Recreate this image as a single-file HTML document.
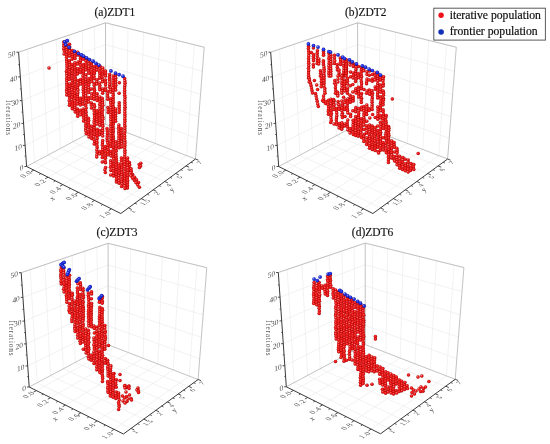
<!DOCTYPE html>
<html><head><meta charset="utf-8"><title>ZDT populations</title>
<style>html,body{margin:0;padding:0;background:#fff;width:550px;height:444px;overflow:hidden}svg{display:block}</style>
</head><body>
<svg width="550" height="444" viewBox="0 0 550 444">
<defs>
<radialGradient id="rb" cx="0.5" cy="0.5" r="0.55" fx="0.38" fy="0.35"><stop offset="0" stop-color="#ff9494"/><stop offset="0.25" stop-color="#f52c2c"/><stop offset="0.6" stop-color="#e01010"/><stop offset="0.85" stop-color="#b40000"/><stop offset="1" stop-color="#900000"/></radialGradient>
<radialGradient id="bb" cx="0.5" cy="0.5" r="0.55" fx="0.38" fy="0.35"><stop offset="0" stop-color="#a0a8ff"/><stop offset="0.3" stop-color="#3040f0"/><stop offset="0.75" stop-color="#1020c0"/><stop offset="1" stop-color="#000880"/></radialGradient>
</defs>
<rect width="550" height="444" fill="#fff"/>
<line x1="34.6" y1="162.3" x2="27.5" y2="49.2" stroke="#eaeaea" stroke-width="0.6"/>
<line x1="47.9" y1="155.2" x2="42.2" y2="44.2" stroke="#eaeaea" stroke-width="0.6"/>
<line x1="60.5" y1="148.4" x2="56.2" y2="39.5" stroke="#eaeaea" stroke-width="0.6"/>
<line x1="72.6" y1="141.9" x2="69.6" y2="35" stroke="#eaeaea" stroke-width="0.6"/>
<line x1="84.2" y1="135.7" x2="82.3" y2="30.7" stroke="#eaeaea" stroke-width="0.6"/>
<line x1="95.4" y1="129.7" x2="94.4" y2="26.6" stroke="#eaeaea" stroke-width="0.6"/>
<line x1="25.1" y1="145.4" x2="105.6" y2="105.3" stroke="#eaeaea" stroke-width="0.6"/>
<line x1="23.6" y1="123.4" x2="105.5" y2="85.7" stroke="#eaeaea" stroke-width="0.6"/>
<line x1="22" y1="100.6" x2="105.5" y2="65.4" stroke="#eaeaea" stroke-width="0.6"/>
<line x1="20.4" y1="76.9" x2="105.5" y2="44.5" stroke="#eaeaea" stroke-width="0.6"/>
<line x1="18.6" y1="52.2" x2="105.5" y2="22.8" stroke="#eaeaea" stroke-width="0.6"/>
<line x1="112.5" y1="127" x2="113.1" y2="24.7" stroke="#eaeaea" stroke-width="0.6"/>
<line x1="126.2" y1="132.3" x2="128" y2="28.4" stroke="#eaeaea" stroke-width="0.6"/>
<line x1="140.5" y1="137.8" x2="143.6" y2="32.2" stroke="#eaeaea" stroke-width="0.6"/>
<line x1="155.3" y1="143.5" x2="159.8" y2="36.2" stroke="#eaeaea" stroke-width="0.6"/>
<line x1="170.7" y1="149.4" x2="176.7" y2="40.4" stroke="#eaeaea" stroke-width="0.6"/>
<line x1="186.7" y1="155.6" x2="194.4" y2="44.8" stroke="#eaeaea" stroke-width="0.6"/>
<line x1="105.6" y1="105.3" x2="197.1" y2="138.3" stroke="#eaeaea" stroke-width="0.6"/>
<line x1="105.5" y1="85.7" x2="198.8" y2="116.8" stroke="#eaeaea" stroke-width="0.6"/>
<line x1="105.5" y1="65.4" x2="200.5" y2="94.4" stroke="#eaeaea" stroke-width="0.6"/>
<line x1="105.5" y1="44.5" x2="202.3" y2="71.3" stroke="#eaeaea" stroke-width="0.6"/>
<line x1="105.5" y1="22.8" x2="204.2" y2="47.2" stroke="#eaeaea" stroke-width="0.6"/>
<line x1="33.8" y1="170.1" x2="112.5" y2="127" stroke="#eaeaea" stroke-width="0.6"/>
<line x1="48" y1="177.2" x2="126.2" y2="132.3" stroke="#eaeaea" stroke-width="0.6"/>
<line x1="62.8" y1="184.6" x2="140.5" y2="137.8" stroke="#eaeaea" stroke-width="0.6"/>
<line x1="78.2" y1="192.3" x2="155.3" y2="143.5" stroke="#eaeaea" stroke-width="0.6"/>
<line x1="94.4" y1="200.4" x2="170.7" y2="149.4" stroke="#eaeaea" stroke-width="0.6"/>
<line x1="111.4" y1="208.8" x2="186.7" y2="155.6" stroke="#eaeaea" stroke-width="0.6"/>
<line x1="34.6" y1="162.3" x2="128.5" y2="207.9" stroke="#eaeaea" stroke-width="0.6"/>
<line x1="47.9" y1="155.2" x2="141.2" y2="198.6" stroke="#eaeaea" stroke-width="0.6"/>
<line x1="60.5" y1="148.4" x2="153.2" y2="189.8" stroke="#eaeaea" stroke-width="0.6"/>
<line x1="72.6" y1="141.9" x2="164.7" y2="181.5" stroke="#eaeaea" stroke-width="0.6"/>
<line x1="84.2" y1="135.7" x2="175.6" y2="173.5" stroke="#eaeaea" stroke-width="0.6"/>
<line x1="95.4" y1="129.7" x2="186" y2="165.9" stroke="#eaeaea" stroke-width="0.6"/>
<line x1="18.6" y1="52.2" x2="105.5" y2="22.8" stroke="#b4b4b4" stroke-width="0.8"/>
<line x1="105.5" y1="22.8" x2="204.2" y2="47.2" stroke="#b4b4b4" stroke-width="0.8"/>
<line x1="204.2" y1="47.2" x2="195.5" y2="159" stroke="#b4b4b4" stroke-width="0.8"/>
<line x1="105.5" y1="22.8" x2="105.6" y2="124.3" stroke="#b4b4b4" stroke-width="0.8"/>
<line x1="105.6" y1="124.3" x2="195.5" y2="159" stroke="#b4b4b4" stroke-width="0.8"/>
<line x1="26.6" y1="166.5" x2="105.6" y2="124.3" stroke="#b4b4b4" stroke-width="0.8"/>
<line x1="26.6" y1="166.5" x2="18.6" y2="52.2" stroke="#3a3a3a" stroke-width="1.0"/>
<line x1="26.6" y1="166.5" x2="120.8" y2="213.5" stroke="#3a3a3a" stroke-width="1.0"/>
<line x1="120.8" y1="213.5" x2="195.5" y2="159" stroke="#3a3a3a" stroke-width="1.0"/>
<line x1="26.6" y1="166.5" x2="24.4" y2="166.5" stroke="#3a3a3a" stroke-width="0.9"/>
<line x1="25.1" y1="145.4" x2="22.9" y2="145.4" stroke="#3a3a3a" stroke-width="0.9"/>
<line x1="23.6" y1="123.4" x2="21.4" y2="123.4" stroke="#3a3a3a" stroke-width="0.9"/>
<line x1="22" y1="100.6" x2="19.8" y2="100.6" stroke="#3a3a3a" stroke-width="0.9"/>
<line x1="20.4" y1="76.9" x2="18.2" y2="76.9" stroke="#3a3a3a" stroke-width="0.9"/>
<line x1="18.6" y1="52.2" x2="16.4" y2="52.2" stroke="#3a3a3a" stroke-width="0.9"/>
<line x1="25.9" y1="156.1" x2="24.6" y2="156.1" stroke="#3a3a3a" stroke-width="0.8"/>
<line x1="24.4" y1="134.5" x2="23.1" y2="134.5" stroke="#3a3a3a" stroke-width="0.8"/>
<line x1="22.8" y1="112.1" x2="21.5" y2="112.1" stroke="#3a3a3a" stroke-width="0.8"/>
<line x1="21.2" y1="88.9" x2="19.9" y2="88.9" stroke="#3a3a3a" stroke-width="0.8"/>
<line x1="19.5" y1="64.7" x2="18.2" y2="64.7" stroke="#3a3a3a" stroke-width="0.8"/>
<line x1="33.8" y1="170.1" x2="31" y2="171.6" stroke="#3a3a3a" stroke-width="0.9"/>
<line x1="48" y1="177.2" x2="45.2" y2="178.7" stroke="#3a3a3a" stroke-width="0.9"/>
<line x1="62.8" y1="184.6" x2="60" y2="186.2" stroke="#3a3a3a" stroke-width="0.9"/>
<line x1="78.2" y1="192.3" x2="75.5" y2="194" stroke="#3a3a3a" stroke-width="0.9"/>
<line x1="94.4" y1="200.4" x2="91.8" y2="202.1" stroke="#3a3a3a" stroke-width="0.9"/>
<line x1="111.4" y1="208.8" x2="108.7" y2="210.7" stroke="#3a3a3a" stroke-width="0.9"/>
<line x1="40.8" y1="173.6" x2="39.1" y2="174.5" stroke="#3a3a3a" stroke-width="0.8"/>
<line x1="55.3" y1="180.8" x2="53.6" y2="181.8" stroke="#3a3a3a" stroke-width="0.8"/>
<line x1="70.4" y1="188.4" x2="68.8" y2="189.4" stroke="#3a3a3a" stroke-width="0.8"/>
<line x1="86.3" y1="196.3" x2="84.6" y2="197.3" stroke="#3a3a3a" stroke-width="0.8"/>
<line x1="102.8" y1="204.5" x2="101.2" y2="205.6" stroke="#3a3a3a" stroke-width="0.8"/>
<line x1="128.5" y1="207.9" x2="131.7" y2="209.5" stroke="#3a3a3a" stroke-width="0.9"/>
<line x1="141.2" y1="198.6" x2="144.4" y2="200.1" stroke="#3a3a3a" stroke-width="0.9"/>
<line x1="153.2" y1="189.8" x2="156.4" y2="191.3" stroke="#3a3a3a" stroke-width="0.9"/>
<line x1="164.7" y1="181.5" x2="167.8" y2="182.8" stroke="#3a3a3a" stroke-width="0.9"/>
<line x1="175.6" y1="173.5" x2="178.7" y2="174.8" stroke="#3a3a3a" stroke-width="0.9"/>
<line x1="186" y1="165.9" x2="189.1" y2="167.2" stroke="#3a3a3a" stroke-width="0.9"/>
<line x1="195.5" y1="159" x2="198.5" y2="160.2" stroke="#3a3a3a" stroke-width="0.9"/>
<line x1="134.9" y1="203.2" x2="136.9" y2="204.1" stroke="#3a3a3a" stroke-width="0.8"/>
<line x1="147.3" y1="194.2" x2="149.2" y2="195.1" stroke="#3a3a3a" stroke-width="0.8"/>
<line x1="159" y1="185.6" x2="160.9" y2="186.4" stroke="#3a3a3a" stroke-width="0.8"/>
<line x1="170.2" y1="177.5" x2="172.1" y2="178.2" stroke="#3a3a3a" stroke-width="0.8"/>
<line x1="180.9" y1="169.7" x2="182.7" y2="170.4" stroke="#3a3a3a" stroke-width="0.8"/>
<line x1="191" y1="162.3" x2="192.9" y2="163" stroke="#3a3a3a" stroke-width="0.8"/>
<text x="0" y="0" font-size="7.8" text-anchor="end" transform="matrix(0.95 -0.3 0 1 23.4 169.9)" fill="#4e4e4e" font-family="Liberation Serif, serif" >0</text>
<text x="0" y="0" font-size="7.8" text-anchor="end" transform="matrix(0.95 -0.3 0 1 21.9 148.8)" fill="#4e4e4e" font-family="Liberation Serif, serif" >10</text>
<text x="0" y="0" font-size="7.8" text-anchor="end" transform="matrix(0.95 -0.3 0 1 20.4 126.8)" fill="#4e4e4e" font-family="Liberation Serif, serif" >20</text>
<text x="0" y="0" font-size="7.8" text-anchor="end" transform="matrix(0.95 -0.3 0 1 18.8 104)" fill="#4e4e4e" font-family="Liberation Serif, serif" >30</text>
<text x="0" y="0" font-size="7.8" text-anchor="end" transform="matrix(0.95 -0.3 0 1 17.2 80.3)" fill="#4e4e4e" font-family="Liberation Serif, serif" >40</text>
<text x="0" y="0" font-size="7.8" text-anchor="end" transform="matrix(0.95 -0.3 0 1 15.4 55.6)" fill="#4e4e4e" font-family="Liberation Serif, serif" >50</text>
<text x="0" y="0" font-size="7.8" letter-spacing="0.3" text-anchor="middle" transform="matrix(0.86 -0.51 0.9 0.4 28.3 175.4)" fill="#4e4e4e" font-family="Liberation Serif, serif" >0.0</text>
<text x="0" y="0" font-size="7.8" letter-spacing="0.3" text-anchor="middle" transform="matrix(0.86 -0.51 0.9 0.4 42.5 183.7)" fill="#4e4e4e" font-family="Liberation Serif, serif" >0.2</text>
<text x="0" y="0" font-size="7.8" letter-spacing="0.3" text-anchor="middle" transform="matrix(0.86 -0.51 0.9 0.4 57.8 191.2)" fill="#4e4e4e" font-family="Liberation Serif, serif" >0.4</text>
<text x="0" y="0" font-size="7.8" letter-spacing="0.3" text-anchor="middle" transform="matrix(0.86 -0.51 0.9 0.4 73.8 197.7)" fill="#4e4e4e" font-family="Liberation Serif, serif" >0.6</text>
<text x="0" y="0" font-size="7.8" letter-spacing="0.3" text-anchor="middle" transform="matrix(0.86 -0.51 0.9 0.4 89.3 207.2)" fill="#4e4e4e" font-family="Liberation Serif, serif" >0.8</text>
<text x="0" y="0" font-size="7.8" letter-spacing="0.3" text-anchor="middle" transform="matrix(0.86 -0.51 0.9 0.4 107.3 215.7)" fill="#4e4e4e" font-family="Liberation Serif, serif" >1.0</text>
<text x="0" y="0" font-size="7" text-anchor="middle" transform="matrix(0.86 -0.51 0.9 0.4 134.4 212.4)" fill="#4e4e4e" font-family="Liberation Serif, serif" >1</text>
<text x="0" y="0" font-size="7" text-anchor="middle" transform="matrix(0.86 -0.51 0.9 0.4 147.1 203.2)" fill="#4e4e4e" font-family="Liberation Serif, serif" >1.5</text>
<text x="0" y="0" font-size="7" text-anchor="middle" transform="matrix(0.86 -0.51 0.9 0.4 159.1 194.4)" fill="#4e4e4e" font-family="Liberation Serif, serif" >2</text>
<text x="0" y="0" font-size="7" text-anchor="middle" transform="matrix(0.86 -0.51 0.9 0.4 170.6 186)" fill="#4e4e4e" font-family="Liberation Serif, serif" >4</text>
<text x="0" y="0" font-size="7" text-anchor="middle" transform="matrix(0.86 -0.51 0.9 0.4 181.5 178.1)" fill="#4e4e4e" font-family="Liberation Serif, serif" >5</text>
<text x="0" y="0" font-size="7" text-anchor="middle" transform="matrix(0.86 -0.51 0.9 0.4 191.9 170.5)" fill="#4e4e4e" font-family="Liberation Serif, serif" >6</text>
<text x="0" y="0" font-size="7" text-anchor="middle" transform="matrix(0.86 -0.51 0.9 0.4 201.4 163.5)" fill="#4e4e4e" font-family="Liberation Serif, serif" >7</text>
<text x="0" y="0" font-size="7.3" letter-spacing="0.85" text-anchor="middle" transform="translate(6.2 118) rotate(90)" fill="#5a5a5a" font-family="Liberation Serif, serif">Iterations</text>
<text x="53.8" y="200" font-size="7.5" text-anchor="middle" transform="rotate(-40 53.8 200)" fill="#4e4e4e" font-family="Liberation Serif, serif" >x</text>
<text x="173.4" y="191" font-size="7.5" text-anchor="middle" transform="rotate(-50 173.4 191)" fill="#4e4e4e" font-family="Liberation Serif, serif" >y</text>
<text x="94.4" y="15.8" font-size="11.5" fill="#111" stroke="#111" stroke-width="0.15" font-family="Liberation Serif, serif">(a)ZDT1</text>
<line x1="286.7" y1="162.3" x2="279.6" y2="49.2" stroke="#eaeaea" stroke-width="0.6"/>
<line x1="300" y1="155.2" x2="294.3" y2="44.2" stroke="#eaeaea" stroke-width="0.6"/>
<line x1="312.6" y1="148.4" x2="308.3" y2="39.5" stroke="#eaeaea" stroke-width="0.6"/>
<line x1="324.7" y1="141.9" x2="321.7" y2="35" stroke="#eaeaea" stroke-width="0.6"/>
<line x1="336.3" y1="135.7" x2="334.4" y2="30.7" stroke="#eaeaea" stroke-width="0.6"/>
<line x1="347.5" y1="129.7" x2="346.5" y2="26.6" stroke="#eaeaea" stroke-width="0.6"/>
<line x1="277.2" y1="145.4" x2="357.7" y2="105.3" stroke="#eaeaea" stroke-width="0.6"/>
<line x1="275.7" y1="123.4" x2="357.6" y2="85.7" stroke="#eaeaea" stroke-width="0.6"/>
<line x1="274.1" y1="100.6" x2="357.6" y2="65.4" stroke="#eaeaea" stroke-width="0.6"/>
<line x1="272.5" y1="76.9" x2="357.6" y2="44.5" stroke="#eaeaea" stroke-width="0.6"/>
<line x1="270.7" y1="52.2" x2="357.6" y2="22.8" stroke="#eaeaea" stroke-width="0.6"/>
<line x1="364.6" y1="127" x2="365.2" y2="24.7" stroke="#eaeaea" stroke-width="0.6"/>
<line x1="378.3" y1="132.3" x2="380.1" y2="28.4" stroke="#eaeaea" stroke-width="0.6"/>
<line x1="392.6" y1="137.8" x2="395.7" y2="32.2" stroke="#eaeaea" stroke-width="0.6"/>
<line x1="407.4" y1="143.5" x2="411.9" y2="36.2" stroke="#eaeaea" stroke-width="0.6"/>
<line x1="422.8" y1="149.4" x2="428.8" y2="40.4" stroke="#eaeaea" stroke-width="0.6"/>
<line x1="438.8" y1="155.6" x2="446.5" y2="44.8" stroke="#eaeaea" stroke-width="0.6"/>
<line x1="357.7" y1="105.3" x2="449.2" y2="138.3" stroke="#eaeaea" stroke-width="0.6"/>
<line x1="357.6" y1="85.7" x2="450.9" y2="116.8" stroke="#eaeaea" stroke-width="0.6"/>
<line x1="357.6" y1="65.4" x2="452.6" y2="94.4" stroke="#eaeaea" stroke-width="0.6"/>
<line x1="357.6" y1="44.5" x2="454.4" y2="71.3" stroke="#eaeaea" stroke-width="0.6"/>
<line x1="357.6" y1="22.8" x2="456.3" y2="47.2" stroke="#eaeaea" stroke-width="0.6"/>
<line x1="285.9" y1="170.1" x2="364.6" y2="127" stroke="#eaeaea" stroke-width="0.6"/>
<line x1="300.1" y1="177.2" x2="378.3" y2="132.3" stroke="#eaeaea" stroke-width="0.6"/>
<line x1="314.9" y1="184.6" x2="392.6" y2="137.8" stroke="#eaeaea" stroke-width="0.6"/>
<line x1="330.3" y1="192.3" x2="407.4" y2="143.5" stroke="#eaeaea" stroke-width="0.6"/>
<line x1="346.5" y1="200.4" x2="422.8" y2="149.4" stroke="#eaeaea" stroke-width="0.6"/>
<line x1="363.5" y1="208.8" x2="438.8" y2="155.6" stroke="#eaeaea" stroke-width="0.6"/>
<line x1="286.7" y1="162.3" x2="380.6" y2="207.9" stroke="#eaeaea" stroke-width="0.6"/>
<line x1="300" y1="155.2" x2="393.3" y2="198.6" stroke="#eaeaea" stroke-width="0.6"/>
<line x1="312.6" y1="148.4" x2="405.3" y2="189.8" stroke="#eaeaea" stroke-width="0.6"/>
<line x1="324.7" y1="141.9" x2="416.8" y2="181.5" stroke="#eaeaea" stroke-width="0.6"/>
<line x1="336.3" y1="135.7" x2="427.7" y2="173.5" stroke="#eaeaea" stroke-width="0.6"/>
<line x1="347.5" y1="129.7" x2="438.1" y2="165.9" stroke="#eaeaea" stroke-width="0.6"/>
<line x1="270.7" y1="52.2" x2="357.6" y2="22.8" stroke="#b4b4b4" stroke-width="0.8"/>
<line x1="357.6" y1="22.8" x2="456.3" y2="47.2" stroke="#b4b4b4" stroke-width="0.8"/>
<line x1="456.3" y1="47.2" x2="447.6" y2="159" stroke="#b4b4b4" stroke-width="0.8"/>
<line x1="357.6" y1="22.8" x2="357.7" y2="124.3" stroke="#b4b4b4" stroke-width="0.8"/>
<line x1="357.7" y1="124.3" x2="447.6" y2="159" stroke="#b4b4b4" stroke-width="0.8"/>
<line x1="278.7" y1="166.5" x2="357.7" y2="124.3" stroke="#b4b4b4" stroke-width="0.8"/>
<line x1="278.7" y1="166.5" x2="270.7" y2="52.2" stroke="#3a3a3a" stroke-width="1.0"/>
<line x1="278.7" y1="166.5" x2="372.9" y2="213.5" stroke="#3a3a3a" stroke-width="1.0"/>
<line x1="372.9" y1="213.5" x2="447.6" y2="159" stroke="#3a3a3a" stroke-width="1.0"/>
<line x1="278.7" y1="166.5" x2="276.5" y2="166.5" stroke="#3a3a3a" stroke-width="0.9"/>
<line x1="277.2" y1="145.4" x2="275" y2="145.4" stroke="#3a3a3a" stroke-width="0.9"/>
<line x1="275.7" y1="123.4" x2="273.5" y2="123.4" stroke="#3a3a3a" stroke-width="0.9"/>
<line x1="274.1" y1="100.6" x2="271.9" y2="100.6" stroke="#3a3a3a" stroke-width="0.9"/>
<line x1="272.5" y1="76.9" x2="270.3" y2="76.9" stroke="#3a3a3a" stroke-width="0.9"/>
<line x1="270.7" y1="52.2" x2="268.5" y2="52.2" stroke="#3a3a3a" stroke-width="0.9"/>
<line x1="278" y1="156.1" x2="276.7" y2="156.1" stroke="#3a3a3a" stroke-width="0.8"/>
<line x1="276.5" y1="134.5" x2="275.2" y2="134.5" stroke="#3a3a3a" stroke-width="0.8"/>
<line x1="274.9" y1="112.1" x2="273.6" y2="112.1" stroke="#3a3a3a" stroke-width="0.8"/>
<line x1="273.3" y1="88.9" x2="272" y2="88.9" stroke="#3a3a3a" stroke-width="0.8"/>
<line x1="271.6" y1="64.7" x2="270.3" y2="64.7" stroke="#3a3a3a" stroke-width="0.8"/>
<line x1="285.9" y1="170.1" x2="283.1" y2="171.6" stroke="#3a3a3a" stroke-width="0.9"/>
<line x1="300.1" y1="177.2" x2="297.3" y2="178.7" stroke="#3a3a3a" stroke-width="0.9"/>
<line x1="314.9" y1="184.6" x2="312.1" y2="186.2" stroke="#3a3a3a" stroke-width="0.9"/>
<line x1="330.3" y1="192.3" x2="327.6" y2="194" stroke="#3a3a3a" stroke-width="0.9"/>
<line x1="346.5" y1="200.4" x2="343.9" y2="202.1" stroke="#3a3a3a" stroke-width="0.9"/>
<line x1="363.5" y1="208.8" x2="360.8" y2="210.7" stroke="#3a3a3a" stroke-width="0.9"/>
<line x1="292.9" y1="173.6" x2="291.2" y2="174.5" stroke="#3a3a3a" stroke-width="0.8"/>
<line x1="307.4" y1="180.8" x2="305.7" y2="181.8" stroke="#3a3a3a" stroke-width="0.8"/>
<line x1="322.5" y1="188.4" x2="320.9" y2="189.4" stroke="#3a3a3a" stroke-width="0.8"/>
<line x1="338.4" y1="196.3" x2="336.7" y2="197.3" stroke="#3a3a3a" stroke-width="0.8"/>
<line x1="354.9" y1="204.5" x2="353.3" y2="205.6" stroke="#3a3a3a" stroke-width="0.8"/>
<line x1="380.6" y1="207.9" x2="383.8" y2="209.5" stroke="#3a3a3a" stroke-width="0.9"/>
<line x1="393.3" y1="198.6" x2="396.5" y2="200.1" stroke="#3a3a3a" stroke-width="0.9"/>
<line x1="405.3" y1="189.8" x2="408.5" y2="191.3" stroke="#3a3a3a" stroke-width="0.9"/>
<line x1="416.8" y1="181.5" x2="419.9" y2="182.8" stroke="#3a3a3a" stroke-width="0.9"/>
<line x1="427.7" y1="173.5" x2="430.8" y2="174.8" stroke="#3a3a3a" stroke-width="0.9"/>
<line x1="438.1" y1="165.9" x2="441.2" y2="167.2" stroke="#3a3a3a" stroke-width="0.9"/>
<line x1="447.6" y1="159" x2="450.6" y2="160.2" stroke="#3a3a3a" stroke-width="0.9"/>
<line x1="387" y1="203.2" x2="389" y2="204.1" stroke="#3a3a3a" stroke-width="0.8"/>
<line x1="399.4" y1="194.2" x2="401.3" y2="195.1" stroke="#3a3a3a" stroke-width="0.8"/>
<line x1="411.1" y1="185.6" x2="413" y2="186.4" stroke="#3a3a3a" stroke-width="0.8"/>
<line x1="422.3" y1="177.5" x2="424.2" y2="178.2" stroke="#3a3a3a" stroke-width="0.8"/>
<line x1="433" y1="169.7" x2="434.8" y2="170.4" stroke="#3a3a3a" stroke-width="0.8"/>
<line x1="443.1" y1="162.3" x2="445" y2="163" stroke="#3a3a3a" stroke-width="0.8"/>
<text x="0" y="0" font-size="7.8" text-anchor="end" transform="matrix(0.95 -0.3 0 1 275.5 169.9)" fill="#4e4e4e" font-family="Liberation Serif, serif" >0</text>
<text x="0" y="0" font-size="7.8" text-anchor="end" transform="matrix(0.95 -0.3 0 1 274 148.8)" fill="#4e4e4e" font-family="Liberation Serif, serif" >10</text>
<text x="0" y="0" font-size="7.8" text-anchor="end" transform="matrix(0.95 -0.3 0 1 272.5 126.8)" fill="#4e4e4e" font-family="Liberation Serif, serif" >20</text>
<text x="0" y="0" font-size="7.8" text-anchor="end" transform="matrix(0.95 -0.3 0 1 270.9 104)" fill="#4e4e4e" font-family="Liberation Serif, serif" >30</text>
<text x="0" y="0" font-size="7.8" text-anchor="end" transform="matrix(0.95 -0.3 0 1 269.3 80.3)" fill="#4e4e4e" font-family="Liberation Serif, serif" >40</text>
<text x="0" y="0" font-size="7.8" text-anchor="end" transform="matrix(0.95 -0.3 0 1 267.5 55.6)" fill="#4e4e4e" font-family="Liberation Serif, serif" >50</text>
<text x="0" y="0" font-size="7.8" letter-spacing="0.3" text-anchor="middle" transform="matrix(0.86 -0.51 0.9 0.4 280.4 175.4)" fill="#4e4e4e" font-family="Liberation Serif, serif" >0.0</text>
<text x="0" y="0" font-size="7.8" letter-spacing="0.3" text-anchor="middle" transform="matrix(0.86 -0.51 0.9 0.4 294.6 183.7)" fill="#4e4e4e" font-family="Liberation Serif, serif" >0.2</text>
<text x="0" y="0" font-size="7.8" letter-spacing="0.3" text-anchor="middle" transform="matrix(0.86 -0.51 0.9 0.4 309.9 191.2)" fill="#4e4e4e" font-family="Liberation Serif, serif" >0.4</text>
<text x="0" y="0" font-size="7.8" letter-spacing="0.3" text-anchor="middle" transform="matrix(0.86 -0.51 0.9 0.4 325.9 197.7)" fill="#4e4e4e" font-family="Liberation Serif, serif" >0.6</text>
<text x="0" y="0" font-size="7.8" letter-spacing="0.3" text-anchor="middle" transform="matrix(0.86 -0.51 0.9 0.4 341.4 207.2)" fill="#4e4e4e" font-family="Liberation Serif, serif" >0.8</text>
<text x="0" y="0" font-size="7.8" letter-spacing="0.3" text-anchor="middle" transform="matrix(0.86 -0.51 0.9 0.4 359.4 215.7)" fill="#4e4e4e" font-family="Liberation Serif, serif" >1.0</text>
<text x="0" y="0" font-size="7" text-anchor="middle" transform="matrix(0.86 -0.51 0.9 0.4 386.5 212.4)" fill="#4e4e4e" font-family="Liberation Serif, serif" >1</text>
<text x="0" y="0" font-size="7" text-anchor="middle" transform="matrix(0.86 -0.51 0.9 0.4 399.2 203.2)" fill="#4e4e4e" font-family="Liberation Serif, serif" >1.5</text>
<text x="0" y="0" font-size="7" text-anchor="middle" transform="matrix(0.86 -0.51 0.9 0.4 411.2 194.4)" fill="#4e4e4e" font-family="Liberation Serif, serif" >2</text>
<text x="0" y="0" font-size="7" text-anchor="middle" transform="matrix(0.86 -0.51 0.9 0.4 422.7 186)" fill="#4e4e4e" font-family="Liberation Serif, serif" >4</text>
<text x="0" y="0" font-size="7" text-anchor="middle" transform="matrix(0.86 -0.51 0.9 0.4 433.6 178.1)" fill="#4e4e4e" font-family="Liberation Serif, serif" >5</text>
<text x="0" y="0" font-size="7" text-anchor="middle" transform="matrix(0.86 -0.51 0.9 0.4 444 170.5)" fill="#4e4e4e" font-family="Liberation Serif, serif" >6</text>
<text x="0" y="0" font-size="7" text-anchor="middle" transform="matrix(0.86 -0.51 0.9 0.4 453.5 163.5)" fill="#4e4e4e" font-family="Liberation Serif, serif" >7</text>
<text x="0" y="0" font-size="7.3" letter-spacing="0.85" text-anchor="middle" transform="translate(258.3 118) rotate(90)" fill="#5a5a5a" font-family="Liberation Serif, serif">Iterations</text>
<text x="305.9" y="200" font-size="7.5" text-anchor="middle" transform="rotate(-40 305.9 200)" fill="#4e4e4e" font-family="Liberation Serif, serif" >x</text>
<text x="425.5" y="191" font-size="7.5" text-anchor="middle" transform="rotate(-50 425.5 191)" fill="#4e4e4e" font-family="Liberation Serif, serif" >y</text>
<text x="345" y="15.8" font-size="11.5" fill="#111" stroke="#111" stroke-width="0.15" font-family="Liberation Serif, serif">(b)ZDT2</text>
<line x1="37.2" y1="382.8" x2="30.1" y2="269.7" stroke="#eaeaea" stroke-width="0.6"/>
<line x1="50.5" y1="375.7" x2="44.8" y2="264.7" stroke="#eaeaea" stroke-width="0.6"/>
<line x1="63.1" y1="368.9" x2="58.8" y2="260" stroke="#eaeaea" stroke-width="0.6"/>
<line x1="75.2" y1="362.4" x2="72.2" y2="255.5" stroke="#eaeaea" stroke-width="0.6"/>
<line x1="86.8" y1="356.2" x2="84.9" y2="251.2" stroke="#eaeaea" stroke-width="0.6"/>
<line x1="98" y1="350.2" x2="97" y2="247.1" stroke="#eaeaea" stroke-width="0.6"/>
<line x1="27.7" y1="365.9" x2="108.2" y2="325.8" stroke="#eaeaea" stroke-width="0.6"/>
<line x1="26.2" y1="343.9" x2="108.1" y2="306.2" stroke="#eaeaea" stroke-width="0.6"/>
<line x1="24.6" y1="321.1" x2="108.1" y2="285.9" stroke="#eaeaea" stroke-width="0.6"/>
<line x1="23" y1="297.4" x2="108.1" y2="265" stroke="#eaeaea" stroke-width="0.6"/>
<line x1="21.2" y1="272.7" x2="108.1" y2="243.3" stroke="#eaeaea" stroke-width="0.6"/>
<line x1="115.1" y1="347.5" x2="115.7" y2="245.2" stroke="#eaeaea" stroke-width="0.6"/>
<line x1="128.8" y1="352.8" x2="130.6" y2="248.9" stroke="#eaeaea" stroke-width="0.6"/>
<line x1="143.1" y1="358.3" x2="146.2" y2="252.7" stroke="#eaeaea" stroke-width="0.6"/>
<line x1="157.9" y1="364" x2="162.4" y2="256.7" stroke="#eaeaea" stroke-width="0.6"/>
<line x1="173.3" y1="369.9" x2="179.3" y2="260.9" stroke="#eaeaea" stroke-width="0.6"/>
<line x1="189.3" y1="376.1" x2="197" y2="265.3" stroke="#eaeaea" stroke-width="0.6"/>
<line x1="108.2" y1="325.8" x2="199.7" y2="358.8" stroke="#eaeaea" stroke-width="0.6"/>
<line x1="108.1" y1="306.2" x2="201.4" y2="337.3" stroke="#eaeaea" stroke-width="0.6"/>
<line x1="108.1" y1="285.9" x2="203.1" y2="314.9" stroke="#eaeaea" stroke-width="0.6"/>
<line x1="108.1" y1="265" x2="204.9" y2="291.8" stroke="#eaeaea" stroke-width="0.6"/>
<line x1="108.1" y1="243.3" x2="206.8" y2="267.7" stroke="#eaeaea" stroke-width="0.6"/>
<line x1="36.4" y1="390.6" x2="115.1" y2="347.5" stroke="#eaeaea" stroke-width="0.6"/>
<line x1="50.6" y1="397.7" x2="128.8" y2="352.8" stroke="#eaeaea" stroke-width="0.6"/>
<line x1="65.4" y1="405.1" x2="143.1" y2="358.3" stroke="#eaeaea" stroke-width="0.6"/>
<line x1="80.8" y1="412.8" x2="157.9" y2="364" stroke="#eaeaea" stroke-width="0.6"/>
<line x1="97" y1="420.9" x2="173.3" y2="369.9" stroke="#eaeaea" stroke-width="0.6"/>
<line x1="114" y1="429.3" x2="189.3" y2="376.1" stroke="#eaeaea" stroke-width="0.6"/>
<line x1="37.2" y1="382.8" x2="131.1" y2="428.4" stroke="#eaeaea" stroke-width="0.6"/>
<line x1="50.5" y1="375.7" x2="143.8" y2="419.1" stroke="#eaeaea" stroke-width="0.6"/>
<line x1="63.1" y1="368.9" x2="155.8" y2="410.3" stroke="#eaeaea" stroke-width="0.6"/>
<line x1="75.2" y1="362.4" x2="167.3" y2="402" stroke="#eaeaea" stroke-width="0.6"/>
<line x1="86.8" y1="356.2" x2="178.2" y2="394" stroke="#eaeaea" stroke-width="0.6"/>
<line x1="98" y1="350.2" x2="188.6" y2="386.4" stroke="#eaeaea" stroke-width="0.6"/>
<line x1="21.2" y1="272.7" x2="108.1" y2="243.3" stroke="#b4b4b4" stroke-width="0.8"/>
<line x1="108.1" y1="243.3" x2="206.8" y2="267.7" stroke="#b4b4b4" stroke-width="0.8"/>
<line x1="206.8" y1="267.7" x2="198.1" y2="379.5" stroke="#b4b4b4" stroke-width="0.8"/>
<line x1="108.1" y1="243.3" x2="108.2" y2="344.8" stroke="#b4b4b4" stroke-width="0.8"/>
<line x1="108.2" y1="344.8" x2="198.1" y2="379.5" stroke="#b4b4b4" stroke-width="0.8"/>
<line x1="29.2" y1="387" x2="108.2" y2="344.8" stroke="#b4b4b4" stroke-width="0.8"/>
<line x1="29.2" y1="387" x2="21.2" y2="272.7" stroke="#3a3a3a" stroke-width="1.0"/>
<line x1="29.2" y1="387" x2="123.4" y2="434" stroke="#3a3a3a" stroke-width="1.0"/>
<line x1="123.4" y1="434" x2="198.1" y2="379.5" stroke="#3a3a3a" stroke-width="1.0"/>
<line x1="29.2" y1="387" x2="27" y2="387" stroke="#3a3a3a" stroke-width="0.9"/>
<line x1="27.7" y1="365.9" x2="25.5" y2="365.9" stroke="#3a3a3a" stroke-width="0.9"/>
<line x1="26.2" y1="343.9" x2="24" y2="343.9" stroke="#3a3a3a" stroke-width="0.9"/>
<line x1="24.6" y1="321.1" x2="22.4" y2="321.1" stroke="#3a3a3a" stroke-width="0.9"/>
<line x1="23" y1="297.4" x2="20.8" y2="297.4" stroke="#3a3a3a" stroke-width="0.9"/>
<line x1="21.2" y1="272.7" x2="19" y2="272.7" stroke="#3a3a3a" stroke-width="0.9"/>
<line x1="28.5" y1="376.6" x2="27.2" y2="376.6" stroke="#3a3a3a" stroke-width="0.8"/>
<line x1="27" y1="355" x2="25.7" y2="355" stroke="#3a3a3a" stroke-width="0.8"/>
<line x1="25.4" y1="332.6" x2="24.1" y2="332.6" stroke="#3a3a3a" stroke-width="0.8"/>
<line x1="23.8" y1="309.4" x2="22.5" y2="309.4" stroke="#3a3a3a" stroke-width="0.8"/>
<line x1="22.1" y1="285.2" x2="20.8" y2="285.2" stroke="#3a3a3a" stroke-width="0.8"/>
<line x1="36.4" y1="390.6" x2="33.6" y2="392.1" stroke="#3a3a3a" stroke-width="0.9"/>
<line x1="50.6" y1="397.7" x2="47.8" y2="399.2" stroke="#3a3a3a" stroke-width="0.9"/>
<line x1="65.4" y1="405.1" x2="62.6" y2="406.7" stroke="#3a3a3a" stroke-width="0.9"/>
<line x1="80.8" y1="412.8" x2="78.1" y2="414.5" stroke="#3a3a3a" stroke-width="0.9"/>
<line x1="97" y1="420.9" x2="94.4" y2="422.6" stroke="#3a3a3a" stroke-width="0.9"/>
<line x1="114" y1="429.3" x2="111.3" y2="431.2" stroke="#3a3a3a" stroke-width="0.9"/>
<line x1="43.4" y1="394.1" x2="41.7" y2="395" stroke="#3a3a3a" stroke-width="0.8"/>
<line x1="57.9" y1="401.3" x2="56.2" y2="402.3" stroke="#3a3a3a" stroke-width="0.8"/>
<line x1="73" y1="408.9" x2="71.4" y2="409.9" stroke="#3a3a3a" stroke-width="0.8"/>
<line x1="88.9" y1="416.8" x2="87.2" y2="417.8" stroke="#3a3a3a" stroke-width="0.8"/>
<line x1="105.4" y1="425" x2="103.8" y2="426.1" stroke="#3a3a3a" stroke-width="0.8"/>
<line x1="131.1" y1="428.4" x2="134.3" y2="430" stroke="#3a3a3a" stroke-width="0.9"/>
<line x1="143.8" y1="419.1" x2="147" y2="420.6" stroke="#3a3a3a" stroke-width="0.9"/>
<line x1="155.8" y1="410.3" x2="159" y2="411.8" stroke="#3a3a3a" stroke-width="0.9"/>
<line x1="167.3" y1="402" x2="170.4" y2="403.3" stroke="#3a3a3a" stroke-width="0.9"/>
<line x1="178.2" y1="394" x2="181.3" y2="395.3" stroke="#3a3a3a" stroke-width="0.9"/>
<line x1="188.6" y1="386.4" x2="191.7" y2="387.7" stroke="#3a3a3a" stroke-width="0.9"/>
<line x1="198.1" y1="379.5" x2="201.1" y2="380.7" stroke="#3a3a3a" stroke-width="0.9"/>
<line x1="137.5" y1="423.7" x2="139.5" y2="424.6" stroke="#3a3a3a" stroke-width="0.8"/>
<line x1="149.9" y1="414.7" x2="151.8" y2="415.6" stroke="#3a3a3a" stroke-width="0.8"/>
<line x1="161.6" y1="406.1" x2="163.5" y2="406.9" stroke="#3a3a3a" stroke-width="0.8"/>
<line x1="172.8" y1="398" x2="174.7" y2="398.7" stroke="#3a3a3a" stroke-width="0.8"/>
<line x1="183.5" y1="390.2" x2="185.3" y2="390.9" stroke="#3a3a3a" stroke-width="0.8"/>
<line x1="193.6" y1="382.8" x2="195.5" y2="383.5" stroke="#3a3a3a" stroke-width="0.8"/>
<text x="0" y="0" font-size="7.8" text-anchor="end" transform="matrix(0.95 -0.3 0 1 26 390.4)" fill="#4e4e4e" font-family="Liberation Serif, serif" >0</text>
<text x="0" y="0" font-size="7.8" text-anchor="end" transform="matrix(0.95 -0.3 0 1 24.5 369.3)" fill="#4e4e4e" font-family="Liberation Serif, serif" >10</text>
<text x="0" y="0" font-size="7.8" text-anchor="end" transform="matrix(0.95 -0.3 0 1 23 347.3)" fill="#4e4e4e" font-family="Liberation Serif, serif" >20</text>
<text x="0" y="0" font-size="7.8" text-anchor="end" transform="matrix(0.95 -0.3 0 1 21.4 324.5)" fill="#4e4e4e" font-family="Liberation Serif, serif" >30</text>
<text x="0" y="0" font-size="7.8" text-anchor="end" transform="matrix(0.95 -0.3 0 1 19.8 300.8)" fill="#4e4e4e" font-family="Liberation Serif, serif" >40</text>
<text x="0" y="0" font-size="7.8" text-anchor="end" transform="matrix(0.95 -0.3 0 1 18 276.1)" fill="#4e4e4e" font-family="Liberation Serif, serif" >50</text>
<text x="0" y="0" font-size="7.8" letter-spacing="0.3" text-anchor="middle" transform="matrix(0.86 -0.51 0.9 0.4 30.9 395.9)" fill="#4e4e4e" font-family="Liberation Serif, serif" >0.0</text>
<text x="0" y="0" font-size="7.8" letter-spacing="0.3" text-anchor="middle" transform="matrix(0.86 -0.51 0.9 0.4 45.1 404.2)" fill="#4e4e4e" font-family="Liberation Serif, serif" >0.2</text>
<text x="0" y="0" font-size="7.8" letter-spacing="0.3" text-anchor="middle" transform="matrix(0.86 -0.51 0.9 0.4 60.4 411.7)" fill="#4e4e4e" font-family="Liberation Serif, serif" >0.4</text>
<text x="0" y="0" font-size="7.8" letter-spacing="0.3" text-anchor="middle" transform="matrix(0.86 -0.51 0.9 0.4 76.4 418.2)" fill="#4e4e4e" font-family="Liberation Serif, serif" >0.6</text>
<text x="0" y="0" font-size="7.8" letter-spacing="0.3" text-anchor="middle" transform="matrix(0.86 -0.51 0.9 0.4 91.9 427.7)" fill="#4e4e4e" font-family="Liberation Serif, serif" >0.8</text>
<text x="0" y="0" font-size="7.8" letter-spacing="0.3" text-anchor="middle" transform="matrix(0.86 -0.51 0.9 0.4 109.9 436.2)" fill="#4e4e4e" font-family="Liberation Serif, serif" >1.0</text>
<text x="0" y="0" font-size="7" text-anchor="middle" transform="matrix(0.86 -0.51 0.9 0.4 137 432.9)" fill="#4e4e4e" font-family="Liberation Serif, serif" >1</text>
<text x="0" y="0" font-size="7" text-anchor="middle" transform="matrix(0.86 -0.51 0.9 0.4 149.7 423.7)" fill="#4e4e4e" font-family="Liberation Serif, serif" >1.5</text>
<text x="0" y="0" font-size="7" text-anchor="middle" transform="matrix(0.86 -0.51 0.9 0.4 161.7 414.9)" fill="#4e4e4e" font-family="Liberation Serif, serif" >2</text>
<text x="0" y="0" font-size="7" text-anchor="middle" transform="matrix(0.86 -0.51 0.9 0.4 173.2 406.5)" fill="#4e4e4e" font-family="Liberation Serif, serif" >4</text>
<text x="0" y="0" font-size="7" text-anchor="middle" transform="matrix(0.86 -0.51 0.9 0.4 184.1 398.6)" fill="#4e4e4e" font-family="Liberation Serif, serif" >5</text>
<text x="0" y="0" font-size="7" text-anchor="middle" transform="matrix(0.86 -0.51 0.9 0.4 194.5 391)" fill="#4e4e4e" font-family="Liberation Serif, serif" >6</text>
<text x="0" y="0" font-size="7" text-anchor="middle" transform="matrix(0.86 -0.51 0.9 0.4 204 384)" fill="#4e4e4e" font-family="Liberation Serif, serif" >7</text>
<text x="0" y="0" font-size="7.3" letter-spacing="0.85" text-anchor="middle" transform="translate(8.8 338.5) rotate(90)" fill="#5a5a5a" font-family="Liberation Serif, serif">Iterations</text>
<text x="56.4" y="420.5" font-size="7.5" text-anchor="middle" transform="rotate(-40 56.4 420.5)" fill="#4e4e4e" font-family="Liberation Serif, serif" >x</text>
<text x="176" y="411.5" font-size="7.5" text-anchor="middle" transform="rotate(-50 176 411.5)" fill="#4e4e4e" font-family="Liberation Serif, serif" >y</text>
<text x="96.6" y="236.3" font-size="11.5" fill="#111" stroke="#111" stroke-width="0.15" font-family="Liberation Serif, serif">(c)ZDT3</text>
<line x1="294.3" y1="382.6" x2="287.2" y2="269.5" stroke="#eaeaea" stroke-width="0.6"/>
<line x1="307.6" y1="375.5" x2="301.9" y2="264.5" stroke="#eaeaea" stroke-width="0.6"/>
<line x1="320.2" y1="368.7" x2="315.9" y2="259.8" stroke="#eaeaea" stroke-width="0.6"/>
<line x1="332.3" y1="362.2" x2="329.3" y2="255.3" stroke="#eaeaea" stroke-width="0.6"/>
<line x1="343.9" y1="356" x2="342" y2="251" stroke="#eaeaea" stroke-width="0.6"/>
<line x1="355.1" y1="350" x2="354.1" y2="246.9" stroke="#eaeaea" stroke-width="0.6"/>
<line x1="284.8" y1="365.7" x2="365.3" y2="325.6" stroke="#eaeaea" stroke-width="0.6"/>
<line x1="283.3" y1="343.7" x2="365.2" y2="306" stroke="#eaeaea" stroke-width="0.6"/>
<line x1="281.7" y1="320.9" x2="365.2" y2="285.7" stroke="#eaeaea" stroke-width="0.6"/>
<line x1="280.1" y1="297.2" x2="365.2" y2="264.8" stroke="#eaeaea" stroke-width="0.6"/>
<line x1="278.3" y1="272.5" x2="365.2" y2="243.1" stroke="#eaeaea" stroke-width="0.6"/>
<line x1="372.2" y1="347.3" x2="372.8" y2="245" stroke="#eaeaea" stroke-width="0.6"/>
<line x1="385.9" y1="352.6" x2="387.7" y2="248.7" stroke="#eaeaea" stroke-width="0.6"/>
<line x1="400.2" y1="358.1" x2="403.3" y2="252.5" stroke="#eaeaea" stroke-width="0.6"/>
<line x1="415" y1="363.8" x2="419.5" y2="256.5" stroke="#eaeaea" stroke-width="0.6"/>
<line x1="430.4" y1="369.7" x2="436.4" y2="260.7" stroke="#eaeaea" stroke-width="0.6"/>
<line x1="446.4" y1="375.9" x2="454.1" y2="265.1" stroke="#eaeaea" stroke-width="0.6"/>
<line x1="365.3" y1="325.6" x2="456.8" y2="358.6" stroke="#eaeaea" stroke-width="0.6"/>
<line x1="365.2" y1="306" x2="458.5" y2="337.1" stroke="#eaeaea" stroke-width="0.6"/>
<line x1="365.2" y1="285.7" x2="460.2" y2="314.7" stroke="#eaeaea" stroke-width="0.6"/>
<line x1="365.2" y1="264.8" x2="462" y2="291.6" stroke="#eaeaea" stroke-width="0.6"/>
<line x1="365.2" y1="243.1" x2="463.9" y2="267.5" stroke="#eaeaea" stroke-width="0.6"/>
<line x1="293.5" y1="390.4" x2="372.2" y2="347.3" stroke="#eaeaea" stroke-width="0.6"/>
<line x1="307.7" y1="397.5" x2="385.9" y2="352.6" stroke="#eaeaea" stroke-width="0.6"/>
<line x1="322.5" y1="404.9" x2="400.2" y2="358.1" stroke="#eaeaea" stroke-width="0.6"/>
<line x1="337.9" y1="412.6" x2="415" y2="363.8" stroke="#eaeaea" stroke-width="0.6"/>
<line x1="354.1" y1="420.7" x2="430.4" y2="369.7" stroke="#eaeaea" stroke-width="0.6"/>
<line x1="371.1" y1="429.1" x2="446.4" y2="375.9" stroke="#eaeaea" stroke-width="0.6"/>
<line x1="294.3" y1="382.6" x2="388.2" y2="428.2" stroke="#eaeaea" stroke-width="0.6"/>
<line x1="307.6" y1="375.5" x2="400.9" y2="418.9" stroke="#eaeaea" stroke-width="0.6"/>
<line x1="320.2" y1="368.7" x2="412.9" y2="410.1" stroke="#eaeaea" stroke-width="0.6"/>
<line x1="332.3" y1="362.2" x2="424.4" y2="401.8" stroke="#eaeaea" stroke-width="0.6"/>
<line x1="343.9" y1="356" x2="435.3" y2="393.8" stroke="#eaeaea" stroke-width="0.6"/>
<line x1="355.1" y1="350" x2="445.7" y2="386.2" stroke="#eaeaea" stroke-width="0.6"/>
<line x1="278.3" y1="272.5" x2="365.2" y2="243.1" stroke="#b4b4b4" stroke-width="0.8"/>
<line x1="365.2" y1="243.1" x2="463.9" y2="267.5" stroke="#b4b4b4" stroke-width="0.8"/>
<line x1="463.9" y1="267.5" x2="455.2" y2="379.3" stroke="#b4b4b4" stroke-width="0.8"/>
<line x1="365.2" y1="243.1" x2="365.3" y2="344.6" stroke="#b4b4b4" stroke-width="0.8"/>
<line x1="365.3" y1="344.6" x2="455.2" y2="379.3" stroke="#b4b4b4" stroke-width="0.8"/>
<line x1="286.3" y1="386.8" x2="365.3" y2="344.6" stroke="#b4b4b4" stroke-width="0.8"/>
<line x1="286.3" y1="386.8" x2="278.3" y2="272.5" stroke="#3a3a3a" stroke-width="1.0"/>
<line x1="286.3" y1="386.8" x2="380.5" y2="433.8" stroke="#3a3a3a" stroke-width="1.0"/>
<line x1="380.5" y1="433.8" x2="455.2" y2="379.3" stroke="#3a3a3a" stroke-width="1.0"/>
<line x1="286.3" y1="386.8" x2="284.1" y2="386.8" stroke="#3a3a3a" stroke-width="0.9"/>
<line x1="284.8" y1="365.7" x2="282.6" y2="365.7" stroke="#3a3a3a" stroke-width="0.9"/>
<line x1="283.3" y1="343.7" x2="281.1" y2="343.7" stroke="#3a3a3a" stroke-width="0.9"/>
<line x1="281.7" y1="320.9" x2="279.5" y2="320.9" stroke="#3a3a3a" stroke-width="0.9"/>
<line x1="280.1" y1="297.2" x2="277.9" y2="297.2" stroke="#3a3a3a" stroke-width="0.9"/>
<line x1="278.3" y1="272.5" x2="276.1" y2="272.5" stroke="#3a3a3a" stroke-width="0.9"/>
<line x1="285.6" y1="376.4" x2="284.3" y2="376.4" stroke="#3a3a3a" stroke-width="0.8"/>
<line x1="284.1" y1="354.8" x2="282.8" y2="354.8" stroke="#3a3a3a" stroke-width="0.8"/>
<line x1="282.5" y1="332.4" x2="281.2" y2="332.4" stroke="#3a3a3a" stroke-width="0.8"/>
<line x1="280.9" y1="309.2" x2="279.6" y2="309.2" stroke="#3a3a3a" stroke-width="0.8"/>
<line x1="279.2" y1="285" x2="277.9" y2="285" stroke="#3a3a3a" stroke-width="0.8"/>
<line x1="293.5" y1="390.4" x2="290.7" y2="391.9" stroke="#3a3a3a" stroke-width="0.9"/>
<line x1="307.7" y1="397.5" x2="304.9" y2="399" stroke="#3a3a3a" stroke-width="0.9"/>
<line x1="322.5" y1="404.9" x2="319.7" y2="406.5" stroke="#3a3a3a" stroke-width="0.9"/>
<line x1="337.9" y1="412.6" x2="335.2" y2="414.3" stroke="#3a3a3a" stroke-width="0.9"/>
<line x1="354.1" y1="420.7" x2="351.5" y2="422.4" stroke="#3a3a3a" stroke-width="0.9"/>
<line x1="371.1" y1="429.1" x2="368.4" y2="431" stroke="#3a3a3a" stroke-width="0.9"/>
<line x1="300.5" y1="393.9" x2="298.8" y2="394.8" stroke="#3a3a3a" stroke-width="0.8"/>
<line x1="315" y1="401.1" x2="313.3" y2="402.1" stroke="#3a3a3a" stroke-width="0.8"/>
<line x1="330.1" y1="408.7" x2="328.5" y2="409.7" stroke="#3a3a3a" stroke-width="0.8"/>
<line x1="346" y1="416.6" x2="344.3" y2="417.6" stroke="#3a3a3a" stroke-width="0.8"/>
<line x1="362.5" y1="424.8" x2="360.9" y2="425.9" stroke="#3a3a3a" stroke-width="0.8"/>
<line x1="388.2" y1="428.2" x2="391.4" y2="429.8" stroke="#3a3a3a" stroke-width="0.9"/>
<line x1="400.9" y1="418.9" x2="404.1" y2="420.4" stroke="#3a3a3a" stroke-width="0.9"/>
<line x1="412.9" y1="410.1" x2="416.1" y2="411.6" stroke="#3a3a3a" stroke-width="0.9"/>
<line x1="424.4" y1="401.8" x2="427.5" y2="403.1" stroke="#3a3a3a" stroke-width="0.9"/>
<line x1="435.3" y1="393.8" x2="438.4" y2="395.1" stroke="#3a3a3a" stroke-width="0.9"/>
<line x1="445.7" y1="386.2" x2="448.8" y2="387.5" stroke="#3a3a3a" stroke-width="0.9"/>
<line x1="455.2" y1="379.3" x2="458.2" y2="380.5" stroke="#3a3a3a" stroke-width="0.9"/>
<line x1="394.6" y1="423.5" x2="396.6" y2="424.4" stroke="#3a3a3a" stroke-width="0.8"/>
<line x1="407" y1="414.5" x2="408.9" y2="415.4" stroke="#3a3a3a" stroke-width="0.8"/>
<line x1="418.7" y1="405.9" x2="420.6" y2="406.7" stroke="#3a3a3a" stroke-width="0.8"/>
<line x1="429.9" y1="397.8" x2="431.8" y2="398.5" stroke="#3a3a3a" stroke-width="0.8"/>
<line x1="440.6" y1="390" x2="442.4" y2="390.7" stroke="#3a3a3a" stroke-width="0.8"/>
<line x1="450.7" y1="382.6" x2="452.6" y2="383.3" stroke="#3a3a3a" stroke-width="0.8"/>
<text x="0" y="0" font-size="7.8" text-anchor="end" transform="matrix(0.95 -0.3 0 1 283.1 390.2)" fill="#4e4e4e" font-family="Liberation Serif, serif" >0</text>
<text x="0" y="0" font-size="7.8" text-anchor="end" transform="matrix(0.95 -0.3 0 1 281.6 369.1)" fill="#4e4e4e" font-family="Liberation Serif, serif" >10</text>
<text x="0" y="0" font-size="7.8" text-anchor="end" transform="matrix(0.95 -0.3 0 1 280.1 347.1)" fill="#4e4e4e" font-family="Liberation Serif, serif" >20</text>
<text x="0" y="0" font-size="7.8" text-anchor="end" transform="matrix(0.95 -0.3 0 1 278.5 324.3)" fill="#4e4e4e" font-family="Liberation Serif, serif" >30</text>
<text x="0" y="0" font-size="7.8" text-anchor="end" transform="matrix(0.95 -0.3 0 1 276.9 300.6)" fill="#4e4e4e" font-family="Liberation Serif, serif" >40</text>
<text x="0" y="0" font-size="7.8" text-anchor="end" transform="matrix(0.95 -0.3 0 1 275.1 275.9)" fill="#4e4e4e" font-family="Liberation Serif, serif" >50</text>
<text x="0" y="0" font-size="7.8" letter-spacing="0.3" text-anchor="middle" transform="matrix(0.86 -0.51 0.9 0.4 288 395.7)" fill="#4e4e4e" font-family="Liberation Serif, serif" >0.0</text>
<text x="0" y="0" font-size="7.8" letter-spacing="0.3" text-anchor="middle" transform="matrix(0.86 -0.51 0.9 0.4 302.2 404)" fill="#4e4e4e" font-family="Liberation Serif, serif" >0.2</text>
<text x="0" y="0" font-size="7.8" letter-spacing="0.3" text-anchor="middle" transform="matrix(0.86 -0.51 0.9 0.4 317.5 411.5)" fill="#4e4e4e" font-family="Liberation Serif, serif" >0.4</text>
<text x="0" y="0" font-size="7.8" letter-spacing="0.3" text-anchor="middle" transform="matrix(0.86 -0.51 0.9 0.4 333.5 418)" fill="#4e4e4e" font-family="Liberation Serif, serif" >0.6</text>
<text x="0" y="0" font-size="7.8" letter-spacing="0.3" text-anchor="middle" transform="matrix(0.86 -0.51 0.9 0.4 349 427.5)" fill="#4e4e4e" font-family="Liberation Serif, serif" >0.8</text>
<text x="0" y="0" font-size="7.8" letter-spacing="0.3" text-anchor="middle" transform="matrix(0.86 -0.51 0.9 0.4 367 436)" fill="#4e4e4e" font-family="Liberation Serif, serif" >1.0</text>
<text x="0" y="0" font-size="7" text-anchor="middle" transform="matrix(0.86 -0.51 0.9 0.4 394.1 432.7)" fill="#4e4e4e" font-family="Liberation Serif, serif" >1</text>
<text x="0" y="0" font-size="7" text-anchor="middle" transform="matrix(0.86 -0.51 0.9 0.4 406.8 423.5)" fill="#4e4e4e" font-family="Liberation Serif, serif" >1.5</text>
<text x="0" y="0" font-size="7" text-anchor="middle" transform="matrix(0.86 -0.51 0.9 0.4 418.8 414.7)" fill="#4e4e4e" font-family="Liberation Serif, serif" >2</text>
<text x="0" y="0" font-size="7" text-anchor="middle" transform="matrix(0.86 -0.51 0.9 0.4 430.3 406.3)" fill="#4e4e4e" font-family="Liberation Serif, serif" >4</text>
<text x="0" y="0" font-size="7" text-anchor="middle" transform="matrix(0.86 -0.51 0.9 0.4 441.2 398.4)" fill="#4e4e4e" font-family="Liberation Serif, serif" >5</text>
<text x="0" y="0" font-size="7" text-anchor="middle" transform="matrix(0.86 -0.51 0.9 0.4 451.6 390.8)" fill="#4e4e4e" font-family="Liberation Serif, serif" >6</text>
<text x="0" y="0" font-size="7" text-anchor="middle" transform="matrix(0.86 -0.51 0.9 0.4 461.1 383.8)" fill="#4e4e4e" font-family="Liberation Serif, serif" >7</text>
<text x="0" y="0" font-size="7.3" letter-spacing="0.85" text-anchor="middle" transform="translate(265.9 338.3) rotate(90)" fill="#5a5a5a" font-family="Liberation Serif, serif">Iterations</text>
<text x="313.5" y="420.3" font-size="7.5" text-anchor="middle" transform="rotate(-40 313.5 420.3)" fill="#4e4e4e" font-family="Liberation Serif, serif" >x</text>
<text x="433.1" y="411.3" font-size="7.5" text-anchor="middle" transform="rotate(-50 433.1 411.3)" fill="#4e4e4e" font-family="Liberation Serif, serif" >y</text>
<text x="351.8" y="236.1" font-size="11.5" fill="#111" stroke="#111" stroke-width="0.15" font-family="Liberation Serif, serif">(d)ZDT6</text>
<circle cx="66.7" cy="41.1" r="1.75" fill="url(#rb)"/><circle cx="63.8" cy="42.1" r="1.75" fill="url(#rb)"/><circle cx="64" cy="44.2" r="1.75" fill="url(#rb)"/><circle cx="69.5" cy="44.3" r="1.75" fill="url(#rb)"/><circle cx="66.6" cy="45.2" r="1.75" fill="url(#rb)"/><circle cx="64" cy="46.3" r="1.75" fill="url(#rb)"/><circle cx="69.7" cy="46.9" r="1.75" fill="url(#rb)"/><circle cx="66.6" cy="48" r="1.75" fill="url(#rb)"/><circle cx="63.7" cy="48.7" r="1.75" fill="url(#rb)"/><circle cx="69.4" cy="48.9" r="1.75" fill="url(#rb)"/><circle cx="66.8" cy="50.3" r="1.75" fill="url(#rb)"/><circle cx="72.3" cy="50.4" r="1.75" fill="url(#rb)"/><circle cx="64.2" cy="51.1" r="1.75" fill="url(#rb)"/><circle cx="69.8" cy="51.1" r="1.75" fill="url(#rb)"/><circle cx="74.7" cy="51.6" r="1.75" fill="url(#rb)"/><circle cx="77.7" cy="52.2" r="1.75" fill="url(#rb)"/><circle cx="66.8" cy="52.2" r="1.75" fill="url(#rb)"/><circle cx="72.1" cy="52.7" r="1.75" fill="url(#rb)"/><circle cx="69.3" cy="53.5" r="1.75" fill="url(#rb)"/><circle cx="75" cy="53.8" r="1.75" fill="url(#rb)"/><circle cx="64.1" cy="54" r="1.75" fill="url(#rb)"/><circle cx="77.8" cy="54.9" r="1.75" fill="url(#rb)"/><circle cx="66.5" cy="55" r="1.75" fill="url(#rb)"/><circle cx="72.5" cy="55.1" r="1.75" fill="url(#rb)"/><circle cx="69.6" cy="55.9" r="1.75" fill="url(#rb)"/><circle cx="80.5" cy="56.2" r="1.75" fill="url(#rb)"/><circle cx="74.9" cy="56.3" r="1.75" fill="url(#rb)"/><circle cx="83.6" cy="57" r="1.75" fill="url(#rb)"/><circle cx="72.4" cy="57" r="1.75" fill="url(#rb)"/><circle cx="66.6" cy="57.3" r="1.75" fill="url(#rb)"/><circle cx="85.8" cy="58.2" r="1.75" fill="url(#rb)"/><circle cx="75" cy="58.4" r="1.75" fill="url(#rb)"/><circle cx="80.4" cy="58.6" r="1.75" fill="url(#rb)"/><circle cx="72.1" cy="59.2" r="1.75" fill="url(#rb)"/><circle cx="83.4" cy="59.3" r="1.75" fill="url(#rb)"/><circle cx="88.7" cy="59.6" r="1.75" fill="url(#rb)"/><circle cx="66.6" cy="59.8" r="1.75" fill="url(#rb)"/><circle cx="80.6" cy="60.7" r="1.75" fill="url(#rb)"/><circle cx="69.4" cy="60.8" r="1.75" fill="url(#rb)"/><circle cx="85.8" cy="60.8" r="1.75" fill="url(#rb)"/><circle cx="88.6" cy="61.6" r="1.75" fill="url(#rb)"/><circle cx="66.6" cy="62" r="1.75" fill="url(#rb)"/><circle cx="78.1" cy="62.1" r="1.75" fill="url(#rb)"/><circle cx="74.8" cy="62.8" r="1.75" fill="url(#rb)"/><circle cx="80.2" cy="62.8" r="1.75" fill="url(#rb)"/><circle cx="69.6" cy="63.1" r="1.75" fill="url(#rb)"/><circle cx="91.4" cy="63.2" r="1.75" fill="url(#rb)"/><circle cx="86" cy="63.4" r="1.75" fill="url(#rb)"/><circle cx="89.1" cy="64" r="1.75" fill="url(#rb)"/><circle cx="77.5" cy="64.1" r="1.75" fill="url(#rb)"/><circle cx="83.5" cy="64.4" r="1.75" fill="url(#rb)"/><circle cx="72.1" cy="64.4" r="1.75" fill="url(#rb)"/><circle cx="67" cy="64.4" r="1.75" fill="url(#rb)"/><circle cx="69.6" cy="65.1" r="1.75" fill="url(#rb)"/><circle cx="97.3" cy="65.2" r="1.75" fill="url(#rb)"/><circle cx="80.7" cy="65.3" r="1.75" fill="url(#rb)"/><circle cx="74.8" cy="65.4" r="1.75" fill="url(#rb)"/><circle cx="86.2" cy="65.5" r="1.75" fill="url(#rb)"/><circle cx="91.7" cy="65.6" r="1.75" fill="url(#rb)"/><circle cx="100" cy="66.3" r="1.75" fill="url(#rb)"/><circle cx="67.1" cy="66.4" r="1.75" fill="url(#rb)"/><circle cx="83.5" cy="66.4" r="1.75" fill="url(#rb)"/><circle cx="94.5" cy="66.5" r="1.75" fill="url(#rb)"/><circle cx="88.8" cy="66.9" r="1.75" fill="url(#rb)"/><circle cx="72.2" cy="66.9" r="1.75" fill="url(#rb)"/><circle cx="97.1" cy="67.6" r="1.75" fill="url(#rb)"/><circle cx="86.1" cy="67.6" r="1.75" fill="url(#rb)"/><circle cx="75" cy="67.7" r="1.75" fill="url(#rb)"/><circle cx="102.8" cy="67.9" r="1.75" fill="url(#rb)"/><circle cx="49" cy="68" r="1.75" fill="url(#rb)"/><circle cx="80.2" cy="68" r="1.75" fill="url(#rb)"/><circle cx="69.7" cy="68.1" r="1.75" fill="url(#rb)"/><circle cx="91.3" cy="68.1" r="1.75" fill="url(#rb)"/><circle cx="99.9" cy="68.7" r="1.75" fill="url(#rb)"/><circle cx="77.6" cy="68.7" r="1.75" fill="url(#rb)"/><circle cx="66.9" cy="68.7" r="1.75" fill="url(#rb)"/><circle cx="88.6" cy="68.8" r="1.75" fill="url(#rb)"/><circle cx="94.5" cy="68.9" r="1.75" fill="url(#rb)"/><circle cx="72.6" cy="68.9" r="1.75" fill="url(#rb)"/><circle cx="83.3" cy="69.2" r="1.75" fill="url(#rb)"/><circle cx="86" cy="69.8" r="1.75" fill="url(#rb)"/><circle cx="96.7" cy="69.9" r="1.75" fill="url(#rb)"/><circle cx="91.7" cy="70" r="1.75" fill="url(#rb)"/><circle cx="102.7" cy="70" r="1.75" fill="url(#rb)"/><circle cx="80.6" cy="70" r="1.75" fill="url(#rb)"/><circle cx="69.4" cy="70.1" r="1.75" fill="url(#rb)"/><circle cx="75" cy="70.3" r="1.75" fill="url(#rb)"/><circle cx="105.5" cy="71" r="1.75" fill="url(#rb)"/><circle cx="72.1" cy="71.1" r="1.75" fill="url(#rb)"/><circle cx="83.5" cy="71.4" r="1.75" fill="url(#rb)"/><circle cx="99.5" cy="71.4" r="1.75" fill="url(#rb)"/><circle cx="94.6" cy="71.4" r="1.75" fill="url(#rb)"/><circle cx="66.4" cy="71.4" r="1.75" fill="url(#rb)"/><circle cx="78" cy="71.5" r="1.75" fill="url(#rb)"/><circle cx="88.7" cy="71.6" r="1.75" fill="url(#rb)"/><circle cx="69.6" cy="72.2" r="1.75" fill="url(#rb)"/><circle cx="75" cy="72.3" r="1.75" fill="url(#rb)"/><circle cx="91.7" cy="72.4" r="1.75" fill="url(#rb)"/><circle cx="102.6" cy="72.4" r="1.75" fill="url(#rb)"/><circle cx="80.4" cy="72.5" r="1.75" fill="url(#rb)"/><circle cx="89" cy="73.3" r="1.75" fill="url(#rb)"/><circle cx="105.6" cy="73.5" r="1.75" fill="url(#rb)"/><circle cx="99.8" cy="73.5" r="1.75" fill="url(#rb)"/><circle cx="94.4" cy="73.5" r="1.75" fill="url(#rb)"/><circle cx="83.4" cy="73.8" r="1.75" fill="url(#rb)"/><circle cx="66.8" cy="73.9" r="1.75" fill="url(#rb)"/><circle cx="72.3" cy="74" r="1.75" fill="url(#rb)"/><circle cx="77.5" cy="74" r="1.75" fill="url(#rb)"/><circle cx="109.7" cy="74.5" r="1.75" fill="url(#rb)"/><circle cx="69.3" cy="74.6" r="1.75" fill="url(#rb)"/><circle cx="102.5" cy="74.6" r="1.75" fill="url(#rb)"/><circle cx="91.5" cy="74.6" r="1.75" fill="url(#rb)"/><circle cx="86" cy="74.7" r="1.75" fill="url(#rb)"/><circle cx="75.2" cy="74.9" r="1.75" fill="url(#rb)"/><circle cx="115.5" cy="75.5" r="1.75" fill="url(#rb)"/><circle cx="82.9" cy="75.8" r="1.75" fill="url(#rb)"/><circle cx="99.8" cy="76" r="1.75" fill="url(#rb)"/><circle cx="105.5" cy="76" r="1.75" fill="url(#rb)"/><circle cx="113.2" cy="76" r="1.75" fill="url(#rb)"/><circle cx="66.9" cy="76.1" r="1.75" fill="url(#rb)"/><circle cx="72.2" cy="76.1" r="1.75" fill="url(#rb)"/><circle cx="93.9" cy="76.2" r="1.75" fill="url(#rb)"/><circle cx="69.2" cy="76.9" r="1.75" fill="url(#rb)"/><circle cx="109.4" cy="77" r="1.75" fill="url(#rb)"/><circle cx="85.9" cy="77.1" r="1.75" fill="url(#rb)"/><circle cx="91.4" cy="77.3" r="1.75" fill="url(#rb)"/><circle cx="102.2" cy="77.4" r="1.75" fill="url(#rb)"/><circle cx="75.2" cy="77.5" r="1.75" fill="url(#rb)"/><circle cx="115.8" cy="77.9" r="1.75" fill="url(#rb)"/><circle cx="99.7" cy="78.3" r="1.75" fill="url(#rb)"/><circle cx="89" cy="78.4" r="1.75" fill="url(#rb)"/><circle cx="113.1" cy="78.4" r="1.75" fill="url(#rb)"/><circle cx="72" cy="78.5" r="1.75" fill="url(#rb)"/><circle cx="124.6" cy="78.5" r="1.75" fill="url(#rb)"/><circle cx="83" cy="78.6" r="1.75" fill="url(#rb)"/><circle cx="66.7" cy="78.6" r="1.75" fill="url(#rb)"/><circle cx="94.3" cy="78.7" r="1.75" fill="url(#rb)"/><circle cx="80.5" cy="79.4" r="1.75" fill="url(#rb)"/><circle cx="69.2" cy="79.5" r="1.75" fill="url(#rb)"/><circle cx="91.3" cy="79.5" r="1.75" fill="url(#rb)"/><circle cx="75.1" cy="79.6" r="1.75" fill="url(#rb)"/><circle cx="109.4" cy="79.6" r="1.75" fill="url(#rb)"/><circle cx="97.1" cy="79.7" r="1.75" fill="url(#rb)"/><circle cx="85.7" cy="79.7" r="1.75" fill="url(#rb)"/><circle cx="102.6" cy="79.9" r="1.75" fill="url(#rb)"/><circle cx="105.4" cy="80" r="1.75" fill="url(#rb)"/><circle cx="115.6" cy="80.3" r="1.75" fill="url(#rb)"/><circle cx="77.9" cy="80.4" r="1.75" fill="url(#rb)"/><circle cx="88.4" cy="80.6" r="1.75" fill="url(#rb)"/><circle cx="83.3" cy="80.8" r="1.75" fill="url(#rb)"/><circle cx="113.1" cy="80.8" r="1.75" fill="url(#rb)"/><circle cx="66.7" cy="80.8" r="1.75" fill="url(#rb)"/><circle cx="124.9" cy="80.9" r="1.75" fill="url(#rb)"/><circle cx="72.4" cy="80.9" r="1.75" fill="url(#rb)"/><circle cx="91.8" cy="81.6" r="1.75" fill="url(#rb)"/><circle cx="102.6" cy="81.8" r="1.75" fill="url(#rb)"/><circle cx="96.7" cy="81.8" r="1.75" fill="url(#rb)"/><circle cx="75.1" cy="81.9" r="1.75" fill="url(#rb)"/><circle cx="80.8" cy="81.9" r="1.75" fill="url(#rb)"/><circle cx="109.8" cy="82.1" r="1.75" fill="url(#rb)"/><circle cx="85.7" cy="82.2" r="1.75" fill="url(#rb)"/><circle cx="105.7" cy="82.4" r="1.75" fill="url(#rb)"/><circle cx="83.2" cy="82.7" r="1.75" fill="url(#rb)"/><circle cx="115.6" cy="82.8" r="1.75" fill="url(#rb)"/><circle cx="119.3" cy="82.8" r="1.75" fill="url(#rb)"/><circle cx="99.7" cy="82.9" r="1.75" fill="url(#rb)"/><circle cx="77.9" cy="83" r="1.75" fill="url(#rb)"/><circle cx="66.9" cy="83.2" r="1.75" fill="url(#rb)"/><circle cx="113.1" cy="83.2" r="1.75" fill="url(#rb)"/><circle cx="72" cy="83.3" r="1.75" fill="url(#rb)"/><circle cx="125" cy="83.3" r="1.75" fill="url(#rb)"/><circle cx="89" cy="83.3" r="1.75" fill="url(#rb)"/><circle cx="94.2" cy="83.4" r="1.75" fill="url(#rb)"/><circle cx="69.6" cy="84" r="1.75" fill="url(#rb)"/><circle cx="86.3" cy="84.1" r="1.75" fill="url(#rb)"/><circle cx="80.8" cy="84.1" r="1.75" fill="url(#rb)"/><circle cx="96.8" cy="84.1" r="1.75" fill="url(#rb)"/><circle cx="75" cy="84.6" r="1.75" fill="url(#rb)"/><circle cx="109.7" cy="84.7" r="1.75" fill="url(#rb)"/><circle cx="105.5" cy="84.8" r="1.75" fill="url(#rb)"/><circle cx="88.6" cy="85.2" r="1.75" fill="url(#rb)"/><circle cx="115.8" cy="85.2" r="1.75" fill="url(#rb)"/><circle cx="94.2" cy="85.3" r="1.75" fill="url(#rb)"/><circle cx="67" cy="85.3" r="1.75" fill="url(#rb)"/><circle cx="99.9" cy="85.4" r="1.75" fill="url(#rb)"/><circle cx="83.4" cy="85.4" r="1.75" fill="url(#rb)"/><circle cx="78.1" cy="85.5" r="1.75" fill="url(#rb)"/><circle cx="113.2" cy="85.6" r="1.75" fill="url(#rb)"/><circle cx="124.8" cy="85.7" r="1.75" fill="url(#rb)"/><circle cx="72.5" cy="85.8" r="1.75" fill="url(#rb)"/><circle cx="69.4" cy="86.5" r="1.75" fill="url(#rb)"/><circle cx="75.3" cy="86.9" r="1.75" fill="url(#rb)"/><circle cx="85.9" cy="86.9" r="1.75" fill="url(#rb)"/><circle cx="109.5" cy="87.2" r="1.75" fill="url(#rb)"/><circle cx="66.9" cy="87.4" r="1.75" fill="url(#rb)"/><circle cx="83.4" cy="87.5" r="1.75" fill="url(#rb)"/><circle cx="99.7" cy="87.5" r="1.75" fill="url(#rb)"/><circle cx="115.4" cy="87.6" r="1.75" fill="url(#rb)"/><circle cx="88.8" cy="87.9" r="1.75" fill="url(#rb)"/><circle cx="105.5" cy="88" r="1.75" fill="url(#rb)"/><circle cx="110.6" cy="88" r="1.75" fill="url(#rb)"/><circle cx="77.5" cy="88" r="1.75" fill="url(#rb)"/><circle cx="113" cy="88" r="1.75" fill="url(#rb)"/><circle cx="124.6" cy="88.1" r="1.75" fill="url(#rb)"/><circle cx="94.2" cy="88.1" r="1.75" fill="url(#rb)"/><circle cx="72.2" cy="88.1" r="1.75" fill="url(#rb)"/><circle cx="91.2" cy="88.9" r="1.75" fill="url(#rb)"/><circle cx="85.9" cy="88.9" r="1.75" fill="url(#rb)"/><circle cx="102.6" cy="88.9" r="1.75" fill="url(#rb)"/><circle cx="75" cy="89.3" r="1.75" fill="url(#rb)"/><circle cx="69.7" cy="89.3" r="1.75" fill="url(#rb)"/><circle cx="83.1" cy="89.8" r="1.75" fill="url(#rb)"/><circle cx="99.7" cy="89.8" r="1.75" fill="url(#rb)"/><circle cx="66.5" cy="89.9" r="1.75" fill="url(#rb)"/><circle cx="72" cy="89.9" r="1.75" fill="url(#rb)"/><circle cx="110.7" cy="90" r="1.75" fill="url(#rb)"/><circle cx="115.7" cy="90" r="1.75" fill="url(#rb)"/><circle cx="78" cy="90.1" r="1.75" fill="url(#rb)"/><circle cx="88.9" cy="90.2" r="1.75" fill="url(#rb)"/><circle cx="94.5" cy="90.3" r="1.75" fill="url(#rb)"/><circle cx="105.5" cy="90.4" r="1.75" fill="url(#rb)"/><circle cx="113.2" cy="90.4" r="1.75" fill="url(#rb)"/><circle cx="124.7" cy="90.5" r="1.75" fill="url(#rb)"/><circle cx="69.5" cy="91" r="1.75" fill="url(#rb)"/><circle cx="85.7" cy="91" r="1.75" fill="url(#rb)"/><circle cx="74.7" cy="91" r="1.75" fill="url(#rb)"/><circle cx="102.8" cy="91" r="1.75" fill="url(#rb)"/><circle cx="107.6" cy="91.2" r="1.75" fill="url(#rb)"/><circle cx="110.7" cy="92" r="1.75" fill="url(#rb)"/><circle cx="66.9" cy="92.2" r="1.75" fill="url(#rb)"/><circle cx="83.4" cy="92.3" r="1.75" fill="url(#rb)"/><circle cx="88.7" cy="92.5" r="1.75" fill="url(#rb)"/><circle cx="94.4" cy="92.6" r="1.75" fill="url(#rb)"/><circle cx="72.5" cy="92.7" r="1.75" fill="url(#rb)"/><circle cx="77.8" cy="92.8" r="1.75" fill="url(#rb)"/><circle cx="124.6" cy="92.8" r="1.75" fill="url(#rb)"/><circle cx="113.1" cy="92.9" r="1.75" fill="url(#rb)"/><circle cx="119.1" cy="93.2" r="1.75" fill="url(#rb)"/><circle cx="102.6" cy="93.3" r="1.75" fill="url(#rb)"/><circle cx="74.7" cy="93.5" r="1.75" fill="url(#rb)"/><circle cx="69.4" cy="93.5" r="1.75" fill="url(#rb)"/><circle cx="97.2" cy="93.7" r="1.75" fill="url(#rb)"/><circle cx="91.8" cy="93.8" r="1.75" fill="url(#rb)"/><circle cx="107.6" cy="93.9" r="1.75" fill="url(#rb)"/><circle cx="85.8" cy="94" r="1.75" fill="url(#rb)"/><circle cx="94.1" cy="94.7" r="1.75" fill="url(#rb)"/><circle cx="83.6" cy="94.8" r="1.75" fill="url(#rb)"/><circle cx="77.5" cy="94.8" r="1.75" fill="url(#rb)"/><circle cx="66.7" cy="95.1" r="1.75" fill="url(#rb)"/><circle cx="72.5" cy="95.2" r="1.75" fill="url(#rb)"/><circle cx="124.7" cy="95.2" r="1.75" fill="url(#rb)"/><circle cx="113.2" cy="95.3" r="1.75" fill="url(#rb)"/><circle cx="69.3" cy="95.7" r="1.75" fill="url(#rb)"/><circle cx="91.8" cy="95.9" r="1.75" fill="url(#rb)"/><circle cx="96.7" cy="95.9" r="1.75" fill="url(#rb)"/><circle cx="85.8" cy="96" r="1.75" fill="url(#rb)"/><circle cx="75.1" cy="96.2" r="1.75" fill="url(#rb)"/><circle cx="107.7" cy="96.5" r="1.75" fill="url(#rb)"/><circle cx="99.8" cy="96.9" r="1.75" fill="url(#rb)"/><circle cx="77.5" cy="96.9" r="1.75" fill="url(#rb)"/><circle cx="94" cy="97" r="1.75" fill="url(#rb)"/><circle cx="72.1" cy="97.2" r="1.75" fill="url(#rb)"/><circle cx="83.2" cy="97.3" r="1.75" fill="url(#rb)"/><circle cx="88.6" cy="97.5" r="1.75" fill="url(#rb)"/><circle cx="125" cy="97.6" r="1.75" fill="url(#rb)"/><circle cx="113.2" cy="97.7" r="1.75" fill="url(#rb)"/><circle cx="97.1" cy="98.1" r="1.75" fill="url(#rb)"/><circle cx="69.5" cy="98.1" r="1.75" fill="url(#rb)"/><circle cx="102.2" cy="98.3" r="1.75" fill="url(#rb)"/><circle cx="80.2" cy="98.3" r="1.75" fill="url(#rb)"/><circle cx="110.9" cy="98.4" r="1.75" fill="url(#rb)"/><circle cx="74.8" cy="98.5" r="1.75" fill="url(#rb)"/><circle cx="91.8" cy="98.5" r="1.75" fill="url(#rb)"/><circle cx="85.9" cy="98.7" r="1.75" fill="url(#rb)"/><circle cx="107.7" cy="99.2" r="1.75" fill="url(#rb)"/><circle cx="94.1" cy="99.2" r="1.75" fill="url(#rb)"/><circle cx="88.6" cy="99.3" r="1.75" fill="url(#rb)"/><circle cx="77.5" cy="99.4" r="1.75" fill="url(#rb)"/><circle cx="83.3" cy="99.6" r="1.75" fill="url(#rb)"/><circle cx="99.5" cy="99.7" r="1.75" fill="url(#rb)"/><circle cx="71.9" cy="99.9" r="1.75" fill="url(#rb)"/><circle cx="124.8" cy="100" r="1.75" fill="url(#rb)"/><circle cx="113.2" cy="100.1" r="1.75" fill="url(#rb)"/><circle cx="80.5" cy="100.5" r="1.75" fill="url(#rb)"/><circle cx="97.1" cy="100.6" r="1.75" fill="url(#rb)"/><circle cx="69.2" cy="100.7" r="1.75" fill="url(#rb)"/><circle cx="102.6" cy="100.8" r="1.75" fill="url(#rb)"/><circle cx="110.7" cy="100.8" r="1.75" fill="url(#rb)"/><circle cx="86.2" cy="100.8" r="1.75" fill="url(#rb)"/><circle cx="74.8" cy="101" r="1.75" fill="url(#rb)"/><circle cx="99.8" cy="101.6" r="1.75" fill="url(#rb)"/><circle cx="83" cy="101.7" r="1.75" fill="url(#rb)"/><circle cx="77.9" cy="101.7" r="1.75" fill="url(#rb)"/><circle cx="88.8" cy="102" r="1.75" fill="url(#rb)"/><circle cx="72.3" cy="102.2" r="1.75" fill="url(#rb)"/><circle cx="124.9" cy="102.4" r="1.75" fill="url(#rb)"/><circle cx="113.3" cy="102.5" r="1.75" fill="url(#rb)"/><circle cx="119.2" cy="102.8" r="1.75" fill="url(#rb)"/><circle cx="80.2" cy="102.9" r="1.75" fill="url(#rb)"/><circle cx="91.4" cy="103" r="1.75" fill="url(#rb)"/><circle cx="102.6" cy="103" r="1.75" fill="url(#rb)"/><circle cx="86.3" cy="103.1" r="1.75" fill="url(#rb)"/><circle cx="110.7" cy="103.1" r="1.75" fill="url(#rb)"/><circle cx="69.8" cy="103.2" r="1.75" fill="url(#rb)"/><circle cx="74.8" cy="103.4" r="1.75" fill="url(#rb)"/><circle cx="77.5" cy="104.1" r="1.75" fill="url(#rb)"/><circle cx="83.1" cy="104.3" r="1.75" fill="url(#rb)"/><circle cx="72.5" cy="104.5" r="1.75" fill="url(#rb)"/><circle cx="99.7" cy="104.5" r="1.75" fill="url(#rb)"/><circle cx="94.1" cy="104.6" r="1.75" fill="url(#rb)"/><circle cx="124.9" cy="104.8" r="1.75" fill="url(#rb)"/><circle cx="113" cy="104.9" r="1.75" fill="url(#rb)"/><circle cx="91.3" cy="105.1" r="1.75" fill="url(#rb)"/><circle cx="80.4" cy="105.1" r="1.75" fill="url(#rb)"/><circle cx="69.4" cy="105.2" r="1.75" fill="url(#rb)"/><circle cx="119.2" cy="105.2" r="1.75" fill="url(#rb)"/><circle cx="102.8" cy="105.2" r="1.75" fill="url(#rb)"/><circle cx="111" cy="105.5" r="1.75" fill="url(#rb)"/><circle cx="85.7" cy="105.6" r="1.75" fill="url(#rb)"/><circle cx="75" cy="105.7" r="1.75" fill="url(#rb)"/><circle cx="94.6" cy="106.4" r="1.75" fill="url(#rb)"/><circle cx="72.1" cy="106.4" r="1.75" fill="url(#rb)"/><circle cx="100" cy="106.9" r="1.75" fill="url(#rb)"/><circle cx="125" cy="107.2" r="1.75" fill="url(#rb)"/><circle cx="113.3" cy="107.3" r="1.75" fill="url(#rb)"/><circle cx="107.9" cy="107.6" r="1.75" fill="url(#rb)"/><circle cx="119.2" cy="107.6" r="1.75" fill="url(#rb)"/><circle cx="74.8" cy="107.7" r="1.75" fill="url(#rb)"/><circle cx="102.2" cy="107.8" r="1.75" fill="url(#rb)"/><circle cx="86.2" cy="107.9" r="1.75" fill="url(#rb)"/><circle cx="110.9" cy="107.9" r="1.75" fill="url(#rb)"/><circle cx="91.4" cy="108.1" r="1.75" fill="url(#rb)"/><circle cx="100" cy="108.7" r="1.75" fill="url(#rb)"/><circle cx="72.3" cy="108.8" r="1.75" fill="url(#rb)"/><circle cx="94" cy="108.9" r="1.75" fill="url(#rb)"/><circle cx="115.7" cy="109" r="1.75" fill="url(#rb)"/><circle cx="83.1" cy="109" r="1.75" fill="url(#rb)"/><circle cx="77.4" cy="109.1" r="1.75" fill="url(#rb)"/><circle cx="124.8" cy="109.6" r="1.75" fill="url(#rb)"/><circle cx="113.2" cy="109.7" r="1.75" fill="url(#rb)"/><circle cx="74.9" cy="109.9" r="1.75" fill="url(#rb)"/><circle cx="108.2" cy="110" r="1.75" fill="url(#rb)"/><circle cx="119.3" cy="110" r="1.75" fill="url(#rb)"/><circle cx="102.7" cy="110" r="1.75" fill="url(#rb)"/><circle cx="80.3" cy="110.2" r="1.75" fill="url(#rb)"/><circle cx="110.7" cy="110.2" r="1.75" fill="url(#rb)"/><circle cx="85.7" cy="110.4" r="1.75" fill="url(#rb)"/><circle cx="96.9" cy="110.4" r="1.75" fill="url(#rb)"/><circle cx="94.2" cy="111.1" r="1.75" fill="url(#rb)"/><circle cx="83.4" cy="111.1" r="1.75" fill="url(#rb)"/><circle cx="77.5" cy="111.3" r="1.75" fill="url(#rb)"/><circle cx="115.5" cy="111.4" r="1.75" fill="url(#rb)"/><circle cx="99.7" cy="111.6" r="1.75" fill="url(#rb)"/><circle cx="124.8" cy="112" r="1.75" fill="url(#rb)"/><circle cx="113.2" cy="112.1" r="1.75" fill="url(#rb)"/><circle cx="75.2" cy="112.1" r="1.75" fill="url(#rb)"/><circle cx="86" cy="112.3" r="1.75" fill="url(#rb)"/><circle cx="97" cy="112.4" r="1.75" fill="url(#rb)"/><circle cx="108.1" cy="112.4" r="1.75" fill="url(#rb)"/><circle cx="119.1" cy="112.4" r="1.75" fill="url(#rb)"/><circle cx="102.2" cy="112.6" r="1.75" fill="url(#rb)"/><circle cx="80.7" cy="112.6" r="1.75" fill="url(#rb)"/><circle cx="111" cy="112.6" r="1.75" fill="url(#rb)"/><circle cx="83.2" cy="113.6" r="1.75" fill="url(#rb)"/><circle cx="94.3" cy="113.7" r="1.75" fill="url(#rb)"/><circle cx="99.5" cy="113.8" r="1.75" fill="url(#rb)"/><circle cx="77.5" cy="113.8" r="1.75" fill="url(#rb)"/><circle cx="115.7" cy="113.9" r="1.75" fill="url(#rb)"/><circle cx="124.9" cy="114.4" r="1.75" fill="url(#rb)"/><circle cx="113.3" cy="114.5" r="1.75" fill="url(#rb)"/><circle cx="80.8" cy="114.7" r="1.75" fill="url(#rb)"/><circle cx="102.4" cy="114.9" r="1.75" fill="url(#rb)"/><circle cx="110.8" cy="115" r="1.75" fill="url(#rb)"/><circle cx="86.2" cy="115.1" r="1.75" fill="url(#rb)"/><circle cx="97.3" cy="115.1" r="1.75" fill="url(#rb)"/><circle cx="83.5" cy="115.8" r="1.75" fill="url(#rb)"/><circle cx="99.4" cy="115.9" r="1.75" fill="url(#rb)"/><circle cx="94.5" cy="116.1" r="1.75" fill="url(#rb)"/><circle cx="77.7" cy="116.2" r="1.75" fill="url(#rb)"/><circle cx="115.5" cy="116.3" r="1.75" fill="url(#rb)"/><circle cx="124.9" cy="116.8" r="1.75" fill="url(#rb)"/><circle cx="113.3" cy="116.9" r="1.75" fill="url(#rb)"/><circle cx="86.1" cy="117" r="1.75" fill="url(#rb)"/><circle cx="96.8" cy="117.3" r="1.75" fill="url(#rb)"/><circle cx="102.8" cy="117.3" r="1.75" fill="url(#rb)"/><circle cx="110.9" cy="117.3" r="1.75" fill="url(#rb)"/><circle cx="83.6" cy="118" r="1.75" fill="url(#rb)"/><circle cx="94.5" cy="118.2" r="1.75" fill="url(#rb)"/><circle cx="88.4" cy="118.3" r="1.75" fill="url(#rb)"/><circle cx="99.5" cy="118.6" r="1.75" fill="url(#rb)"/><circle cx="115.6" cy="118.8" r="1.75" fill="url(#rb)"/><circle cx="124.8" cy="119.2" r="1.75" fill="url(#rb)"/><circle cx="102.8" cy="119.2" r="1.75" fill="url(#rb)"/><circle cx="85.9" cy="119.3" r="1.75" fill="url(#rb)"/><circle cx="113.1" cy="119.3" r="1.75" fill="url(#rb)"/><circle cx="110.9" cy="119.7" r="1.75" fill="url(#rb)"/><circle cx="96.7" cy="119.8" r="1.75" fill="url(#rb)"/><circle cx="100" cy="120.4" r="1.75" fill="url(#rb)"/><circle cx="88.7" cy="120.5" r="1.75" fill="url(#rb)"/><circle cx="94.2" cy="120.8" r="1.75" fill="url(#rb)"/><circle cx="83.5" cy="121" r="1.75" fill="url(#rb)"/><circle cx="115.6" cy="121.2" r="1.75" fill="url(#rb)"/><circle cx="124.9" cy="121.5" r="1.75" fill="url(#rb)"/><circle cx="102.4" cy="121.7" r="1.75" fill="url(#rb)"/><circle cx="113.2" cy="121.7" r="1.75" fill="url(#rb)"/><circle cx="97.2" cy="121.8" r="1.75" fill="url(#rb)"/><circle cx="111" cy="122.1" r="1.75" fill="url(#rb)"/><circle cx="85.8" cy="122.1" r="1.75" fill="url(#rb)"/><circle cx="100" cy="122.8" r="1.75" fill="url(#rb)"/><circle cx="94.1" cy="122.8" r="1.75" fill="url(#rb)"/><circle cx="88.4" cy="122.9" r="1.75" fill="url(#rb)"/><circle cx="102.7" cy="123.9" r="1.75" fill="url(#rb)"/><circle cx="124.7" cy="123.9" r="1.75" fill="url(#rb)"/><circle cx="97" cy="124" r="1.75" fill="url(#rb)"/><circle cx="113.4" cy="124.1" r="1.75" fill="url(#rb)"/><circle cx="110.9" cy="124.4" r="1.75" fill="url(#rb)"/><circle cx="85.8" cy="124.5" r="1.75" fill="url(#rb)"/><circle cx="118.9" cy="125" r="1.75" fill="url(#rb)"/><circle cx="99.8" cy="125.2" r="1.75" fill="url(#rb)"/><circle cx="94.5" cy="125.4" r="1.75" fill="url(#rb)"/><circle cx="89.1" cy="125.5" r="1.75" fill="url(#rb)"/><circle cx="86" cy="126.3" r="1.75" fill="url(#rb)"/><circle cx="102.8" cy="126.3" r="1.75" fill="url(#rb)"/><circle cx="124.9" cy="126.3" r="1.75" fill="url(#rb)"/><circle cx="91.8" cy="126.3" r="1.75" fill="url(#rb)"/><circle cx="113" cy="126.6" r="1.75" fill="url(#rb)"/><circle cx="110.9" cy="126.8" r="1.75" fill="url(#rb)"/><circle cx="118.8" cy="127.3" r="1.75" fill="url(#rb)"/><circle cx="88.7" cy="127.5" r="1.75" fill="url(#rb)"/><circle cx="94.2" cy="128.1" r="1.75" fill="url(#rb)"/><circle cx="107" cy="128.4" r="1.75" fill="url(#rb)"/><circle cx="121.3" cy="128.4" r="1.75" fill="url(#rb)"/><circle cx="124.8" cy="128.7" r="1.75" fill="url(#rb)"/><circle cx="85.7" cy="128.8" r="1.75" fill="url(#rb)"/><circle cx="102.6" cy="128.9" r="1.75" fill="url(#rb)"/><circle cx="113.3" cy="129" r="1.75" fill="url(#rb)"/><circle cx="91.7" cy="129.1" r="1.75" fill="url(#rb)"/><circle cx="110.7" cy="129.2" r="1.75" fill="url(#rb)"/><circle cx="97.1" cy="129.2" r="1.75" fill="url(#rb)"/><circle cx="118.8" cy="129.6" r="1.75" fill="url(#rb)"/><circle cx="89.1" cy="130.2" r="1.75" fill="url(#rb)"/><circle cx="94.1" cy="130.3" r="1.75" fill="url(#rb)"/><circle cx="99.5" cy="130.4" r="1.75" fill="url(#rb)"/><circle cx="107.3" cy="130.9" r="1.75" fill="url(#rb)"/><circle cx="121.3" cy="130.9" r="1.75" fill="url(#rb)"/><circle cx="102.7" cy="131" r="1.75" fill="url(#rb)"/><circle cx="85.8" cy="131.1" r="1.75" fill="url(#rb)"/><circle cx="124.9" cy="131.1" r="1.75" fill="url(#rb)"/><circle cx="97.1" cy="131.2" r="1.75" fill="url(#rb)"/><circle cx="91.2" cy="131.2" r="1.75" fill="url(#rb)"/><circle cx="113.3" cy="131.4" r="1.75" fill="url(#rb)"/><circle cx="110.9" cy="131.5" r="1.75" fill="url(#rb)"/><circle cx="118.7" cy="131.9" r="1.75" fill="url(#rb)"/><circle cx="94.6" cy="132.1" r="1.75" fill="url(#rb)"/><circle cx="100" cy="132.2" r="1.75" fill="url(#rb)"/><circle cx="88.4" cy="132.4" r="1.75" fill="url(#rb)"/><circle cx="102.4" cy="133.3" r="1.75" fill="url(#rb)"/><circle cx="91.8" cy="133.4" r="1.75" fill="url(#rb)"/><circle cx="107.4" cy="133.4" r="1.75" fill="url(#rb)"/><circle cx="121.3" cy="133.4" r="1.75" fill="url(#rb)"/><circle cx="96.8" cy="133.4" r="1.75" fill="url(#rb)"/><circle cx="124.6" cy="133.5" r="1.75" fill="url(#rb)"/><circle cx="86.3" cy="133.8" r="1.75" fill="url(#rb)"/><circle cx="113" cy="133.8" r="1.75" fill="url(#rb)"/><circle cx="110.8" cy="133.9" r="1.75" fill="url(#rb)"/><circle cx="118.8" cy="134.1" r="1.75" fill="url(#rb)"/><circle cx="88.7" cy="134.6" r="1.75" fill="url(#rb)"/><circle cx="99.5" cy="134.8" r="1.75" fill="url(#rb)"/><circle cx="94.5" cy="135" r="1.75" fill="url(#rb)"/><circle cx="91.8" cy="135.6" r="1.75" fill="url(#rb)"/><circle cx="97.3" cy="135.7" r="1.75" fill="url(#rb)"/><circle cx="124.7" cy="135.9" r="1.75" fill="url(#rb)"/><circle cx="107.3" cy="136" r="1.75" fill="url(#rb)"/><circle cx="121.4" cy="136" r="1.75" fill="url(#rb)"/><circle cx="102.7" cy="136.1" r="1.75" fill="url(#rb)"/><circle cx="113.2" cy="136.2" r="1.75" fill="url(#rb)"/><circle cx="110.9" cy="136.3" r="1.75" fill="url(#rb)"/><circle cx="119" cy="136.4" r="1.75" fill="url(#rb)"/><circle cx="89" cy="136.9" r="1.75" fill="url(#rb)"/><circle cx="93.9" cy="137" r="1.75" fill="url(#rb)"/><circle cx="124.6" cy="138.3" r="1.75" fill="url(#rb)"/><circle cx="107.1" cy="138.5" r="1.75" fill="url(#rb)"/><circle cx="121.5" cy="138.5" r="1.75" fill="url(#rb)"/><circle cx="91.7" cy="138.5" r="1.75" fill="url(#rb)"/><circle cx="113.3" cy="138.6" r="1.75" fill="url(#rb)"/><circle cx="97.2" cy="138.6" r="1.75" fill="url(#rb)"/><circle cx="110.8" cy="138.6" r="1.75" fill="url(#rb)"/><circle cx="118.9" cy="138.7" r="1.75" fill="url(#rb)"/><circle cx="94" cy="139.8" r="1.75" fill="url(#rb)"/><circle cx="102.7" cy="140.6" r="1.75" fill="url(#rb)"/><circle cx="124.9" cy="140.7" r="1.75" fill="url(#rb)"/><circle cx="96.7" cy="141" r="1.75" fill="url(#rb)"/><circle cx="107.3" cy="141" r="1.75" fill="url(#rb)"/><circle cx="111" cy="141" r="1.75" fill="url(#rb)"/><circle cx="113.4" cy="141" r="1.75" fill="url(#rb)"/><circle cx="118.9" cy="141" r="1.75" fill="url(#rb)"/><circle cx="121.5" cy="141" r="1.75" fill="url(#rb)"/><circle cx="110.8" cy="141.7" r="1.75" fill="url(#rb)"/><circle cx="94.6" cy="141.7" r="1.75" fill="url(#rb)"/><circle cx="116" cy="141.8" r="1.75" fill="url(#rb)"/><circle cx="121.7" cy="142.1" r="1.75" fill="url(#rb)"/><circle cx="97" cy="142.7" r="1.75" fill="url(#rb)"/><circle cx="102.5" cy="142.8" r="1.75" fill="url(#rb)"/><circle cx="113.5" cy="142.9" r="1.75" fill="url(#rb)"/><circle cx="119.1" cy="143" r="1.75" fill="url(#rb)"/><circle cx="107.7" cy="143.1" r="1.75" fill="url(#rb)"/><circle cx="125" cy="143.1" r="1.75" fill="url(#rb)"/><circle cx="116.1" cy="144" r="1.75" fill="url(#rb)"/><circle cx="94.2" cy="144" r="1.75" fill="url(#rb)"/><circle cx="121.9" cy="144.1" r="1.75" fill="url(#rb)"/><circle cx="110.5" cy="144.4" r="1.75" fill="url(#rb)"/><circle cx="102.3" cy="145" r="1.75" fill="url(#rb)"/><circle cx="119.1" cy="145.1" r="1.75" fill="url(#rb)"/><circle cx="124.9" cy="145.5" r="1.75" fill="url(#rb)"/><circle cx="108.2" cy="145.6" r="1.75" fill="url(#rb)"/><circle cx="96.9" cy="145.6" r="1.75" fill="url(#rb)"/><circle cx="113.3" cy="145.7" r="1.75" fill="url(#rb)"/><circle cx="105.4" cy="146.4" r="1.75" fill="url(#rb)"/><circle cx="110.6" cy="146.5" r="1.75" fill="url(#rb)"/><circle cx="116.4" cy="146.8" r="1.75" fill="url(#rb)"/><circle cx="121.5" cy="146.9" r="1.75" fill="url(#rb)"/><circle cx="97.2" cy="147.5" r="1.75" fill="url(#rb)"/><circle cx="102.7" cy="147.8" r="1.75" fill="url(#rb)"/><circle cx="113.3" cy="147.8" r="1.75" fill="url(#rb)"/><circle cx="124.7" cy="147.8" r="1.75" fill="url(#rb)"/><circle cx="119.2" cy="147.8" r="1.75" fill="url(#rb)"/><circle cx="107.7" cy="148" r="1.75" fill="url(#rb)"/><circle cx="105.1" cy="148.7" r="1.75" fill="url(#rb)"/><circle cx="116" cy="148.7" r="1.75" fill="url(#rb)"/><circle cx="108.3" cy="149.8" r="1.75" fill="url(#rb)"/><circle cx="102.6" cy="149.9" r="1.75" fill="url(#rb)"/><circle cx="96.8" cy="150" r="1.75" fill="url(#rb)"/><circle cx="113.2" cy="150.1" r="1.75" fill="url(#rb)"/><circle cx="124.9" cy="150.2" r="1.75" fill="url(#rb)"/><circle cx="116.3" cy="151" r="1.75" fill="url(#rb)"/><circle cx="105.3" cy="151.4" r="1.75" fill="url(#rb)"/><circle cx="110.6" cy="151.4" r="1.75" fill="url(#rb)"/><circle cx="99.7" cy="151.5" r="1.75" fill="url(#rb)"/><circle cx="107.7" cy="152.1" r="1.75" fill="url(#rb)"/><circle cx="97.2" cy="152.2" r="1.75" fill="url(#rb)"/><circle cx="113.7" cy="152.5" r="1.75" fill="url(#rb)"/><circle cx="102.5" cy="152.6" r="1.75" fill="url(#rb)"/><circle cx="124.9" cy="152.6" r="1.75" fill="url(#rb)"/><circle cx="105.6" cy="153.6" r="1.75" fill="url(#rb)"/><circle cx="99.8" cy="153.8" r="1.75" fill="url(#rb)"/><circle cx="110.6" cy="153.9" r="1.75" fill="url(#rb)"/><circle cx="116" cy="153.9" r="1.75" fill="url(#rb)"/><circle cx="113.6" cy="154.6" r="1.75" fill="url(#rb)"/><circle cx="96.9" cy="154.8" r="1.75" fill="url(#rb)"/><circle cx="108.2" cy="154.8" r="1.75" fill="url(#rb)"/><circle cx="102.3" cy="154.8" r="1.75" fill="url(#rb)"/><circle cx="124.8" cy="155" r="1.75" fill="url(#rb)"/><circle cx="111" cy="156" r="1.75" fill="url(#rb)"/><circle cx="105.4" cy="156.2" r="1.75" fill="url(#rb)"/><circle cx="116" cy="156.2" r="1.75" fill="url(#rb)"/><circle cx="96.7" cy="156.9" r="1.75" fill="url(#rb)"/><circle cx="102.3" cy="157.4" r="1.75" fill="url(#rb)"/><circle cx="113.4" cy="157.4" r="1.75" fill="url(#rb)"/><circle cx="124.7" cy="157.4" r="1.75" fill="url(#rb)"/><circle cx="127.6" cy="158" r="1.75" fill="url(#rb)"/><circle cx="121.4" cy="158.1" r="1.75" fill="url(#rb)"/><circle cx="105.4" cy="158.3" r="1.75" fill="url(#rb)"/><circle cx="116.2" cy="158.6" r="1.75" fill="url(#rb)"/><circle cx="113.8" cy="159.1" r="1.75" fill="url(#rb)"/><circle cx="124.7" cy="159.8" r="1.75" fill="url(#rb)"/><circle cx="127.4" cy="160.5" r="1.75" fill="url(#rb)"/><circle cx="121.4" cy="160.6" r="1.75" fill="url(#rb)"/><circle cx="116.4" cy="160.6" r="1.75" fill="url(#rb)"/><circle cx="105" cy="160.7" r="1.75" fill="url(#rb)"/><circle cx="110.7" cy="160.8" r="1.75" fill="url(#rb)"/><circle cx="102.3" cy="162" r="1.75" fill="url(#rb)"/><circle cx="113.3" cy="162.1" r="1.75" fill="url(#rb)"/><circle cx="124.8" cy="162.2" r="1.75" fill="url(#rb)"/><circle cx="129.4" cy="162.4" r="1.75" fill="url(#rb)"/><circle cx="116.3" cy="162.7" r="1.75" fill="url(#rb)"/><circle cx="105.5" cy="162.7" r="1.75" fill="url(#rb)"/><circle cx="121.9" cy="162.9" r="1.75" fill="url(#rb)"/><circle cx="127.6" cy="163" r="1.75" fill="url(#rb)"/><circle cx="110.9" cy="163" r="1.75" fill="url(#rb)"/><circle cx="140.8" cy="163.2" r="1.75" fill="url(#rb)"/><circle cx="118.8" cy="164.1" r="1.75" fill="url(#rb)"/><circle cx="113.4" cy="164.4" r="1.75" fill="url(#rb)"/><circle cx="139.2" cy="164.5" r="1.75" fill="url(#rb)"/><circle cx="124.7" cy="164.6" r="1.75" fill="url(#rb)"/><circle cx="116.2" cy="165" r="1.75" fill="url(#rb)"/><circle cx="111" cy="165" r="1.75" fill="url(#rb)"/><circle cx="129.7" cy="165.1" r="1.75" fill="url(#rb)"/><circle cx="121.6" cy="165.5" r="1.75" fill="url(#rb)"/><circle cx="127.6" cy="165.5" r="1.75" fill="url(#rb)"/><circle cx="140.6" cy="166" r="1.75" fill="url(#rb)"/><circle cx="119.1" cy="166.4" r="1.75" fill="url(#rb)"/><circle cx="113.5" cy="166.5" r="1.75" fill="url(#rb)"/><circle cx="124.8" cy="167" r="1.75" fill="url(#rb)"/><circle cx="110.5" cy="167.3" r="1.75" fill="url(#rb)"/><circle cx="121.8" cy="167.5" r="1.75" fill="url(#rb)"/><circle cx="139.4" cy="167.5" r="1.75" fill="url(#rb)"/><circle cx="105.6" cy="167.6" r="1.75" fill="url(#rb)"/><circle cx="129.4" cy="167.7" r="1.75" fill="url(#rb)"/><circle cx="116.5" cy="167.8" r="1.75" fill="url(#rb)"/><circle cx="127.8" cy="168" r="1.75" fill="url(#rb)"/><circle cx="119.3" cy="168.6" r="1.75" fill="url(#rb)"/><circle cx="131" cy="168.8" r="1.75" fill="url(#rb)"/><circle cx="113.7" cy="169" r="1.75" fill="url(#rb)"/><circle cx="124.9" cy="169.4" r="1.75" fill="url(#rb)"/><circle cx="104.9" cy="169.7" r="1.75" fill="url(#rb)"/><circle cx="121.7" cy="169.8" r="1.75" fill="url(#rb)"/><circle cx="116.3" cy="170" r="1.75" fill="url(#rb)"/><circle cx="110.9" cy="170.4" r="1.75" fill="url(#rb)"/><circle cx="129.8" cy="170.4" r="1.75" fill="url(#rb)"/><circle cx="127.8" cy="170.5" r="1.75" fill="url(#rb)"/><circle cx="131.3" cy="170.9" r="1.75" fill="url(#rb)"/><circle cx="113.4" cy="171" r="1.75" fill="url(#rb)"/><circle cx="119.2" cy="171.1" r="1.75" fill="url(#rb)"/><circle cx="125" cy="171.8" r="1.75" fill="url(#rb)"/><circle cx="116.3" cy="172.3" r="1.75" fill="url(#rb)"/><circle cx="105.3" cy="172.5" r="1.75" fill="url(#rb)"/><circle cx="121.9" cy="172.6" r="1.75" fill="url(#rb)"/><circle cx="131.1" cy="172.9" r="1.75" fill="url(#rb)"/><circle cx="127.6" cy="173" r="1.75" fill="url(#rb)"/><circle cx="119.3" cy="173.2" r="1.75" fill="url(#rb)"/><circle cx="113.6" cy="173.7" r="1.75" fill="url(#rb)"/><circle cx="124.6" cy="174.2" r="1.75" fill="url(#rb)"/><circle cx="132.6" cy="174.5" r="1.75" fill="url(#rb)"/><circle cx="116.5" cy="174.7" r="1.75" fill="url(#rb)"/><circle cx="121.7" cy="174.8" r="1.75" fill="url(#rb)"/><circle cx="110.7" cy="174.9" r="1.75" fill="url(#rb)"/><circle cx="131" cy="175" r="1.75" fill="url(#rb)"/><circle cx="127.6" cy="175.5" r="1.75" fill="url(#rb)"/><circle cx="131" cy="176" r="1.75" fill="url(#rb)"/><circle cx="113.5" cy="176.1" r="1.75" fill="url(#rb)"/><circle cx="118.8" cy="176.1" r="1.75" fill="url(#rb)"/><circle cx="124.8" cy="176.5" r="1.75" fill="url(#rb)"/><circle cx="122.1" cy="177" r="1.75" fill="url(#rb)"/><circle cx="116.4" cy="177" r="1.75" fill="url(#rb)"/><circle cx="134.6" cy="177.2" r="1.75" fill="url(#rb)"/><circle cx="119" cy="178" r="1.75" fill="url(#rb)"/><circle cx="127.4" cy="178" r="1.75" fill="url(#rb)"/><circle cx="132.7" cy="178.2" r="1.75" fill="url(#rb)"/><circle cx="124.6" cy="178.9" r="1.75" fill="url(#rb)"/><circle cx="122" cy="179.6" r="1.75" fill="url(#rb)"/><circle cx="116.4" cy="179.7" r="1.75" fill="url(#rb)"/><circle cx="136.5" cy="179.8" r="1.75" fill="url(#rb)"/><circle cx="134.4" cy="180.5" r="1.75" fill="url(#rb)"/><circle cx="127.7" cy="180.5" r="1.75" fill="url(#rb)"/><circle cx="119" cy="180.8" r="1.75" fill="url(#rb)"/><circle cx="124.6" cy="181.3" r="1.75" fill="url(#rb)"/><circle cx="121.6" cy="181.8" r="1.75" fill="url(#rb)"/><circle cx="116.4" cy="182" r="1.75" fill="url(#rb)"/><circle cx="138.5" cy="182.5" r="1.75" fill="url(#rb)"/><circle cx="136" cy="182.7" r="1.75" fill="url(#rb)"/><circle cx="127.5" cy="183" r="1.75" fill="url(#rb)"/><circle cx="119.1" cy="183.2" r="1.75" fill="url(#rb)"/><circle cx="124.9" cy="183.7" r="1.75" fill="url(#rb)"/><circle cx="122" cy="184" r="1.75" fill="url(#rb)"/><circle cx="137.7" cy="185" r="1.75" fill="url(#rb)"/><circle cx="127.5" cy="185.5" r="1.75" fill="url(#rb)"/><circle cx="124.8" cy="186.1" r="1.75" fill="url(#rb)"/><circle cx="121.6" cy="186.4" r="1.75" fill="url(#rb)"/><circle cx="139.4" cy="187.2" r="1.75" fill="url(#rb)"/><circle cx="127.4" cy="188" r="1.75" fill="url(#rb)"/><circle cx="125" cy="188.5" r="1.75" fill="url(#rb)"/>
<circle cx="64.7" cy="41.8" r="1.85" fill="url(#bb)"/><circle cx="67.3" cy="40.7" r="1.85" fill="url(#bb)"/><circle cx="65.8" cy="44.7" r="1.85" fill="url(#bb)"/><circle cx="69.1" cy="47.3" r="1.85" fill="url(#bb)"/><circle cx="74.5" cy="51.3" r="1.85" fill="url(#bb)"/><circle cx="78.5" cy="53.5" r="1.85" fill="url(#bb)"/><circle cx="81.5" cy="54.9" r="1.85" fill="url(#bb)"/><circle cx="83.6" cy="56.1" r="1.85" fill="url(#bb)"/><circle cx="86.5" cy="57.8" r="1.85" fill="url(#bb)"/><circle cx="89.5" cy="59.5" r="1.85" fill="url(#bb)"/><circle cx="93.1" cy="61.2" r="1.85" fill="url(#bb)"/><circle cx="96" cy="63.3" r="1.85" fill="url(#bb)"/><circle cx="98.9" cy="65.1" r="1.85" fill="url(#bb)"/><circle cx="110.9" cy="70.9" r="1.85" fill="url(#bb)"/><circle cx="115.5" cy="73.1" r="1.85" fill="url(#bb)"/><circle cx="119.1" cy="74.6" r="1.85" fill="url(#bb)"/><circle cx="123" cy="76.2" r="1.85" fill="url(#bb)"/>
<circle cx="308.6" cy="46.2" r="1.75" fill="url(#rb)"/><circle cx="313.4" cy="48" r="1.75" fill="url(#rb)"/><circle cx="308.4" cy="48.6" r="1.75" fill="url(#rb)"/><circle cx="317.4" cy="50.7" r="1.75" fill="url(#rb)"/><circle cx="308.6" cy="51.1" r="1.75" fill="url(#rb)"/><circle cx="323.5" cy="51.6" r="1.75" fill="url(#rb)"/><circle cx="311.3" cy="52.5" r="1.75" fill="url(#rb)"/><circle cx="317.2" cy="53.3" r="1.75" fill="url(#rb)"/><circle cx="323.6" cy="53.5" r="1.75" fill="url(#rb)"/><circle cx="329" cy="53.5" r="1.75" fill="url(#rb)"/><circle cx="308.8" cy="53.5" r="1.75" fill="url(#rb)"/><circle cx="313.5" cy="54.4" r="1.75" fill="url(#rb)"/><circle cx="330.8" cy="55" r="1.75" fill="url(#rb)"/><circle cx="323.5" cy="55.3" r="1.75" fill="url(#rb)"/><circle cx="334.5" cy="55.3" r="1.75" fill="url(#rb)"/><circle cx="317.2" cy="55.8" r="1.75" fill="url(#rb)"/><circle cx="308.7" cy="56" r="1.75" fill="url(#rb)"/><circle cx="329.2" cy="56" r="1.75" fill="url(#rb)"/><circle cx="313.3" cy="56.5" r="1.75" fill="url(#rb)"/><circle cx="330.8" cy="57.3" r="1.75" fill="url(#rb)"/><circle cx="340.3" cy="58" r="1.75" fill="url(#rb)"/><circle cx="334.5" cy="58" r="1.75" fill="url(#rb)"/><circle cx="317.2" cy="58.4" r="1.75" fill="url(#rb)"/><circle cx="308.6" cy="58.4" r="1.75" fill="url(#rb)"/><circle cx="328.9" cy="58.5" r="1.75" fill="url(#rb)"/><circle cx="313.4" cy="58.6" r="1.75" fill="url(#rb)"/><circle cx="318.9" cy="59" r="1.75" fill="url(#rb)"/><circle cx="344.1" cy="59" r="1.75" fill="url(#rb)"/><circle cx="330.8" cy="59.7" r="1.75" fill="url(#rb)"/><circle cx="346.2" cy="59.8" r="1.75" fill="url(#rb)"/><circle cx="340.6" cy="60.1" r="1.75" fill="url(#rb)"/><circle cx="313.5" cy="60.7" r="1.75" fill="url(#rb)"/><circle cx="323.4" cy="60.7" r="1.75" fill="url(#rb)"/><circle cx="334.7" cy="60.8" r="1.75" fill="url(#rb)"/><circle cx="308.6" cy="60.9" r="1.75" fill="url(#rb)"/><circle cx="317.4" cy="60.9" r="1.75" fill="url(#rb)"/><circle cx="329.2" cy="61" r="1.75" fill="url(#rb)"/><circle cx="343.8" cy="61.4" r="1.75" fill="url(#rb)"/><circle cx="318.9" cy="61.5" r="1.75" fill="url(#rb)"/><circle cx="331" cy="62" r="1.75" fill="url(#rb)"/><circle cx="346.4" cy="62.1" r="1.75" fill="url(#rb)"/><circle cx="340.5" cy="62.3" r="1.75" fill="url(#rb)"/><circle cx="350" cy="62.5" r="1.75" fill="url(#rb)"/><circle cx="323.3" cy="62.6" r="1.75" fill="url(#rb)"/><circle cx="308.7" cy="63.3" r="1.75" fill="url(#rb)"/><circle cx="317.1" cy="63.5" r="1.75" fill="url(#rb)"/><circle cx="329.1" cy="63.5" r="1.75" fill="url(#rb)"/><circle cx="334.5" cy="63.5" r="1.75" fill="url(#rb)"/><circle cx="353.1" cy="63.5" r="1.75" fill="url(#rb)"/><circle cx="343.9" cy="63.9" r="1.75" fill="url(#rb)"/><circle cx="318.7" cy="64" r="1.75" fill="url(#rb)"/><circle cx="346.4" cy="64" r="1.75" fill="url(#rb)"/><circle cx="330.9" cy="64.3" r="1.75" fill="url(#rb)"/><circle cx="346.3" cy="64.4" r="1.75" fill="url(#rb)"/><circle cx="313.3" cy="64.4" r="1.75" fill="url(#rb)"/><circle cx="323.5" cy="64.4" r="1.75" fill="url(#rb)"/><circle cx="337.3" cy="64.4" r="1.75" fill="url(#rb)"/><circle cx="340.6" cy="64.4" r="1.75" fill="url(#rb)"/><circle cx="355.5" cy="65" r="1.75" fill="url(#rb)"/><circle cx="350" cy="65.1" r="1.75" fill="url(#rb)"/><circle cx="308.7" cy="65.8" r="1.75" fill="url(#rb)"/><circle cx="328.9" cy="66" r="1.75" fill="url(#rb)"/><circle cx="343.8" cy="66.3" r="1.75" fill="url(#rb)"/><circle cx="353.3" cy="66.4" r="1.75" fill="url(#rb)"/><circle cx="346.2" cy="66.4" r="1.75" fill="url(#rb)"/><circle cx="358.4" cy="66.5" r="1.75" fill="url(#rb)"/><circle cx="346.3" cy="66.7" r="1.75" fill="url(#rb)"/><circle cx="330.6" cy="66.7" r="1.75" fill="url(#rb)"/><circle cx="313.4" cy="67" r="1.75" fill="url(#rb)"/><circle cx="324" cy="67" r="1.75" fill="url(#rb)"/><circle cx="356.1" cy="67.1" r="1.75" fill="url(#rb)"/><circle cx="337.3" cy="67.2" r="1.75" fill="url(#rb)"/><circle cx="361.3" cy="67.6" r="1.75" fill="url(#rb)"/><circle cx="308.5" cy="68.2" r="1.75" fill="url(#rb)"/><circle cx="329.1" cy="68.5" r="1.75" fill="url(#rb)"/><circle cx="363.9" cy="68.6" r="1.75" fill="url(#rb)"/><circle cx="344.1" cy="68.7" r="1.75" fill="url(#rb)"/><circle cx="346.5" cy="68.8" r="1.75" fill="url(#rb)"/><circle cx="346.1" cy="68.9" r="1.75" fill="url(#rb)"/><circle cx="330.8" cy="69" r="1.75" fill="url(#rb)"/><circle cx="324.1" cy="69.2" r="1.75" fill="url(#rb)"/><circle cx="355.9" cy="69.6" r="1.75" fill="url(#rb)"/><circle cx="361.3" cy="70" r="1.75" fill="url(#rb)"/><circle cx="337.4" cy="70" r="1.75" fill="url(#rb)"/><circle cx="339.1" cy="70" r="1.75" fill="url(#rb)"/><circle cx="308.7" cy="70.7" r="1.75" fill="url(#rb)"/><circle cx="363.8" cy="70.7" r="1.75" fill="url(#rb)"/><circle cx="320.4" cy="70.7" r="1.75" fill="url(#rb)"/><circle cx="369.7" cy="71" r="1.75" fill="url(#rb)"/><circle cx="328.9" cy="71" r="1.75" fill="url(#rb)"/><circle cx="343.8" cy="71.1" r="1.75" fill="url(#rb)"/><circle cx="346.5" cy="71.2" r="1.75" fill="url(#rb)"/><circle cx="346.1" cy="71.2" r="1.75" fill="url(#rb)"/><circle cx="330.8" cy="71.3" r="1.75" fill="url(#rb)"/><circle cx="324.1" cy="71.5" r="1.75" fill="url(#rb)"/><circle cx="367" cy="71.7" r="1.75" fill="url(#rb)"/><circle cx="350.5" cy="71.9" r="1.75" fill="url(#rb)"/><circle cx="355.5" cy="72" r="1.75" fill="url(#rb)"/><circle cx="361.3" cy="72.1" r="1.75" fill="url(#rb)"/><circle cx="339.1" cy="72.7" r="1.75" fill="url(#rb)"/><circle cx="374.9" cy="72.9" r="1.75" fill="url(#rb)"/><circle cx="353.2" cy="72.9" r="1.75" fill="url(#rb)"/><circle cx="308.5" cy="73.1" r="1.75" fill="url(#rb)"/><circle cx="320.6" cy="73.3" r="1.75" fill="url(#rb)"/><circle cx="358.2" cy="73.4" r="1.75" fill="url(#rb)"/><circle cx="328.8" cy="73.5" r="1.75" fill="url(#rb)"/><circle cx="346.2" cy="73.5" r="1.75" fill="url(#rb)"/><circle cx="343.8" cy="73.6" r="1.75" fill="url(#rb)"/><circle cx="346.4" cy="73.6" r="1.75" fill="url(#rb)"/><circle cx="330.8" cy="73.7" r="1.75" fill="url(#rb)"/><circle cx="323.9" cy="73.8" r="1.75" fill="url(#rb)"/><circle cx="355.5" cy="74.1" r="1.75" fill="url(#rb)"/><circle cx="378.1" cy="74.3" r="1.75" fill="url(#rb)"/><circle cx="342.8" cy="74.4" r="1.75" fill="url(#rb)"/><circle cx="361.2" cy="74.4" r="1.75" fill="url(#rb)"/><circle cx="372.4" cy="74.5" r="1.75" fill="url(#rb)"/><circle cx="367" cy="74.6" r="1.75" fill="url(#rb)"/><circle cx="339" cy="75.3" r="1.75" fill="url(#rb)"/><circle cx="369.3" cy="75.3" r="1.75" fill="url(#rb)"/><circle cx="380.7" cy="75.4" r="1.75" fill="url(#rb)"/><circle cx="358.2" cy="75.4" r="1.75" fill="url(#rb)"/><circle cx="353.4" cy="75.5" r="1.75" fill="url(#rb)"/><circle cx="308.6" cy="75.6" r="1.75" fill="url(#rb)"/><circle cx="375.1" cy="75.7" r="1.75" fill="url(#rb)"/><circle cx="320.4" cy="76" r="1.75" fill="url(#rb)"/><circle cx="324" cy="76" r="1.75" fill="url(#rb)"/><circle cx="329.1" cy="76" r="1.75" fill="url(#rb)"/><circle cx="330.9" cy="76" r="1.75" fill="url(#rb)"/><circle cx="344.1" cy="76" r="1.75" fill="url(#rb)"/><circle cx="346.2" cy="76" r="1.75" fill="url(#rb)"/><circle cx="342.7" cy="76" r="1.75" fill="url(#rb)"/><circle cx="321.5" cy="76" r="1.75" fill="url(#rb)"/><circle cx="323.9" cy="76" r="1.75" fill="url(#rb)"/><circle cx="338" cy="76" r="1.75" fill="url(#rb)"/><circle cx="341.8" cy="76" r="1.75" fill="url(#rb)"/><circle cx="377.7" cy="76.6" r="1.75" fill="url(#rb)"/><circle cx="383.6" cy="76.7" r="1.75" fill="url(#rb)"/><circle cx="350.5" cy="76.7" r="1.75" fill="url(#rb)"/><circle cx="361.6" cy="76.8" r="1.75" fill="url(#rb)"/><circle cx="356" cy="77" r="1.75" fill="url(#rb)"/><circle cx="358.7" cy="77.6" r="1.75" fill="url(#rb)"/><circle cx="353.1" cy="77.9" r="1.75" fill="url(#rb)"/><circle cx="308.5" cy="78" r="1.75" fill="url(#rb)"/><circle cx="309.1" cy="78" r="1.75" fill="url(#rb)"/><circle cx="380.5" cy="78.1" r="1.75" fill="url(#rb)"/><circle cx="375.3" cy="78.2" r="1.75" fill="url(#rb)"/><circle cx="324.1" cy="78.5" r="1.75" fill="url(#rb)"/><circle cx="341.8" cy="78.5" r="1.75" fill="url(#rb)"/><circle cx="347.6" cy="78.6" r="1.75" fill="url(#rb)"/><circle cx="321.4" cy="78.7" r="1.75" fill="url(#rb)"/><circle cx="377.5" cy="78.8" r="1.75" fill="url(#rb)"/><circle cx="383.1" cy="78.9" r="1.75" fill="url(#rb)"/><circle cx="361" cy="79" r="1.75" fill="url(#rb)"/><circle cx="367" cy="79" r="1.75" fill="url(#rb)"/><circle cx="338" cy="79" r="1.75" fill="url(#rb)"/><circle cx="372.3" cy="79" r="1.75" fill="url(#rb)"/><circle cx="356" cy="79.3" r="1.75" fill="url(#rb)"/><circle cx="380.3" cy="79.9" r="1.75" fill="url(#rb)"/><circle cx="375" cy="80" r="1.75" fill="url(#rb)"/><circle cx="309.5" cy="80" r="1.75" fill="url(#rb)"/><circle cx="344.4" cy="80" r="1.75" fill="url(#rb)"/><circle cx="369.2" cy="80.1" r="1.75" fill="url(#rb)"/><circle cx="314.4" cy="80.5" r="1.75" fill="url(#rb)"/><circle cx="334.8" cy="80.5" r="1.75" fill="url(#rb)"/><circle cx="324.1" cy="81" r="1.75" fill="url(#rb)"/><circle cx="342" cy="81" r="1.75" fill="url(#rb)"/><circle cx="383" cy="81.1" r="1.75" fill="url(#rb)"/><circle cx="377.8" cy="81.1" r="1.75" fill="url(#rb)"/><circle cx="372.2" cy="81.3" r="1.75" fill="url(#rb)"/><circle cx="347.5" cy="81.3" r="1.75" fill="url(#rb)"/><circle cx="321.4" cy="81.4" r="1.75" fill="url(#rb)"/><circle cx="361.3" cy="81.5" r="1.75" fill="url(#rb)"/><circle cx="355.5" cy="81.5" r="1.75" fill="url(#rb)"/><circle cx="366.6" cy="81.7" r="1.75" fill="url(#rb)"/><circle cx="309.2" cy="82" r="1.75" fill="url(#rb)"/><circle cx="337.9" cy="82" r="1.75" fill="url(#rb)"/><circle cx="344.7" cy="82.2" r="1.75" fill="url(#rb)"/><circle cx="310.5" cy="83" r="1.75" fill="url(#rb)"/><circle cx="334.7" cy="83.2" r="1.75" fill="url(#rb)"/><circle cx="324.1" cy="83.5" r="1.75" fill="url(#rb)"/><circle cx="341.8" cy="83.5" r="1.75" fill="url(#rb)"/><circle cx="383.3" cy="83.7" r="1.75" fill="url(#rb)"/><circle cx="366.6" cy="83.7" r="1.75" fill="url(#rb)"/><circle cx="361.6" cy="83.7" r="1.75" fill="url(#rb)"/><circle cx="377.7" cy="83.8" r="1.75" fill="url(#rb)"/><circle cx="347.6" cy="84" r="1.75" fill="url(#rb)"/><circle cx="321.4" cy="84.1" r="1.75" fill="url(#rb)"/><circle cx="344.4" cy="84.4" r="1.75" fill="url(#rb)"/><circle cx="352.8" cy="84.6" r="1.75" fill="url(#rb)"/><circle cx="380.3" cy="85" r="1.75" fill="url(#rb)"/><circle cx="316.7" cy="85" r="1.75" fill="url(#rb)"/><circle cx="335.6" cy="85" r="1.75" fill="url(#rb)"/><circle cx="311" cy="85.5" r="1.75" fill="url(#rb)"/><circle cx="350.3" cy="85.8" r="1.75" fill="url(#rb)"/><circle cx="383.2" cy="85.9" r="1.75" fill="url(#rb)"/><circle cx="323.9" cy="86" r="1.75" fill="url(#rb)"/><circle cx="342" cy="86" r="1.75" fill="url(#rb)"/><circle cx="377.8" cy="86.1" r="1.75" fill="url(#rb)"/><circle cx="361.4" cy="86.4" r="1.75" fill="url(#rb)"/><circle cx="344.6" cy="86.6" r="1.75" fill="url(#rb)"/><circle cx="321.2" cy="86.8" r="1.75" fill="url(#rb)"/><circle cx="375.2" cy="87" r="1.75" fill="url(#rb)"/><circle cx="358.4" cy="87.2" r="1.75" fill="url(#rb)"/><circle cx="380.7" cy="87.2" r="1.75" fill="url(#rb)"/><circle cx="335.4" cy="87.7" r="1.75" fill="url(#rb)"/><circle cx="347.6" cy="88" r="1.75" fill="url(#rb)"/><circle cx="311.5" cy="88" r="1.75" fill="url(#rb)"/><circle cx="377.5" cy="88.2" r="1.75" fill="url(#rb)"/><circle cx="324.9" cy="88.6" r="1.75" fill="url(#rb)"/><circle cx="361.3" cy="88.7" r="1.75" fill="url(#rb)"/><circle cx="355.8" cy="88.7" r="1.75" fill="url(#rb)"/><circle cx="344.5" cy="88.8" r="1.75" fill="url(#rb)"/><circle cx="341.6" cy="89" r="1.75" fill="url(#rb)"/><circle cx="375.4" cy="89.3" r="1.75" fill="url(#rb)"/><circle cx="317.6" cy="89.5" r="1.75" fill="url(#rb)"/><circle cx="364" cy="89.5" r="1.75" fill="url(#rb)"/><circle cx="380.8" cy="89.7" r="1.75" fill="url(#rb)"/><circle cx="369.3" cy="89.9" r="1.75" fill="url(#rb)"/><circle cx="358.6" cy="89.9" r="1.75" fill="url(#rb)"/><circle cx="335.7" cy="90.5" r="1.75" fill="url(#rb)"/><circle cx="312" cy="90.5" r="1.75" fill="url(#rb)"/><circle cx="377.8" cy="90.5" r="1.75" fill="url(#rb)"/><circle cx="347.4" cy="90.6" r="1.75" fill="url(#rb)"/><circle cx="355.6" cy="90.8" r="1.75" fill="url(#rb)"/><circle cx="372" cy="90.8" r="1.75" fill="url(#rb)"/><circle cx="367.1" cy="90.9" r="1.75" fill="url(#rb)"/><circle cx="324.8" cy="90.9" r="1.75" fill="url(#rb)"/><circle cx="383.2" cy="91" r="1.75" fill="url(#rb)"/><circle cx="344.8" cy="91" r="1.75" fill="url(#rb)"/><circle cx="341.8" cy="91.1" r="1.75" fill="url(#rb)"/><circle cx="369.7" cy="91.8" r="1.75" fill="url(#rb)"/><circle cx="352.8" cy="92.1" r="1.75" fill="url(#rb)"/><circle cx="358.6" cy="92.1" r="1.75" fill="url(#rb)"/><circle cx="380.8" cy="92.3" r="1.75" fill="url(#rb)"/><circle cx="337.6" cy="92.3" r="1.75" fill="url(#rb)"/><circle cx="377.6" cy="92.9" r="1.75" fill="url(#rb)"/><circle cx="312.5" cy="93" r="1.75" fill="url(#rb)"/><circle cx="356.1" cy="93" r="1.75" fill="url(#rb)"/><circle cx="383.6" cy="93" r="1.75" fill="url(#rb)"/><circle cx="372.5" cy="93.2" r="1.75" fill="url(#rb)"/><circle cx="325" cy="93.2" r="1.75" fill="url(#rb)"/><circle cx="335.5" cy="93.2" r="1.75" fill="url(#rb)"/><circle cx="341.9" cy="93.2" r="1.75" fill="url(#rb)"/><circle cx="347.4" cy="93.2" r="1.75" fill="url(#rb)"/><circle cx="366.6" cy="93.2" r="1.75" fill="url(#rb)"/><circle cx="361.6" cy="93.4" r="1.75" fill="url(#rb)"/><circle cx="315.5" cy="93.5" r="1.75" fill="url(#rb)"/><circle cx="337.7" cy="94.2" r="1.75" fill="url(#rb)"/><circle cx="369.7" cy="94.2" r="1.75" fill="url(#rb)"/><circle cx="358.7" cy="94.3" r="1.75" fill="url(#rb)"/><circle cx="383.4" cy="95.2" r="1.75" fill="url(#rb)"/><circle cx="350" cy="95.2" r="1.75" fill="url(#rb)"/><circle cx="377.6" cy="95.5" r="1.75" fill="url(#rb)"/><circle cx="372.1" cy="95.6" r="1.75" fill="url(#rb)"/><circle cx="361" cy="95.8" r="1.75" fill="url(#rb)"/><circle cx="323.5" cy="96" r="1.75" fill="url(#rb)"/><circle cx="337.8" cy="96" r="1.75" fill="url(#rb)"/><circle cx="316.1" cy="96.1" r="1.75" fill="url(#rb)"/><circle cx="380.3" cy="96.7" r="1.75" fill="url(#rb)"/><circle cx="353.1" cy="96.7" r="1.75" fill="url(#rb)"/><circle cx="358.7" cy="97" r="1.75" fill="url(#rb)"/><circle cx="343.6" cy="97.3" r="1.75" fill="url(#rb)"/><circle cx="350.3" cy="97.7" r="1.75" fill="url(#rb)"/><circle cx="377.6" cy="97.9" r="1.75" fill="url(#rb)"/><circle cx="372.3" cy="98" r="1.75" fill="url(#rb)"/><circle cx="383.4" cy="98.2" r="1.75" fill="url(#rb)"/><circle cx="361.5" cy="98.2" r="1.75" fill="url(#rb)"/><circle cx="380.8" cy="98.7" r="1.75" fill="url(#rb)"/><circle cx="323.6" cy="98.7" r="1.75" fill="url(#rb)"/><circle cx="316.6" cy="98.7" r="1.75" fill="url(#rb)"/><circle cx="353.2" cy="98.7" r="1.75" fill="url(#rb)"/><circle cx="392.3" cy="99.1" r="1.75" fill="url(#rb)"/><circle cx="347.8" cy="99.1" r="1.75" fill="url(#rb)"/><circle cx="330.8" cy="99.2" r="1.75" fill="url(#rb)"/><circle cx="333.5" cy="99.5" r="1.75" fill="url(#rb)"/><circle cx="361.2" cy="100" r="1.75" fill="url(#rb)"/><circle cx="372" cy="100.1" r="1.75" fill="url(#rb)"/><circle cx="383.5" cy="100.1" r="1.75" fill="url(#rb)"/><circle cx="328.4" cy="100.2" r="1.75" fill="url(#rb)"/><circle cx="345.1" cy="100.3" r="1.75" fill="url(#rb)"/><circle cx="350.4" cy="100.3" r="1.75" fill="url(#rb)"/><circle cx="322.6" cy="100.4" r="1.75" fill="url(#rb)"/><circle cx="333.9" cy="100.4" r="1.75" fill="url(#rb)"/><circle cx="353.2" cy="101.1" r="1.75" fill="url(#rb)"/><circle cx="341.8" cy="101.1" r="1.75" fill="url(#rb)"/><circle cx="317.2" cy="101.3" r="1.75" fill="url(#rb)"/><circle cx="333.7" cy="101.3" r="1.75" fill="url(#rb)"/><circle cx="323.6" cy="101.4" r="1.75" fill="url(#rb)"/><circle cx="338.1" cy="101.4" r="1.75" fill="url(#rb)"/><circle cx="331.2" cy="101.5" r="1.75" fill="url(#rb)"/><circle cx="380.8" cy="101.5" r="1.75" fill="url(#rb)"/><circle cx="325.7" cy="101.5" r="1.75" fill="url(#rb)"/><circle cx="347.4" cy="101.6" r="1.75" fill="url(#rb)"/><circle cx="372.1" cy="102.2" r="1.75" fill="url(#rb)"/><circle cx="350.4" cy="102.3" r="1.75" fill="url(#rb)"/><circle cx="383" cy="102.5" r="1.75" fill="url(#rb)"/><circle cx="361.3" cy="102.6" r="1.75" fill="url(#rb)"/><circle cx="344.9" cy="102.7" r="1.75" fill="url(#rb)"/><circle cx="333.5" cy="102.8" r="1.75" fill="url(#rb)"/><circle cx="328.1" cy="102.9" r="1.75" fill="url(#rb)"/><circle cx="333.5" cy="103.2" r="1.75" fill="url(#rb)"/><circle cx="325.7" cy="103.4" r="1.75" fill="url(#rb)"/><circle cx="347.6" cy="103.5" r="1.75" fill="url(#rb)"/><circle cx="380.5" cy="103.5" r="1.75" fill="url(#rb)"/><circle cx="342.3" cy="103.7" r="1.75" fill="url(#rb)"/><circle cx="317.7" cy="103.9" r="1.75" fill="url(#rb)"/><circle cx="331" cy="103.9" r="1.75" fill="url(#rb)"/><circle cx="338.1" cy="104" r="1.75" fill="url(#rb)"/><circle cx="328" cy="104.6" r="1.75" fill="url(#rb)"/><circle cx="383.1" cy="104.7" r="1.75" fill="url(#rb)"/><circle cx="366.8" cy="104.9" r="1.75" fill="url(#rb)"/><circle cx="334.1" cy="105" r="1.75" fill="url(#rb)"/><circle cx="339" cy="105" r="1.75" fill="url(#rb)"/><circle cx="372.1" cy="105" r="1.75" fill="url(#rb)"/><circle cx="342.3" cy="105.8" r="1.75" fill="url(#rb)"/><circle cx="331.2" cy="106.1" r="1.75" fill="url(#rb)"/><circle cx="347.2" cy="106.2" r="1.75" fill="url(#rb)"/><circle cx="380.5" cy="106.3" r="1.75" fill="url(#rb)"/><circle cx="363.7" cy="106.4" r="1.75" fill="url(#rb)"/><circle cx="318.3" cy="106.5" r="1.75" fill="url(#rb)"/><circle cx="377.7" cy="107" r="1.75" fill="url(#rb)"/><circle cx="328.5" cy="107" r="1.75" fill="url(#rb)"/><circle cx="344.6" cy="107" r="1.75" fill="url(#rb)"/><circle cx="372" cy="107.1" r="1.75" fill="url(#rb)"/><circle cx="367" cy="107.2" r="1.75" fill="url(#rb)"/><circle cx="339.1" cy="107.3" r="1.75" fill="url(#rb)"/><circle cx="361.4" cy="107.3" r="1.75" fill="url(#rb)"/><circle cx="334" cy="107.5" r="1.75" fill="url(#rb)"/><circle cx="355.9" cy="107.6" r="1.75" fill="url(#rb)"/><circle cx="342" cy="108.2" r="1.75" fill="url(#rb)"/><circle cx="380.3" cy="108.3" r="1.75" fill="url(#rb)"/><circle cx="358.7" cy="108.5" r="1.75" fill="url(#rb)"/><circle cx="336.4" cy="108.6" r="1.75" fill="url(#rb)"/><circle cx="369.2" cy="108.7" r="1.75" fill="url(#rb)"/><circle cx="347.3" cy="108.7" r="1.75" fill="url(#rb)"/><circle cx="363.9" cy="108.7" r="1.75" fill="url(#rb)"/><circle cx="330.7" cy="108.8" r="1.75" fill="url(#rb)"/><circle cx="339.3" cy="109.3" r="1.75" fill="url(#rb)"/><circle cx="328.5" cy="109.4" r="1.75" fill="url(#rb)"/><circle cx="372.2" cy="109.4" r="1.75" fill="url(#rb)"/><circle cx="344.6" cy="109.4" r="1.75" fill="url(#rb)"/><circle cx="366.8" cy="109.5" r="1.75" fill="url(#rb)"/><circle cx="334.1" cy="109.5" r="1.75" fill="url(#rb)"/><circle cx="355.6" cy="109.6" r="1.75" fill="url(#rb)"/><circle cx="378.1" cy="109.6" r="1.75" fill="url(#rb)"/><circle cx="361.6" cy="109.7" r="1.75" fill="url(#rb)"/><circle cx="383.1" cy="109.7" r="1.75" fill="url(#rb)"/><circle cx="336.5" cy="110.5" r="1.75" fill="url(#rb)"/><circle cx="347.5" cy="110.5" r="1.75" fill="url(#rb)"/><circle cx="369.2" cy="110.6" r="1.75" fill="url(#rb)"/><circle cx="331.3" cy="110.7" r="1.75" fill="url(#rb)"/><circle cx="352.8" cy="110.7" r="1.75" fill="url(#rb)"/><circle cx="341.9" cy="110.8" r="1.75" fill="url(#rb)"/><circle cx="358.9" cy="110.8" r="1.75" fill="url(#rb)"/><circle cx="380.8" cy="110.8" r="1.75" fill="url(#rb)"/><circle cx="363.9" cy="110.8" r="1.75" fill="url(#rb)"/><circle cx="328.3" cy="111.6" r="1.75" fill="url(#rb)"/><circle cx="378" cy="111.7" r="1.75" fill="url(#rb)"/><circle cx="355.6" cy="111.7" r="1.75" fill="url(#rb)"/><circle cx="366.5" cy="111.7" r="1.75" fill="url(#rb)"/><circle cx="383.2" cy="111.7" r="1.75" fill="url(#rb)"/><circle cx="336.7" cy="112.9" r="1.75" fill="url(#rb)"/><circle cx="347.8" cy="113" r="1.75" fill="url(#rb)"/><circle cx="342.4" cy="113.2" r="1.75" fill="url(#rb)"/><circle cx="331.4" cy="113.4" r="1.75" fill="url(#rb)"/><circle cx="358.7" cy="113.4" r="1.75" fill="url(#rb)"/><circle cx="364" cy="113.4" r="1.75" fill="url(#rb)"/><circle cx="378" cy="114" r="1.75" fill="url(#rb)"/><circle cx="350.5" cy="114.2" r="1.75" fill="url(#rb)"/><circle cx="328.4" cy="114.3" r="1.75" fill="url(#rb)"/><circle cx="383.6" cy="114.4" r="1.75" fill="url(#rb)"/><circle cx="366.7" cy="114.4" r="1.75" fill="url(#rb)"/><circle cx="372.6" cy="114.5" r="1.75" fill="url(#rb)"/><circle cx="342" cy="115.2" r="1.75" fill="url(#rb)"/><circle cx="386.2" cy="115.4" r="1.75" fill="url(#rb)"/><circle cx="330.9" cy="115.4" r="1.75" fill="url(#rb)"/><circle cx="358.5" cy="115.4" r="1.75" fill="url(#rb)"/><circle cx="380.5" cy="115.5" r="1.75" fill="url(#rb)"/><circle cx="364" cy="115.6" r="1.75" fill="url(#rb)"/><circle cx="336.8" cy="115.7" r="1.75" fill="url(#rb)"/><circle cx="377.7" cy="116.4" r="1.75" fill="url(#rb)"/><circle cx="345" cy="116.4" r="1.75" fill="url(#rb)"/><circle cx="355.7" cy="116.5" r="1.75" fill="url(#rb)"/><circle cx="350.6" cy="116.6" r="1.75" fill="url(#rb)"/><circle cx="383.5" cy="117" r="1.75" fill="url(#rb)"/><circle cx="375.2" cy="117.5" r="1.75" fill="url(#rb)"/><circle cx="385.8" cy="117.6" r="1.75" fill="url(#rb)"/><circle cx="342.4" cy="117.6" r="1.75" fill="url(#rb)"/><circle cx="358.7" cy="117.7" r="1.75" fill="url(#rb)"/><circle cx="380.5" cy="117.7" r="1.75" fill="url(#rb)"/><circle cx="336.5" cy="117.9" r="1.75" fill="url(#rb)"/><circle cx="331" cy="118" r="1.75" fill="url(#rb)"/><circle cx="369.8" cy="118" r="1.75" fill="url(#rb)"/><circle cx="363.9" cy="118.1" r="1.75" fill="url(#rb)"/><circle cx="361.4" cy="118.7" r="1.75" fill="url(#rb)"/><circle cx="355.5" cy="119" r="1.75" fill="url(#rb)"/><circle cx="377.8" cy="119.2" r="1.75" fill="url(#rb)"/><circle cx="383" cy="119.2" r="1.75" fill="url(#rb)"/><circle cx="347.8" cy="119.9" r="1.75" fill="url(#rb)"/><circle cx="336.3" cy="120" r="1.75" fill="url(#rb)"/><circle cx="364.3" cy="120" r="1.75" fill="url(#rb)"/><circle cx="358.6" cy="120.1" r="1.75" fill="url(#rb)"/><circle cx="353.1" cy="120.3" r="1.75" fill="url(#rb)"/><circle cx="331.3" cy="120.4" r="1.75" fill="url(#rb)"/><circle cx="385.8" cy="120.4" r="1.75" fill="url(#rb)"/><circle cx="383.2" cy="121.1" r="1.75" fill="url(#rb)"/><circle cx="366.8" cy="121.2" r="1.75" fill="url(#rb)"/><circle cx="355.9" cy="121.4" r="1.75" fill="url(#rb)"/><circle cx="361.5" cy="121.4" r="1.75" fill="url(#rb)"/><circle cx="380.4" cy="122.2" r="1.75" fill="url(#rb)"/><circle cx="364" cy="122.3" r="1.75" fill="url(#rb)"/><circle cx="330.7" cy="122.4" r="1.75" fill="url(#rb)"/><circle cx="336.5" cy="122.6" r="1.75" fill="url(#rb)"/><circle cx="386.1" cy="122.6" r="1.75" fill="url(#rb)"/><circle cx="358.8" cy="122.8" r="1.75" fill="url(#rb)"/><circle cx="347.2" cy="122.8" r="1.75" fill="url(#rb)"/><circle cx="341.9" cy="122.8" r="1.75" fill="url(#rb)"/><circle cx="353.3" cy="122.8" r="1.75" fill="url(#rb)"/><circle cx="339.5" cy="123.6" r="1.75" fill="url(#rb)"/><circle cx="361.1" cy="123.7" r="1.75" fill="url(#rb)"/><circle cx="355.6" cy="123.8" r="1.75" fill="url(#rb)"/><circle cx="345.1" cy="124" r="1.75" fill="url(#rb)"/><circle cx="383.3" cy="124" r="1.75" fill="url(#rb)"/><circle cx="334" cy="124" r="1.75" fill="url(#rb)"/><circle cx="380.9" cy="124.6" r="1.75" fill="url(#rb)"/><circle cx="342.3" cy="124.6" r="1.75" fill="url(#rb)"/><circle cx="336.6" cy="124.6" r="1.75" fill="url(#rb)"/><circle cx="358.5" cy="124.7" r="1.75" fill="url(#rb)"/><circle cx="347.3" cy="124.9" r="1.75" fill="url(#rb)"/><circle cx="363.9" cy="124.9" r="1.75" fill="url(#rb)"/><circle cx="386.2" cy="124.9" r="1.75" fill="url(#rb)"/><circle cx="369.7" cy="125.1" r="1.75" fill="url(#rb)"/><circle cx="353" cy="125.1" r="1.75" fill="url(#rb)"/><circle cx="366.6" cy="125.8" r="1.75" fill="url(#rb)"/><circle cx="383.6" cy="125.8" r="1.75" fill="url(#rb)"/><circle cx="377.6" cy="126" r="1.75" fill="url(#rb)"/><circle cx="372.3" cy="126" r="1.75" fill="url(#rb)"/><circle cx="344.5" cy="126" r="1.75" fill="url(#rb)"/><circle cx="355.8" cy="126.1" r="1.75" fill="url(#rb)"/><circle cx="361.1" cy="126.2" r="1.75" fill="url(#rb)"/><circle cx="339.5" cy="126.3" r="1.75" fill="url(#rb)"/><circle cx="388.6" cy="126.4" r="1.75" fill="url(#rb)"/><circle cx="347.4" cy="127" r="1.75" fill="url(#rb)"/><circle cx="386.2" cy="127.1" r="1.75" fill="url(#rb)"/><circle cx="380.7" cy="127.1" r="1.75" fill="url(#rb)"/><circle cx="358.3" cy="127.3" r="1.75" fill="url(#rb)"/><circle cx="342.2" cy="127.3" r="1.75" fill="url(#rb)"/><circle cx="375.3" cy="127.4" r="1.75" fill="url(#rb)"/><circle cx="353" cy="127.5" r="1.75" fill="url(#rb)"/><circle cx="369.3" cy="127.5" r="1.75" fill="url(#rb)"/><circle cx="372.3" cy="128.1" r="1.75" fill="url(#rb)"/><circle cx="339.1" cy="128.1" r="1.75" fill="url(#rb)"/><circle cx="355.7" cy="128.2" r="1.75" fill="url(#rb)"/><circle cx="388.9" cy="128.3" r="1.75" fill="url(#rb)"/><circle cx="366.6" cy="128.3" r="1.75" fill="url(#rb)"/><circle cx="361.6" cy="128.5" r="1.75" fill="url(#rb)"/><circle cx="383.5" cy="128.5" r="1.75" fill="url(#rb)"/><circle cx="350.1" cy="128.6" r="1.75" fill="url(#rb)"/><circle cx="341.7" cy="129.3" r="1.75" fill="url(#rb)"/><circle cx="352.9" cy="129.4" r="1.75" fill="url(#rb)"/><circle cx="380.6" cy="129.4" r="1.75" fill="url(#rb)"/><circle cx="364" cy="129.5" r="1.75" fill="url(#rb)"/><circle cx="374.9" cy="129.7" r="1.75" fill="url(#rb)"/><circle cx="369.9" cy="129.7" r="1.75" fill="url(#rb)"/><circle cx="386.2" cy="129.8" r="1.75" fill="url(#rb)"/><circle cx="358.3" cy="129.9" r="1.75" fill="url(#rb)"/><circle cx="347.9" cy="129.9" r="1.75" fill="url(#rb)"/><circle cx="361" cy="130.5" r="1.75" fill="url(#rb)"/><circle cx="377.6" cy="130.6" r="1.75" fill="url(#rb)"/><circle cx="388.8" cy="130.6" r="1.75" fill="url(#rb)"/><circle cx="350.1" cy="130.7" r="1.75" fill="url(#rb)"/><circle cx="355.8" cy="130.7" r="1.75" fill="url(#rb)"/><circle cx="372.4" cy="130.8" r="1.75" fill="url(#rb)"/><circle cx="367" cy="131" r="1.75" fill="url(#rb)"/><circle cx="375" cy="131.8" r="1.75" fill="url(#rb)"/><circle cx="369.8" cy="132" r="1.75" fill="url(#rb)"/><circle cx="358.8" cy="132.2" r="1.75" fill="url(#rb)"/><circle cx="380.6" cy="132.2" r="1.75" fill="url(#rb)"/><circle cx="386.2" cy="132.3" r="1.75" fill="url(#rb)"/><circle cx="353" cy="132.3" r="1.75" fill="url(#rb)"/><circle cx="361" cy="132.8" r="1.75" fill="url(#rb)"/><circle cx="372.4" cy="132.9" r="1.75" fill="url(#rb)"/><circle cx="366.5" cy="132.9" r="1.75" fill="url(#rb)"/><circle cx="355.5" cy="133" r="1.75" fill="url(#rb)"/><circle cx="350" cy="133.1" r="1.75" fill="url(#rb)"/><circle cx="388.5" cy="133.3" r="1.75" fill="url(#rb)"/><circle cx="377.7" cy="133.4" r="1.75" fill="url(#rb)"/><circle cx="364.3" cy="134.2" r="1.75" fill="url(#rb)"/><circle cx="358.3" cy="134.2" r="1.75" fill="url(#rb)"/><circle cx="385.9" cy="134.3" r="1.75" fill="url(#rb)"/><circle cx="380.2" cy="134.3" r="1.75" fill="url(#rb)"/><circle cx="369.2" cy="134.4" r="1.75" fill="url(#rb)"/><circle cx="353.3" cy="134.5" r="1.75" fill="url(#rb)"/><circle cx="375.2" cy="134.5" r="1.75" fill="url(#rb)"/><circle cx="372" cy="135.1" r="1.75" fill="url(#rb)"/><circle cx="388.9" cy="135.4" r="1.75" fill="url(#rb)"/><circle cx="355.6" cy="135.5" r="1.75" fill="url(#rb)"/><circle cx="378.1" cy="135.5" r="1.75" fill="url(#rb)"/><circle cx="361.3" cy="135.7" r="1.75" fill="url(#rb)"/><circle cx="385.8" cy="136.3" r="1.75" fill="url(#rb)"/><circle cx="358.2" cy="136.3" r="1.75" fill="url(#rb)"/><circle cx="363.8" cy="136.5" r="1.75" fill="url(#rb)"/><circle cx="374.8" cy="136.5" r="1.75" fill="url(#rb)"/><circle cx="380.8" cy="136.8" r="1.75" fill="url(#rb)"/><circle cx="369.6" cy="136.9" r="1.75" fill="url(#rb)"/><circle cx="361.5" cy="137.5" r="1.75" fill="url(#rb)"/><circle cx="378.1" cy="137.6" r="1.75" fill="url(#rb)"/><circle cx="372.5" cy="137.7" r="1.75" fill="url(#rb)"/><circle cx="383.4" cy="137.7" r="1.75" fill="url(#rb)"/><circle cx="366.9" cy="137.7" r="1.75" fill="url(#rb)"/><circle cx="388.5" cy="137.8" r="1.75" fill="url(#rb)"/><circle cx="369.7" cy="138.7" r="1.75" fill="url(#rb)"/><circle cx="375.1" cy="138.9" r="1.75" fill="url(#rb)"/><circle cx="380.6" cy="138.9" r="1.75" fill="url(#rb)"/><circle cx="363.7" cy="139.1" r="1.75" fill="url(#rb)"/><circle cx="386.2" cy="139.2" r="1.75" fill="url(#rb)"/><circle cx="366.9" cy="140.3" r="1.75" fill="url(#rb)"/><circle cx="377.7" cy="140.3" r="1.75" fill="url(#rb)"/><circle cx="372.4" cy="140.4" r="1.75" fill="url(#rb)"/><circle cx="389.1" cy="140.5" r="1.75" fill="url(#rb)"/><circle cx="391.8" cy="141.1" r="1.75" fill="url(#rb)"/><circle cx="386.4" cy="141.1" r="1.75" fill="url(#rb)"/><circle cx="369.8" cy="141.2" r="1.75" fill="url(#rb)"/><circle cx="374.8" cy="141.2" r="1.75" fill="url(#rb)"/><circle cx="363.8" cy="141.5" r="1.75" fill="url(#rb)"/><circle cx="380.8" cy="141.6" r="1.75" fill="url(#rb)"/><circle cx="378" cy="142.2" r="1.75" fill="url(#rb)"/><circle cx="388.6" cy="142.3" r="1.75" fill="url(#rb)"/><circle cx="367" cy="142.4" r="1.75" fill="url(#rb)"/><circle cx="383" cy="142.6" r="1.75" fill="url(#rb)"/><circle cx="394.1" cy="142.6" r="1.75" fill="url(#rb)"/><circle cx="372.1" cy="142.7" r="1.75" fill="url(#rb)"/><circle cx="385.8" cy="143.3" r="1.75" fill="url(#rb)"/><circle cx="380.7" cy="143.5" r="1.75" fill="url(#rb)"/><circle cx="391.6" cy="143.6" r="1.75" fill="url(#rb)"/><circle cx="369.9" cy="143.8" r="1.75" fill="url(#rb)"/><circle cx="375.4" cy="144" r="1.75" fill="url(#rb)"/><circle cx="366.6" cy="144.6" r="1.75" fill="url(#rb)"/><circle cx="388.8" cy="144.7" r="1.75" fill="url(#rb)"/><circle cx="372.5" cy="144.7" r="1.75" fill="url(#rb)"/><circle cx="383.3" cy="144.9" r="1.75" fill="url(#rb)"/><circle cx="394.2" cy="145.1" r="1.75" fill="url(#rb)"/><circle cx="378" cy="145.2" r="1.75" fill="url(#rb)"/><circle cx="369.4" cy="145.7" r="1.75" fill="url(#rb)"/><circle cx="391.8" cy="145.8" r="1.75" fill="url(#rb)"/><circle cx="385.7" cy="146" r="1.75" fill="url(#rb)"/><circle cx="380.7" cy="146" r="1.75" fill="url(#rb)"/><circle cx="375.4" cy="146.3" r="1.75" fill="url(#rb)"/><circle cx="383.3" cy="146.9" r="1.75" fill="url(#rb)"/><circle cx="372.5" cy="147.1" r="1.75" fill="url(#rb)"/><circle cx="377.5" cy="147.3" r="1.75" fill="url(#rb)"/><circle cx="389" cy="147.3" r="1.75" fill="url(#rb)"/><circle cx="394.6" cy="147.5" r="1.75" fill="url(#rb)"/><circle cx="375.3" cy="148.1" r="1.75" fill="url(#rb)"/><circle cx="369.5" cy="148.2" r="1.75" fill="url(#rb)"/><circle cx="396.8" cy="148.3" r="1.75" fill="url(#rb)"/><circle cx="380.4" cy="148.4" r="1.75" fill="url(#rb)"/><circle cx="391.5" cy="148.6" r="1.75" fill="url(#rb)"/><circle cx="385.8" cy="148.7" r="1.75" fill="url(#rb)"/><circle cx="389.1" cy="149.4" r="1.75" fill="url(#rb)"/><circle cx="372.3" cy="149.5" r="1.75" fill="url(#rb)"/><circle cx="388.7" cy="149.8" r="1.75" fill="url(#rb)"/><circle cx="383.3" cy="149.9" r="1.75" fill="url(#rb)"/><circle cx="397.2" cy="150.5" r="1.75" fill="url(#rb)"/><circle cx="385.8" cy="150.5" r="1.75" fill="url(#rb)"/><circle cx="375.1" cy="150.6" r="1.75" fill="url(#rb)"/><circle cx="380.2" cy="150.6" r="1.75" fill="url(#rb)"/><circle cx="391.3" cy="151" r="1.75" fill="url(#rb)"/><circle cx="378" cy="151.6" r="1.75" fill="url(#rb)"/><circle cx="394.5" cy="152" r="1.75" fill="url(#rb)"/><circle cx="388.6" cy="152.2" r="1.75" fill="url(#rb)"/><circle cx="388.5" cy="152.3" r="1.75" fill="url(#rb)"/><circle cx="391.4" cy="152.7" r="1.75" fill="url(#rb)"/><circle cx="397.1" cy="152.8" r="1.75" fill="url(#rb)"/><circle cx="386.3" cy="152.8" r="1.75" fill="url(#rb)"/><circle cx="378.6" cy="153" r="1.75" fill="url(#rb)"/><circle cx="418.2" cy="153.5" r="1.75" fill="url(#rb)"/><circle cx="388.6" cy="154.4" r="1.75" fill="url(#rb)"/><circle cx="388.8" cy="154.9" r="1.75" fill="url(#rb)"/><circle cx="391.9" cy="155.1" r="1.75" fill="url(#rb)"/><circle cx="397" cy="155.7" r="1.75" fill="url(#rb)"/><circle cx="399.7" cy="156.3" r="1.75" fill="url(#rb)"/><circle cx="388.6" cy="156.5" r="1.75" fill="url(#rb)"/><circle cx="394.1" cy="156.6" r="1.75" fill="url(#rb)"/><circle cx="388.5" cy="157.4" r="1.75" fill="url(#rb)"/><circle cx="402.9" cy="157.4" r="1.75" fill="url(#rb)"/><circle cx="391.3" cy="157.9" r="1.75" fill="url(#rb)"/><circle cx="396.9" cy="158.1" r="1.75" fill="url(#rb)"/><circle cx="399.9" cy="159" r="1.75" fill="url(#rb)"/><circle cx="405.2" cy="159.3" r="1.75" fill="url(#rb)"/><circle cx="394" cy="159.3" r="1.75" fill="url(#rb)"/><circle cx="395" cy="159.8" r="1.75" fill="url(#rb)"/><circle cx="402.8" cy="160" r="1.75" fill="url(#rb)"/><circle cx="388.4" cy="160" r="1.75" fill="url(#rb)"/><circle cx="397.2" cy="160" r="1.75" fill="url(#rb)"/><circle cx="408.2" cy="160" r="1.75" fill="url(#rb)"/><circle cx="394.6" cy="161" r="1.75" fill="url(#rb)"/><circle cx="399.9" cy="161.6" r="1.75" fill="url(#rb)"/><circle cx="396.9" cy="162.2" r="1.75" fill="url(#rb)"/><circle cx="408.1" cy="162.3" r="1.75" fill="url(#rb)"/><circle cx="402.5" cy="162.3" r="1.75" fill="url(#rb)"/><circle cx="388.4" cy="162.5" r="1.75" fill="url(#rb)"/><circle cx="411" cy="163.5" r="1.75" fill="url(#rb)"/><circle cx="400" cy="163.6" r="1.75" fill="url(#rb)"/><circle cx="405.5" cy="163.7" r="1.75" fill="url(#rb)"/><circle cx="413.8" cy="164.6" r="1.75" fill="url(#rb)"/><circle cx="397.1" cy="164.8" r="1.75" fill="url(#rb)"/><circle cx="402.3" cy="165.1" r="1.75" fill="url(#rb)"/><circle cx="407.9" cy="165.1" r="1.75" fill="url(#rb)"/><circle cx="405.6" cy="165.8" r="1.75" fill="url(#rb)"/><circle cx="411" cy="166" r="1.75" fill="url(#rb)"/><circle cx="399.7" cy="166.3" r="1.75" fill="url(#rb)"/><circle cx="402.8" cy="166.9" r="1.75" fill="url(#rb)"/><circle cx="413.4" cy="166.9" r="1.75" fill="url(#rb)"/><circle cx="408.2" cy="167.2" r="1.75" fill="url(#rb)"/><circle cx="405.5" cy="168.3" r="1.75" fill="url(#rb)"/><circle cx="399.7" cy="168.3" r="1.75" fill="url(#rb)"/><circle cx="411" cy="168.6" r="1.75" fill="url(#rb)"/><circle cx="407.9" cy="169.3" r="1.75" fill="url(#rb)"/><circle cx="413.8" cy="169.5" r="1.75" fill="url(#rb)"/><circle cx="402.4" cy="169.6" r="1.75" fill="url(#rb)"/><circle cx="410.5" cy="170.6" r="1.75" fill="url(#rb)"/><circle cx="405.2" cy="170.7" r="1.75" fill="url(#rb)"/><circle cx="408.1" cy="171.9" r="1.75" fill="url(#rb)"/>
<circle cx="308.4" cy="43.9" r="1.85" fill="url(#bb)"/><circle cx="313.5" cy="45.5" r="1.85" fill="url(#bb)"/><circle cx="318" cy="47.1" r="1.85" fill="url(#bb)"/><circle cx="323.5" cy="49.4" r="1.85" fill="url(#bb)"/><circle cx="328.9" cy="51.5" r="1.85" fill="url(#bb)"/><circle cx="330.5" cy="52.1" r="1.85" fill="url(#bb)"/><circle cx="338" cy="54.8" r="1.85" fill="url(#bb)"/><circle cx="342.7" cy="57.1" r="1.85" fill="url(#bb)"/><circle cx="344.5" cy="58.5" r="1.85" fill="url(#bb)"/><circle cx="349.5" cy="59.8" r="1.85" fill="url(#bb)"/><circle cx="352.3" cy="61.8" r="1.85" fill="url(#bb)"/><circle cx="356.4" cy="63.9" r="1.85" fill="url(#bb)"/><circle cx="362.3" cy="65.8" r="1.85" fill="url(#bb)"/><circle cx="365.5" cy="67.2" r="1.85" fill="url(#bb)"/><circle cx="369.1" cy="69.1" r="1.85" fill="url(#bb)"/><circle cx="372.3" cy="70.5" r="1.85" fill="url(#bb)"/><circle cx="377.3" cy="72.4" r="1.85" fill="url(#bb)"/><circle cx="380.5" cy="75.1" r="1.85" fill="url(#bb)"/>
<circle cx="61.4" cy="267" r="1.75" fill="url(#rb)"/><circle cx="63.5" cy="268.2" r="1.75" fill="url(#rb)"/><circle cx="60.9" cy="269.7" r="1.75" fill="url(#rb)"/><circle cx="63.7" cy="270.7" r="1.75" fill="url(#rb)"/><circle cx="60.9" cy="271.5" r="1.75" fill="url(#rb)"/><circle cx="63.8" cy="273.1" r="1.75" fill="url(#rb)"/><circle cx="60.8" cy="274.4" r="1.75" fill="url(#rb)"/><circle cx="64" cy="275.1" r="1.75" fill="url(#rb)"/><circle cx="69.6" cy="275.3" r="1.75" fill="url(#rb)"/><circle cx="66.9" cy="276.2" r="1.75" fill="url(#rb)"/><circle cx="60.9" cy="276.6" r="1.75" fill="url(#rb)"/><circle cx="69.1" cy="277.9" r="1.75" fill="url(#rb)"/><circle cx="63.6" cy="278" r="1.75" fill="url(#rb)"/><circle cx="61.1" cy="278.6" r="1.75" fill="url(#rb)"/><circle cx="66.9" cy="278.7" r="1.75" fill="url(#rb)"/><circle cx="64.2" cy="280" r="1.75" fill="url(#rb)"/><circle cx="69.3" cy="280.1" r="1.75" fill="url(#rb)"/><circle cx="66.7" cy="280.9" r="1.75" fill="url(#rb)"/><circle cx="61" cy="281.4" r="1.75" fill="url(#rb)"/><circle cx="69.3" cy="282.1" r="1.75" fill="url(#rb)"/><circle cx="63.7" cy="282.6" r="1.75" fill="url(#rb)"/><circle cx="80.3" cy="282.7" r="1.75" fill="url(#rb)"/><circle cx="66.6" cy="283.4" r="1.75" fill="url(#rb)"/><circle cx="77.8" cy="283.8" r="1.75" fill="url(#rb)"/><circle cx="61.3" cy="283.9" r="1.75" fill="url(#rb)"/><circle cx="64.2" cy="284.4" r="1.75" fill="url(#rb)"/><circle cx="69.4" cy="284.6" r="1.75" fill="url(#rb)"/><circle cx="80.6" cy="284.9" r="1.75" fill="url(#rb)"/><circle cx="66.4" cy="286.1" r="1.75" fill="url(#rb)"/><circle cx="69.3" cy="286.9" r="1.75" fill="url(#rb)"/><circle cx="64.1" cy="287.1" r="1.75" fill="url(#rb)"/><circle cx="80.3" cy="287.3" r="1.75" fill="url(#rb)"/><circle cx="77.3" cy="288" r="1.75" fill="url(#rb)"/><circle cx="82.9" cy="288.2" r="1.75" fill="url(#rb)"/><circle cx="66.3" cy="288.3" r="1.75" fill="url(#rb)"/><circle cx="63.6" cy="289.2" r="1.75" fill="url(#rb)"/><circle cx="80.5" cy="289.6" r="1.75" fill="url(#rb)"/><circle cx="69.2" cy="289.7" r="1.75" fill="url(#rb)"/><circle cx="83.1" cy="290.5" r="1.75" fill="url(#rb)"/><circle cx="77.5" cy="290.7" r="1.75" fill="url(#rb)"/><circle cx="66.6" cy="290.8" r="1.75" fill="url(#rb)"/><circle cx="69.6" cy="291.4" r="1.75" fill="url(#rb)"/><circle cx="91.5" cy="291.7" r="1.75" fill="url(#rb)"/><circle cx="64.1" cy="292" r="1.75" fill="url(#rb)"/><circle cx="66.6" cy="292.6" r="1.75" fill="url(#rb)"/><circle cx="77.5" cy="292.7" r="1.75" fill="url(#rb)"/><circle cx="88.3" cy="293" r="1.75" fill="url(#rb)"/><circle cx="82.9" cy="293.1" r="1.75" fill="url(#rb)"/><circle cx="72.2" cy="293.2" r="1.75" fill="url(#rb)"/><circle cx="91.6" cy="293.9" r="1.75" fill="url(#rb)"/><circle cx="69.3" cy="294.3" r="1.75" fill="url(#rb)"/><circle cx="80.1" cy="294.4" r="1.75" fill="url(#rb)"/><circle cx="72.3" cy="295.3" r="1.75" fill="url(#rb)"/><circle cx="83.3" cy="295.3" r="1.75" fill="url(#rb)"/><circle cx="77.8" cy="295.4" r="1.75" fill="url(#rb)"/><circle cx="88.3" cy="295.4" r="1.75" fill="url(#rb)"/><circle cx="66.3" cy="295.4" r="1.75" fill="url(#rb)"/><circle cx="69.5" cy="296.3" r="1.75" fill="url(#rb)"/><circle cx="80.1" cy="296.5" r="1.75" fill="url(#rb)"/><circle cx="102.4" cy="296.6" r="1.75" fill="url(#rb)"/><circle cx="83.4" cy="297.5" r="1.75" fill="url(#rb)"/><circle cx="77.3" cy="297.5" r="1.75" fill="url(#rb)"/><circle cx="66.7" cy="297.5" r="1.75" fill="url(#rb)"/><circle cx="88.7" cy="297.6" r="1.75" fill="url(#rb)"/><circle cx="99.9" cy="297.8" r="1.75" fill="url(#rb)"/><circle cx="71.8" cy="298" r="1.75" fill="url(#rb)"/><circle cx="102.1" cy="298.5" r="1.75" fill="url(#rb)"/><circle cx="69.1" cy="298.7" r="1.75" fill="url(#rb)"/><circle cx="91.4" cy="298.7" r="1.75" fill="url(#rb)"/><circle cx="80" cy="298.7" r="1.75" fill="url(#rb)"/><circle cx="72" cy="299.7" r="1.75" fill="url(#rb)"/><circle cx="66.7" cy="299.8" r="1.75" fill="url(#rb)"/><circle cx="88.7" cy="299.8" r="1.75" fill="url(#rb)"/><circle cx="82.8" cy="300" r="1.75" fill="url(#rb)"/><circle cx="77.6" cy="300.1" r="1.75" fill="url(#rb)"/><circle cx="99.9" cy="300.2" r="1.75" fill="url(#rb)"/><circle cx="75" cy="300.9" r="1.75" fill="url(#rb)"/><circle cx="80.4" cy="301" r="1.75" fill="url(#rb)"/><circle cx="102.3" cy="301.3" r="1.75" fill="url(#rb)"/><circle cx="66.9" cy="302.2" r="1.75" fill="url(#rb)"/><circle cx="99.4" cy="302.3" r="1.75" fill="url(#rb)"/><circle cx="83.2" cy="302.3" r="1.75" fill="url(#rb)"/><circle cx="72.3" cy="302.5" r="1.75" fill="url(#rb)"/><circle cx="77.3" cy="302.5" r="1.75" fill="url(#rb)"/><circle cx="88.9" cy="302.6" r="1.75" fill="url(#rb)"/><circle cx="102.2" cy="303.2" r="1.75" fill="url(#rb)"/><circle cx="69.4" cy="303.4" r="1.75" fill="url(#rb)"/><circle cx="91.6" cy="303.5" r="1.75" fill="url(#rb)"/><circle cx="80.2" cy="303.6" r="1.75" fill="url(#rb)"/><circle cx="75.2" cy="303.8" r="1.75" fill="url(#rb)"/><circle cx="72" cy="304.4" r="1.75" fill="url(#rb)"/><circle cx="77.8" cy="304.5" r="1.75" fill="url(#rb)"/><circle cx="82.8" cy="304.6" r="1.75" fill="url(#rb)"/><circle cx="88.5" cy="305" r="1.75" fill="url(#rb)"/><circle cx="91.6" cy="305.9" r="1.75" fill="url(#rb)"/><circle cx="69.1" cy="305.9" r="1.75" fill="url(#rb)"/><circle cx="80.7" cy="306" r="1.75" fill="url(#rb)"/><circle cx="75.1" cy="306.1" r="1.75" fill="url(#rb)"/><circle cx="88.6" cy="306.8" r="1.75" fill="url(#rb)"/><circle cx="71.9" cy="306.9" r="1.75" fill="url(#rb)"/><circle cx="77.9" cy="307" r="1.75" fill="url(#rb)"/><circle cx="83.4" cy="307.1" r="1.75" fill="url(#rb)"/><circle cx="99.9" cy="307.3" r="1.75" fill="url(#rb)"/><circle cx="80.5" cy="308.1" r="1.75" fill="url(#rb)"/><circle cx="91.2" cy="308.3" r="1.75" fill="url(#rb)"/><circle cx="69.4" cy="308.4" r="1.75" fill="url(#rb)"/><circle cx="74.8" cy="308.5" r="1.75" fill="url(#rb)"/><circle cx="102.1" cy="308.5" r="1.75" fill="url(#rb)"/><circle cx="83.3" cy="309.3" r="1.75" fill="url(#rb)"/><circle cx="77.9" cy="309.5" r="1.75" fill="url(#rb)"/><circle cx="88.7" cy="309.5" r="1.75" fill="url(#rb)"/><circle cx="99.8" cy="309.6" r="1.75" fill="url(#rb)"/><circle cx="72.4" cy="309.6" r="1.75" fill="url(#rb)"/><circle cx="102.5" cy="310.3" r="1.75" fill="url(#rb)"/><circle cx="69" cy="310.4" r="1.75" fill="url(#rb)"/><circle cx="75.1" cy="310.4" r="1.75" fill="url(#rb)"/><circle cx="91.3" cy="310.7" r="1.75" fill="url(#rb)"/><circle cx="80.5" cy="310.7" r="1.75" fill="url(#rb)"/><circle cx="88.5" cy="311.5" r="1.75" fill="url(#rb)"/><circle cx="83.3" cy="311.6" r="1.75" fill="url(#rb)"/><circle cx="77.5" cy="311.7" r="1.75" fill="url(#rb)"/><circle cx="99.8" cy="311.8" r="1.75" fill="url(#rb)"/><circle cx="72.1" cy="311.9" r="1.75" fill="url(#rb)"/><circle cx="69.7" cy="312.6" r="1.75" fill="url(#rb)"/><circle cx="102.2" cy="312.8" r="1.75" fill="url(#rb)"/><circle cx="80.1" cy="313" r="1.75" fill="url(#rb)"/><circle cx="91.2" cy="313.2" r="1.75" fill="url(#rb)"/><circle cx="74.9" cy="313.2" r="1.75" fill="url(#rb)"/><circle cx="88.4" cy="313.9" r="1.75" fill="url(#rb)"/><circle cx="99.8" cy="314" r="1.75" fill="url(#rb)"/><circle cx="83.3" cy="314" r="1.75" fill="url(#rb)"/><circle cx="72.3" cy="314.2" r="1.75" fill="url(#rb)"/><circle cx="77.6" cy="314.4" r="1.75" fill="url(#rb)"/><circle cx="102.1" cy="315.1" r="1.75" fill="url(#rb)"/><circle cx="80.6" cy="315.2" r="1.75" fill="url(#rb)"/><circle cx="91.1" cy="315.3" r="1.75" fill="url(#rb)"/><circle cx="75.2" cy="315.5" r="1.75" fill="url(#rb)"/><circle cx="77.8" cy="316.2" r="1.75" fill="url(#rb)"/><circle cx="88.6" cy="316.4" r="1.75" fill="url(#rb)"/><circle cx="83.4" cy="316.5" r="1.75" fill="url(#rb)"/><circle cx="99.5" cy="316.5" r="1.75" fill="url(#rb)"/><circle cx="72.2" cy="316.7" r="1.75" fill="url(#rb)"/><circle cx="75.1" cy="317.4" r="1.75" fill="url(#rb)"/><circle cx="102.2" cy="317.5" r="1.75" fill="url(#rb)"/><circle cx="91.1" cy="317.6" r="1.75" fill="url(#rb)"/><circle cx="80.4" cy="317.9" r="1.75" fill="url(#rb)"/><circle cx="77.3" cy="318.6" r="1.75" fill="url(#rb)"/><circle cx="88.7" cy="318.6" r="1.75" fill="url(#rb)"/><circle cx="99.4" cy="318.8" r="1.75" fill="url(#rb)"/><circle cx="71.8" cy="319" r="1.75" fill="url(#rb)"/><circle cx="83.2" cy="319.1" r="1.75" fill="url(#rb)"/><circle cx="80.5" cy="319.7" r="1.75" fill="url(#rb)"/><circle cx="102.2" cy="319.8" r="1.75" fill="url(#rb)"/><circle cx="74.8" cy="319.8" r="1.75" fill="url(#rb)"/><circle cx="91.4" cy="320.1" r="1.75" fill="url(#rb)"/><circle cx="83" cy="320.8" r="1.75" fill="url(#rb)"/><circle cx="88.6" cy="321.3" r="1.75" fill="url(#rb)"/><circle cx="77.6" cy="321.4" r="1.75" fill="url(#rb)"/><circle cx="99.6" cy="321.5" r="1.75" fill="url(#rb)"/><circle cx="71.9" cy="321.5" r="1.75" fill="url(#rb)"/><circle cx="80" cy="322.2" r="1.75" fill="url(#rb)"/><circle cx="102.3" cy="322.2" r="1.75" fill="url(#rb)"/><circle cx="75.1" cy="322.5" r="1.75" fill="url(#rb)"/><circle cx="91" cy="322.5" r="1.75" fill="url(#rb)"/><circle cx="77.5" cy="323.2" r="1.75" fill="url(#rb)"/><circle cx="99.9" cy="323.6" r="1.75" fill="url(#rb)"/><circle cx="83.1" cy="323.7" r="1.75" fill="url(#rb)"/><circle cx="88.8" cy="323.8" r="1.75" fill="url(#rb)"/><circle cx="91.3" cy="324.6" r="1.75" fill="url(#rb)"/><circle cx="74.8" cy="324.9" r="1.75" fill="url(#rb)"/><circle cx="102.3" cy="324.9" r="1.75" fill="url(#rb)"/><circle cx="80.7" cy="325" r="1.75" fill="url(#rb)"/><circle cx="104.9" cy="325.5" r="1.75" fill="url(#rb)"/><circle cx="99.3" cy="325.6" r="1.75" fill="url(#rb)"/><circle cx="83.2" cy="325.8" r="1.75" fill="url(#rb)"/><circle cx="77.9" cy="325.9" r="1.75" fill="url(#rb)"/><circle cx="88.8" cy="326" r="1.75" fill="url(#rb)"/><circle cx="94" cy="326.1" r="1.75" fill="url(#rb)"/><circle cx="91.5" cy="326.8" r="1.75" fill="url(#rb)"/><circle cx="96.5" cy="327.3" r="1.75" fill="url(#rb)"/><circle cx="102.5" cy="327.3" r="1.75" fill="url(#rb)"/><circle cx="75" cy="327.3" r="1.75" fill="url(#rb)"/><circle cx="80.2" cy="327.3" r="1.75" fill="url(#rb)"/><circle cx="99.9" cy="327.9" r="1.75" fill="url(#rb)"/><circle cx="104.8" cy="328" r="1.75" fill="url(#rb)"/><circle cx="94.2" cy="328.4" r="1.75" fill="url(#rb)"/><circle cx="82.9" cy="328.4" r="1.75" fill="url(#rb)"/><circle cx="77.9" cy="328.5" r="1.75" fill="url(#rb)"/><circle cx="74.8" cy="329.1" r="1.75" fill="url(#rb)"/><circle cx="85.7" cy="329.1" r="1.75" fill="url(#rb)"/><circle cx="96.8" cy="329.1" r="1.75" fill="url(#rb)"/><circle cx="80.2" cy="329.3" r="1.75" fill="url(#rb)"/><circle cx="102" cy="329.3" r="1.75" fill="url(#rb)"/><circle cx="88.4" cy="330.2" r="1.75" fill="url(#rb)"/><circle cx="83.3" cy="330.3" r="1.75" fill="url(#rb)"/><circle cx="77.3" cy="330.6" r="1.75" fill="url(#rb)"/><circle cx="105.2" cy="330.9" r="1.75" fill="url(#rb)"/><circle cx="99.8" cy="330.9" r="1.75" fill="url(#rb)"/><circle cx="75.1" cy="331.6" r="1.75" fill="url(#rb)"/><circle cx="80.2" cy="331.7" r="1.75" fill="url(#rb)"/><circle cx="96.6" cy="331.7" r="1.75" fill="url(#rb)"/><circle cx="102.3" cy="331.9" r="1.75" fill="url(#rb)"/><circle cx="86.2" cy="331.9" r="1.75" fill="url(#rb)"/><circle cx="105.2" cy="332.6" r="1.75" fill="url(#rb)"/><circle cx="77.9" cy="332.8" r="1.75" fill="url(#rb)"/><circle cx="83.3" cy="332.9" r="1.75" fill="url(#rb)"/><circle cx="88.8" cy="333" r="1.75" fill="url(#rb)"/><circle cx="99.6" cy="333" r="1.75" fill="url(#rb)"/><circle cx="94.4" cy="333.1" r="1.75" fill="url(#rb)"/><circle cx="86" cy="333.8" r="1.75" fill="url(#rb)"/><circle cx="80.7" cy="333.9" r="1.75" fill="url(#rb)"/><circle cx="102.1" cy="334.1" r="1.75" fill="url(#rb)"/><circle cx="97.2" cy="334.1" r="1.75" fill="url(#rb)"/><circle cx="88.5" cy="335" r="1.75" fill="url(#rb)"/><circle cx="77.7" cy="335.2" r="1.75" fill="url(#rb)"/><circle cx="104.9" cy="335.2" r="1.75" fill="url(#rb)"/><circle cx="83.4" cy="335.4" r="1.75" fill="url(#rb)"/><circle cx="99.8" cy="335.4" r="1.75" fill="url(#rb)"/><circle cx="85.7" cy="336.1" r="1.75" fill="url(#rb)"/><circle cx="102.2" cy="336.4" r="1.75" fill="url(#rb)"/><circle cx="80.6" cy="336.4" r="1.75" fill="url(#rb)"/><circle cx="96.6" cy="336.6" r="1.75" fill="url(#rb)"/><circle cx="99.4" cy="337.3" r="1.75" fill="url(#rb)"/><circle cx="88.9" cy="337.5" r="1.75" fill="url(#rb)"/><circle cx="105.4" cy="337.6" r="1.75" fill="url(#rb)"/><circle cx="83.2" cy="337.9" r="1.75" fill="url(#rb)"/><circle cx="77.7" cy="337.9" r="1.75" fill="url(#rb)"/><circle cx="93.9" cy="337.9" r="1.75" fill="url(#rb)"/><circle cx="97.1" cy="338.5" r="1.75" fill="url(#rb)"/><circle cx="85.6" cy="338.6" r="1.75" fill="url(#rb)"/><circle cx="102" cy="338.7" r="1.75" fill="url(#rb)"/><circle cx="80.4" cy="339" r="1.75" fill="url(#rb)"/><circle cx="105.2" cy="339.8" r="1.75" fill="url(#rb)"/><circle cx="99.4" cy="339.8" r="1.75" fill="url(#rb)"/><circle cx="88.4" cy="339.8" r="1.75" fill="url(#rb)"/><circle cx="83.2" cy="340.1" r="1.75" fill="url(#rb)"/><circle cx="94.2" cy="340.3" r="1.75" fill="url(#rb)"/><circle cx="102.7" cy="341.2" r="1.75" fill="url(#rb)"/><circle cx="85.8" cy="341.2" r="1.75" fill="url(#rb)"/><circle cx="80.1" cy="341.3" r="1.75" fill="url(#rb)"/><circle cx="96.7" cy="341.3" r="1.75" fill="url(#rb)"/><circle cx="82.9" cy="342" r="1.75" fill="url(#rb)"/><circle cx="94.4" cy="342.1" r="1.75" fill="url(#rb)"/><circle cx="88.8" cy="342.3" r="1.75" fill="url(#rb)"/><circle cx="99.7" cy="342.4" r="1.75" fill="url(#rb)"/><circle cx="104.9" cy="342.6" r="1.75" fill="url(#rb)"/><circle cx="80.4" cy="343.6" r="1.75" fill="url(#rb)"/><circle cx="102.2" cy="343.6" r="1.75" fill="url(#rb)"/><circle cx="85.5" cy="343.7" r="1.75" fill="url(#rb)"/><circle cx="96.9" cy="343.8" r="1.75" fill="url(#rb)"/><circle cx="88.3" cy="344.4" r="1.75" fill="url(#rb)"/><circle cx="99.7" cy="344.8" r="1.75" fill="url(#rb)"/><circle cx="93.8" cy="344.8" r="1.75" fill="url(#rb)"/><circle cx="104.9" cy="345" r="1.75" fill="url(#rb)"/><circle cx="108.5" cy="345.5" r="1.75" fill="url(#rb)"/><circle cx="96.5" cy="345.5" r="1.75" fill="url(#rb)"/><circle cx="85.7" cy="345.9" r="1.75" fill="url(#rb)"/><circle cx="102.6" cy="346.1" r="1.75" fill="url(#rb)"/><circle cx="99.3" cy="346.7" r="1.75" fill="url(#rb)"/><circle cx="105" cy="346.9" r="1.75" fill="url(#rb)"/><circle cx="94.4" cy="347.1" r="1.75" fill="url(#rb)"/><circle cx="88.6" cy="347.3" r="1.75" fill="url(#rb)"/><circle cx="85.7" cy="348.2" r="1.75" fill="url(#rb)"/><circle cx="97" cy="348.2" r="1.75" fill="url(#rb)"/><circle cx="102.1" cy="348.5" r="1.75" fill="url(#rb)"/><circle cx="94.3" cy="349.1" r="1.75" fill="url(#rb)"/><circle cx="83.3" cy="349.2" r="1.75" fill="url(#rb)"/><circle cx="104.8" cy="349.3" r="1.75" fill="url(#rb)"/><circle cx="88.8" cy="349.3" r="1.75" fill="url(#rb)"/><circle cx="102.2" cy="350.3" r="1.75" fill="url(#rb)"/><circle cx="86.1" cy="350.3" r="1.75" fill="url(#rb)"/><circle cx="96.8" cy="350.5" r="1.75" fill="url(#rb)"/><circle cx="88.3" cy="351.4" r="1.75" fill="url(#rb)"/><circle cx="99.3" cy="351.4" r="1.75" fill="url(#rb)"/><circle cx="93.8" cy="351.9" r="1.75" fill="url(#rb)"/><circle cx="102.1" cy="352.6" r="1.75" fill="url(#rb)"/><circle cx="86.1" cy="352.9" r="1.75" fill="url(#rb)"/><circle cx="97" cy="353.2" r="1.75" fill="url(#rb)"/><circle cx="94.4" cy="353.7" r="1.75" fill="url(#rb)"/><circle cx="88.6" cy="353.8" r="1.75" fill="url(#rb)"/><circle cx="99.9" cy="354.2" r="1.75" fill="url(#rb)"/><circle cx="102.6" cy="355.2" r="1.75" fill="url(#rb)"/><circle cx="91.5" cy="355.2" r="1.75" fill="url(#rb)"/><circle cx="97.1" cy="355.5" r="1.75" fill="url(#rb)"/><circle cx="99.8" cy="356.2" r="1.75" fill="url(#rb)"/><circle cx="94.1" cy="356.6" r="1.75" fill="url(#rb)"/><circle cx="88.3" cy="356.7" r="1.75" fill="url(#rb)"/><circle cx="97" cy="357.2" r="1.75" fill="url(#rb)"/><circle cx="102.1" cy="357.5" r="1.75" fill="url(#rb)"/><circle cx="91.6" cy="357.6" r="1.75" fill="url(#rb)"/><circle cx="105.3" cy="358.4" r="1.75" fill="url(#rb)"/><circle cx="99.5" cy="358.7" r="1.75" fill="url(#rb)"/><circle cx="94.2" cy="358.8" r="1.75" fill="url(#rb)"/><circle cx="88.9" cy="359.1" r="1.75" fill="url(#rb)"/><circle cx="97.1" cy="359.9" r="1.75" fill="url(#rb)"/><circle cx="102.1" cy="360" r="1.75" fill="url(#rb)"/><circle cx="107.6" cy="360.2" r="1.75" fill="url(#rb)"/><circle cx="91.2" cy="360.3" r="1.75" fill="url(#rb)"/><circle cx="93.8" cy="360.8" r="1.75" fill="url(#rb)"/><circle cx="104.9" cy="361.1" r="1.75" fill="url(#rb)"/><circle cx="99.6" cy="361.3" r="1.75" fill="url(#rb)"/><circle cx="107.6" cy="362.3" r="1.75" fill="url(#rb)"/><circle cx="96.6" cy="362.6" r="1.75" fill="url(#rb)"/><circle cx="102.1" cy="362.6" r="1.75" fill="url(#rb)"/><circle cx="105.2" cy="363.2" r="1.75" fill="url(#rb)"/><circle cx="99.9" cy="363.3" r="1.75" fill="url(#rb)"/><circle cx="94" cy="363.4" r="1.75" fill="url(#rb)"/><circle cx="102.1" cy="364.3" r="1.75" fill="url(#rb)"/><circle cx="108.1" cy="364.3" r="1.75" fill="url(#rb)"/><circle cx="97" cy="364.5" r="1.75" fill="url(#rb)"/><circle cx="110.9" cy="365.8" r="1.75" fill="url(#rb)"/><circle cx="99.3" cy="366" r="1.75" fill="url(#rb)"/><circle cx="102.4" cy="366.6" r="1.75" fill="url(#rb)"/><circle cx="96.7" cy="366.9" r="1.75" fill="url(#rb)"/><circle cx="107.6" cy="367" r="1.75" fill="url(#rb)"/><circle cx="110.7" cy="368" r="1.75" fill="url(#rb)"/><circle cx="99.8" cy="368.4" r="1.75" fill="url(#rb)"/><circle cx="102.5" cy="369.4" r="1.75" fill="url(#rb)"/><circle cx="107.8" cy="369.6" r="1.75" fill="url(#rb)"/><circle cx="96.8" cy="369.7" r="1.75" fill="url(#rb)"/><circle cx="99.4" cy="370.2" r="1.75" fill="url(#rb)"/><circle cx="110.5" cy="370.5" r="1.75" fill="url(#rb)"/><circle cx="102.3" cy="371.7" r="1.75" fill="url(#rb)"/><circle cx="108.1" cy="372" r="1.75" fill="url(#rb)"/><circle cx="99.9" cy="372.6" r="1.75" fill="url(#rb)"/><circle cx="110.3" cy="373" r="1.75" fill="url(#rb)"/><circle cx="114" cy="373.5" r="1.75" fill="url(#rb)"/><circle cx="113.3" cy="373.7" r="1.75" fill="url(#rb)"/><circle cx="108.2" cy="374" r="1.75" fill="url(#rb)"/><circle cx="102.1" cy="374.2" r="1.75" fill="url(#rb)"/><circle cx="120" cy="374.5" r="1.75" fill="url(#rb)"/><circle cx="110.6" cy="375.3" r="1.75" fill="url(#rb)"/><circle cx="108.1" cy="376.1" r="1.75" fill="url(#rb)"/><circle cx="113.7" cy="376.4" r="1.75" fill="url(#rb)"/><circle cx="102.5" cy="376.6" r="1.75" fill="url(#rb)"/><circle cx="110.3" cy="377.5" r="1.75" fill="url(#rb)"/><circle cx="102.6" cy="378.5" r="1.75" fill="url(#rb)"/><circle cx="113.5" cy="378.7" r="1.75" fill="url(#rb)"/><circle cx="116.3" cy="379.7" r="1.75" fill="url(#rb)"/><circle cx="110.7" cy="380" r="1.75" fill="url(#rb)"/><circle cx="120" cy="380.5" r="1.75" fill="url(#rb)"/><circle cx="113.3" cy="380.7" r="1.75" fill="url(#rb)"/><circle cx="102.4" cy="381.4" r="1.75" fill="url(#rb)"/><circle cx="107.7" cy="381.4" r="1.75" fill="url(#rb)"/><circle cx="115.8" cy="382" r="1.75" fill="url(#rb)"/><circle cx="110.9" cy="382.4" r="1.75" fill="url(#rb)"/><circle cx="113.1" cy="383.3" r="1.75" fill="url(#rb)"/><circle cx="107.8" cy="383.4" r="1.75" fill="url(#rb)"/><circle cx="115.8" cy="384.4" r="1.75" fill="url(#rb)"/><circle cx="110.6" cy="384.9" r="1.75" fill="url(#rb)"/><circle cx="125" cy="385.5" r="1.75" fill="url(#rb)"/><circle cx="108.1" cy="385.9" r="1.75" fill="url(#rb)"/><circle cx="129" cy="386" r="1.75" fill="url(#rb)"/><circle cx="124.5" cy="386" r="1.75" fill="url(#rb)"/><circle cx="113.5" cy="386" r="1.75" fill="url(#rb)"/><circle cx="128.5" cy="386.5" r="1.75" fill="url(#rb)"/><circle cx="110.5" cy="387.3" r="1.75" fill="url(#rb)"/><circle cx="116.2" cy="387.3" r="1.75" fill="url(#rb)"/><circle cx="126.5" cy="387.5" r="1.75" fill="url(#rb)"/><circle cx="107.6" cy="387.9" r="1.75" fill="url(#rb)"/><circle cx="125" cy="388" r="1.75" fill="url(#rb)"/><circle cx="138" cy="388" r="1.75" fill="url(#rb)"/><circle cx="113.4" cy="388.3" r="1.75" fill="url(#rb)"/><circle cx="129" cy="388.5" r="1.75" fill="url(#rb)"/><circle cx="110.4" cy="389.5" r="1.75" fill="url(#rb)"/><circle cx="137.5" cy="389.5" r="1.75" fill="url(#rb)"/><circle cx="137" cy="390" r="1.75" fill="url(#rb)"/><circle cx="113.1" cy="390.7" r="1.75" fill="url(#rb)"/><circle cx="107.9" cy="390.7" r="1.75" fill="url(#rb)"/><circle cx="138.5" cy="391" r="1.75" fill="url(#rb)"/><circle cx="110.7" cy="391.8" r="1.75" fill="url(#rb)"/><circle cx="116.4" cy="392" r="1.75" fill="url(#rb)"/><circle cx="126" cy="392" r="1.75" fill="url(#rb)"/><circle cx="138.5" cy="392.5" r="1.75" fill="url(#rb)"/><circle cx="108.2" cy="392.6" r="1.75" fill="url(#rb)"/><circle cx="118.6" cy="392.9" r="1.75" fill="url(#rb)"/><circle cx="113.2" cy="393.1" r="1.75" fill="url(#rb)"/><circle cx="110.4" cy="393.8" r="1.75" fill="url(#rb)"/><circle cx="116" cy="394" r="1.75" fill="url(#rb)"/><circle cx="129.5" cy="395" r="1.75" fill="url(#rb)"/><circle cx="118.7" cy="395.4" r="1.75" fill="url(#rb)"/><circle cx="113.6" cy="395.4" r="1.75" fill="url(#rb)"/><circle cx="122.5" cy="396" r="1.75" fill="url(#rb)"/><circle cx="110.3" cy="396.1" r="1.75" fill="url(#rb)"/><circle cx="116" cy="396.3" r="1.75" fill="url(#rb)"/><circle cx="126.5" cy="396.5" r="1.75" fill="url(#rb)"/><circle cx="113.1" cy="397.2" r="1.75" fill="url(#rb)"/><circle cx="118.7" cy="397.5" r="1.75" fill="url(#rb)"/><circle cx="124.5" cy="398" r="1.75" fill="url(#rb)"/><circle cx="115.8" cy="398.4" r="1.75" fill="url(#rb)"/><circle cx="131" cy="398.5" r="1.75" fill="url(#rb)"/><circle cx="128" cy="399" r="1.75" fill="url(#rb)"/><circle cx="119.2" cy="399.9" r="1.75" fill="url(#rb)"/><circle cx="131.5" cy="400" r="1.75" fill="url(#rb)"/><circle cx="123" cy="401" r="1.75" fill="url(#rb)"/><circle cx="127" cy="401.5" r="1.75" fill="url(#rb)"/><circle cx="118.6" cy="402.4" r="1.75" fill="url(#rb)"/><circle cx="125" cy="403" r="1.75" fill="url(#rb)"/><circle cx="119" cy="404.4" r="1.75" fill="url(#rb)"/><circle cx="119.1" cy="406.6" r="1.75" fill="url(#rb)"/><circle cx="118.6" cy="409.4" r="1.75" fill="url(#rb)"/>
<circle cx="61" cy="264.5" r="1.85" fill="url(#bb)"/><circle cx="62.6" cy="263.3" r="1.85" fill="url(#bb)"/><circle cx="64.1" cy="262.4" r="1.85" fill="url(#bb)"/><circle cx="62.5" cy="266" r="1.85" fill="url(#bb)"/><circle cx="63.8" cy="267.2" r="1.85" fill="url(#bb)"/><circle cx="69.3" cy="269.5" r="1.85" fill="url(#bb)"/><circle cx="68.7" cy="271.3" r="1.85" fill="url(#bb)"/><circle cx="68" cy="273" r="1.85" fill="url(#bb)"/><circle cx="67.3" cy="274.6" r="1.85" fill="url(#bb)"/><circle cx="76.5" cy="281.2" r="1.85" fill="url(#bb)"/><circle cx="77.8" cy="279.8" r="1.85" fill="url(#bb)"/><circle cx="79.1" cy="278.6" r="1.85" fill="url(#bb)"/><circle cx="87.5" cy="289.8" r="1.85" fill="url(#bb)"/><circle cx="88.9" cy="288.2" r="1.85" fill="url(#bb)"/><circle cx="90.2" cy="286.7" r="1.85" fill="url(#bb)"/><circle cx="99.2" cy="298.4" r="1.85" fill="url(#bb)"/><circle cx="100.5" cy="297" r="1.85" fill="url(#bb)"/><circle cx="101.7" cy="295.6" r="1.85" fill="url(#bb)"/>
<circle cx="330.3" cy="275.5" r="1.75" fill="url(#rb)"/><circle cx="327.5" cy="276.6" r="1.75" fill="url(#rb)"/><circle cx="330.2" cy="278.2" r="1.75" fill="url(#rb)"/><circle cx="327.6" cy="279.5" r="1.75" fill="url(#rb)"/><circle cx="330.5" cy="280.6" r="1.75" fill="url(#rb)"/><circle cx="327.9" cy="281.3" r="1.75" fill="url(#rb)"/><circle cx="314.1" cy="282.5" r="1.75" fill="url(#rb)"/><circle cx="319.2" cy="282.5" r="1.75" fill="url(#rb)"/><circle cx="330.2" cy="282.9" r="1.75" fill="url(#rb)"/><circle cx="327.8" cy="283.7" r="1.75" fill="url(#rb)"/><circle cx="316.9" cy="284" r="1.75" fill="url(#rb)"/><circle cx="314" cy="285" r="1.75" fill="url(#rb)"/><circle cx="330.7" cy="285.2" r="1.75" fill="url(#rb)"/><circle cx="319.5" cy="285.2" r="1.75" fill="url(#rb)"/><circle cx="325.1" cy="285.3" r="1.75" fill="url(#rb)"/><circle cx="322" cy="285.9" r="1.75" fill="url(#rb)"/><circle cx="316.9" cy="286" r="1.75" fill="url(#rb)"/><circle cx="327.6" cy="286.4" r="1.75" fill="url(#rb)"/><circle cx="330.6" cy="287.2" r="1.75" fill="url(#rb)"/><circle cx="313.7" cy="287.4" r="1.75" fill="url(#rb)"/><circle cx="319.4" cy="287.6" r="1.75" fill="url(#rb)"/><circle cx="324.9" cy="287.7" r="1.75" fill="url(#rb)"/><circle cx="327.7" cy="288.2" r="1.75" fill="url(#rb)"/><circle cx="316.8" cy="288.2" r="1.75" fill="url(#rb)"/><circle cx="322.5" cy="288.3" r="1.75" fill="url(#rb)"/><circle cx="333.1" cy="288.8" r="1.75" fill="url(#rb)"/><circle cx="319.5" cy="289.4" r="1.75" fill="url(#rb)"/><circle cx="314" cy="289.5" r="1.75" fill="url(#rb)"/><circle cx="324.8" cy="289.7" r="1.75" fill="url(#rb)"/><circle cx="335.6" cy="290" r="1.75" fill="url(#rb)"/><circle cx="316.4" cy="290.6" r="1.75" fill="url(#rb)"/><circle cx="333.2" cy="290.8" r="1.75" fill="url(#rb)"/><circle cx="327.7" cy="291.2" r="1.75" fill="url(#rb)"/><circle cx="338.8" cy="291.2" r="1.75" fill="url(#rb)"/><circle cx="325.1" cy="291.8" r="1.75" fill="url(#rb)"/><circle cx="319.5" cy="291.9" r="1.75" fill="url(#rb)"/><circle cx="335.9" cy="291.9" r="1.75" fill="url(#rb)"/><circle cx="313.8" cy="292.1" r="1.75" fill="url(#rb)"/><circle cx="338.5" cy="293.1" r="1.75" fill="url(#rb)"/><circle cx="333" cy="293.5" r="1.75" fill="url(#rb)"/><circle cx="327.5" cy="293.5" r="1.75" fill="url(#rb)"/><circle cx="316.4" cy="293.5" r="1.75" fill="url(#rb)"/><circle cx="341.2" cy="294.1" r="1.75" fill="url(#rb)"/><circle cx="325.2" cy="294.1" r="1.75" fill="url(#rb)"/><circle cx="313.6" cy="294.6" r="1.75" fill="url(#rb)"/><circle cx="336.1" cy="294.7" r="1.75" fill="url(#rb)"/><circle cx="319.7" cy="294.7" r="1.75" fill="url(#rb)"/><circle cx="333.4" cy="295.3" r="1.75" fill="url(#rb)"/><circle cx="344.4" cy="295.3" r="1.75" fill="url(#rb)"/><circle cx="316.6" cy="295.4" r="1.75" fill="url(#rb)"/><circle cx="327.5" cy="295.5" r="1.75" fill="url(#rb)"/><circle cx="338.4" cy="295.6" r="1.75" fill="url(#rb)"/><circle cx="335.8" cy="296.6" r="1.75" fill="url(#rb)"/><circle cx="341.3" cy="296.8" r="1.75" fill="url(#rb)"/><circle cx="319.4" cy="296.8" r="1.75" fill="url(#rb)"/><circle cx="313.8" cy="296.8" r="1.75" fill="url(#rb)"/><circle cx="347.2" cy="297" r="1.75" fill="url(#rb)"/><circle cx="338.8" cy="297.7" r="1.75" fill="url(#rb)"/><circle cx="343.8" cy="297.8" r="1.75" fill="url(#rb)"/><circle cx="316.7" cy="297.9" r="1.75" fill="url(#rb)"/><circle cx="333.3" cy="298" r="1.75" fill="url(#rb)"/><circle cx="349.5" cy="298.1" r="1.75" fill="url(#rb)"/><circle cx="335.8" cy="298.8" r="1.75" fill="url(#rb)"/><circle cx="341.4" cy="299.1" r="1.75" fill="url(#rb)"/><circle cx="319.1" cy="299.3" r="1.75" fill="url(#rb)"/><circle cx="352.4" cy="299.4" r="1.75" fill="url(#rb)"/><circle cx="314" cy="299.4" r="1.75" fill="url(#rb)"/><circle cx="347.1" cy="299.4" r="1.75" fill="url(#rb)"/><circle cx="349.6" cy="300" r="1.75" fill="url(#rb)"/><circle cx="316.8" cy="300.3" r="1.75" fill="url(#rb)"/><circle cx="339" cy="300.3" r="1.75" fill="url(#rb)"/><circle cx="344.3" cy="300.6" r="1.75" fill="url(#rb)"/><circle cx="335.7" cy="301.1" r="1.75" fill="url(#rb)"/><circle cx="319.4" cy="301.2" r="1.75" fill="url(#rb)"/><circle cx="352.3" cy="301.5" r="1.75" fill="url(#rb)"/><circle cx="313.8" cy="301.6" r="1.75" fill="url(#rb)"/><circle cx="346.8" cy="301.6" r="1.75" fill="url(#rb)"/><circle cx="341.4" cy="301.8" r="1.75" fill="url(#rb)"/><circle cx="349.9" cy="302.3" r="1.75" fill="url(#rb)"/><circle cx="316.4" cy="302.3" r="1.75" fill="url(#rb)"/><circle cx="355.2" cy="302.8" r="1.75" fill="url(#rb)"/><circle cx="338.4" cy="302.9" r="1.75" fill="url(#rb)"/><circle cx="344.2" cy="302.9" r="1.75" fill="url(#rb)"/><circle cx="357.7" cy="303.5" r="1.75" fill="url(#rb)"/><circle cx="347" cy="303.6" r="1.75" fill="url(#rb)"/><circle cx="336.1" cy="303.6" r="1.75" fill="url(#rb)"/><circle cx="313.7" cy="303.6" r="1.75" fill="url(#rb)"/><circle cx="352.7" cy="303.6" r="1.75" fill="url(#rb)"/><circle cx="341.2" cy="303.9" r="1.75" fill="url(#rb)"/><circle cx="319.1" cy="304.1" r="1.75" fill="url(#rb)"/><circle cx="316.6" cy="304.8" r="1.75" fill="url(#rb)"/><circle cx="360.7" cy="304.9" r="1.75" fill="url(#rb)"/><circle cx="344.4" cy="304.9" r="1.75" fill="url(#rb)"/><circle cx="355.2" cy="305" r="1.75" fill="url(#rb)"/><circle cx="349.6" cy="305.1" r="1.75" fill="url(#rb)"/><circle cx="338.8" cy="305.2" r="1.75" fill="url(#rb)"/><circle cx="352.1" cy="305.8" r="1.75" fill="url(#rb)"/><circle cx="341.2" cy="305.9" r="1.75" fill="url(#rb)"/><circle cx="363.7" cy="306" r="1.75" fill="url(#rb)"/><circle cx="346.9" cy="306" r="1.75" fill="url(#rb)"/><circle cx="319.3" cy="306.3" r="1.75" fill="url(#rb)"/><circle cx="335.8" cy="306.4" r="1.75" fill="url(#rb)"/><circle cx="358.2" cy="306.4" r="1.75" fill="url(#rb)"/><circle cx="338.9" cy="307.1" r="1.75" fill="url(#rb)"/><circle cx="355.1" cy="307.4" r="1.75" fill="url(#rb)"/><circle cx="360.6" cy="307.5" r="1.75" fill="url(#rb)"/><circle cx="344.3" cy="307.6" r="1.75" fill="url(#rb)"/><circle cx="349.5" cy="307.6" r="1.75" fill="url(#rb)"/><circle cx="319.1" cy="308.2" r="1.75" fill="url(#rb)"/><circle cx="341.7" cy="308.4" r="1.75" fill="url(#rb)"/><circle cx="357.9" cy="308.5" r="1.75" fill="url(#rb)"/><circle cx="352.2" cy="308.5" r="1.75" fill="url(#rb)"/><circle cx="363.2" cy="308.6" r="1.75" fill="url(#rb)"/><circle cx="335.8" cy="308.6" r="1.75" fill="url(#rb)"/><circle cx="346.6" cy="308.8" r="1.75" fill="url(#rb)"/><circle cx="360.6" cy="309.8" r="1.75" fill="url(#rb)"/><circle cx="349.4" cy="309.9" r="1.75" fill="url(#rb)"/><circle cx="343.9" cy="309.9" r="1.75" fill="url(#rb)"/><circle cx="338.7" cy="310" r="1.75" fill="url(#rb)"/><circle cx="341.3" cy="310.7" r="1.75" fill="url(#rb)"/><circle cx="358" cy="310.8" r="1.75" fill="url(#rb)"/><circle cx="352.6" cy="311" r="1.75" fill="url(#rb)"/><circle cx="346.7" cy="311" r="1.75" fill="url(#rb)"/><circle cx="363.1" cy="311.1" r="1.75" fill="url(#rb)"/><circle cx="319.4" cy="311.1" r="1.75" fill="url(#rb)"/><circle cx="335.9" cy="311.1" r="1.75" fill="url(#rb)"/><circle cx="355.1" cy="311.8" r="1.75" fill="url(#rb)"/><circle cx="360.6" cy="311.9" r="1.75" fill="url(#rb)"/><circle cx="349.4" cy="312" r="1.75" fill="url(#rb)"/><circle cx="339" cy="312" r="1.75" fill="url(#rb)"/><circle cx="344.2" cy="312.4" r="1.75" fill="url(#rb)"/><circle cx="341.3" cy="313" r="1.75" fill="url(#rb)"/><circle cx="347.2" cy="313.3" r="1.75" fill="url(#rb)"/><circle cx="319.2" cy="313.4" r="1.75" fill="url(#rb)"/><circle cx="363.2" cy="313.4" r="1.75" fill="url(#rb)"/><circle cx="335.8" cy="313.5" r="1.75" fill="url(#rb)"/><circle cx="357.8" cy="313.5" r="1.75" fill="url(#rb)"/><circle cx="352.7" cy="313.5" r="1.75" fill="url(#rb)"/><circle cx="343.8" cy="314.1" r="1.75" fill="url(#rb)"/><circle cx="338.7" cy="314.1" r="1.75" fill="url(#rb)"/><circle cx="360.6" cy="314.6" r="1.75" fill="url(#rb)"/><circle cx="355" cy="314.6" r="1.75" fill="url(#rb)"/><circle cx="349.4" cy="314.7" r="1.75" fill="url(#rb)"/><circle cx="352.5" cy="315.2" r="1.75" fill="url(#rb)"/><circle cx="341.5" cy="315.2" r="1.75" fill="url(#rb)"/><circle cx="363.7" cy="315.2" r="1.75" fill="url(#rb)"/><circle cx="347.2" cy="315.3" r="1.75" fill="url(#rb)"/><circle cx="357.9" cy="315.3" r="1.75" fill="url(#rb)"/><circle cx="335.6" cy="315.6" r="1.75" fill="url(#rb)"/><circle cx="360.4" cy="316.5" r="1.75" fill="url(#rb)"/><circle cx="349.9" cy="316.6" r="1.75" fill="url(#rb)"/><circle cx="338.9" cy="316.7" r="1.75" fill="url(#rb)"/><circle cx="354.9" cy="316.7" r="1.75" fill="url(#rb)"/><circle cx="344.3" cy="316.8" r="1.75" fill="url(#rb)"/><circle cx="346.6" cy="317.7" r="1.75" fill="url(#rb)"/><circle cx="341.6" cy="317.8" r="1.75" fill="url(#rb)"/><circle cx="335.9" cy="317.9" r="1.75" fill="url(#rb)"/><circle cx="363.2" cy="318" r="1.75" fill="url(#rb)"/><circle cx="357.6" cy="318" r="1.75" fill="url(#rb)"/><circle cx="352.3" cy="318.2" r="1.75" fill="url(#rb)"/><circle cx="343.9" cy="318.9" r="1.75" fill="url(#rb)"/><circle cx="338.5" cy="318.9" r="1.75" fill="url(#rb)"/><circle cx="360.8" cy="319.2" r="1.75" fill="url(#rb)"/><circle cx="355" cy="319.3" r="1.75" fill="url(#rb)"/><circle cx="349.5" cy="319.4" r="1.75" fill="url(#rb)"/><circle cx="352.4" cy="319.9" r="1.75" fill="url(#rb)"/><circle cx="341.7" cy="320.2" r="1.75" fill="url(#rb)"/><circle cx="347.2" cy="320.2" r="1.75" fill="url(#rb)"/><circle cx="363.6" cy="320.3" r="1.75" fill="url(#rb)"/><circle cx="336.2" cy="320.4" r="1.75" fill="url(#rb)"/><circle cx="358" cy="320.6" r="1.75" fill="url(#rb)"/><circle cx="360.8" cy="321.3" r="1.75" fill="url(#rb)"/><circle cx="338.7" cy="321.4" r="1.75" fill="url(#rb)"/><circle cx="350" cy="321.6" r="1.75" fill="url(#rb)"/><circle cx="355.3" cy="321.7" r="1.75" fill="url(#rb)"/><circle cx="344.3" cy="321.8" r="1.75" fill="url(#rb)"/><circle cx="363.6" cy="322.3" r="1.75" fill="url(#rb)"/><circle cx="335.8" cy="322.5" r="1.75" fill="url(#rb)"/><circle cx="341.3" cy="322.6" r="1.75" fill="url(#rb)"/><circle cx="352.7" cy="322.7" r="1.75" fill="url(#rb)"/><circle cx="346.7" cy="322.8" r="1.75" fill="url(#rb)"/><circle cx="358.1" cy="322.8" r="1.75" fill="url(#rb)"/><circle cx="360.6" cy="323.4" r="1.75" fill="url(#rb)"/><circle cx="338.3" cy="323.7" r="1.75" fill="url(#rb)"/><circle cx="344.5" cy="323.7" r="1.75" fill="url(#rb)"/><circle cx="349.7" cy="324" r="1.75" fill="url(#rb)"/><circle cx="355.2" cy="324.1" r="1.75" fill="url(#rb)"/><circle cx="357.8" cy="324.6" r="1.75" fill="url(#rb)"/><circle cx="336" cy="324.7" r="1.75" fill="url(#rb)"/><circle cx="352.1" cy="324.7" r="1.75" fill="url(#rb)"/><circle cx="363.6" cy="324.9" r="1.75" fill="url(#rb)"/><circle cx="346.6" cy="324.9" r="1.75" fill="url(#rb)"/><circle cx="341.6" cy="325.3" r="1.75" fill="url(#rb)"/><circle cx="354.9" cy="325.8" r="1.75" fill="url(#rb)"/><circle cx="344" cy="325.9" r="1.75" fill="url(#rb)"/><circle cx="338.8" cy="325.9" r="1.75" fill="url(#rb)"/><circle cx="360.7" cy="326.2" r="1.75" fill="url(#rb)"/><circle cx="349.4" cy="326.4" r="1.75" fill="url(#rb)"/><circle cx="352.6" cy="327" r="1.75" fill="url(#rb)"/><circle cx="358.1" cy="327.2" r="1.75" fill="url(#rb)"/><circle cx="363.1" cy="327.3" r="1.75" fill="url(#rb)"/><circle cx="335.6" cy="327.4" r="1.75" fill="url(#rb)"/><circle cx="346.7" cy="327.4" r="1.75" fill="url(#rb)"/><circle cx="341.3" cy="327.5" r="1.75" fill="url(#rb)"/><circle cx="355" cy="328.2" r="1.75" fill="url(#rb)"/><circle cx="338.7" cy="328.2" r="1.75" fill="url(#rb)"/><circle cx="360.9" cy="328.3" r="1.75" fill="url(#rb)"/><circle cx="344.5" cy="328.6" r="1.75" fill="url(#rb)"/><circle cx="349.8" cy="328.6" r="1.75" fill="url(#rb)"/><circle cx="363.1" cy="329.4" r="1.75" fill="url(#rb)"/><circle cx="336.1" cy="329.6" r="1.75" fill="url(#rb)"/><circle cx="341.5" cy="329.8" r="1.75" fill="url(#rb)"/><circle cx="357.8" cy="329.8" r="1.75" fill="url(#rb)"/><circle cx="352.2" cy="329.9" r="1.75" fill="url(#rb)"/><circle cx="346.8" cy="329.9" r="1.75" fill="url(#rb)"/><circle cx="343.9" cy="330.6" r="1.75" fill="url(#rb)"/><circle cx="338.9" cy="330.6" r="1.75" fill="url(#rb)"/><circle cx="355.1" cy="330.7" r="1.75" fill="url(#rb)"/><circle cx="360.4" cy="331" r="1.75" fill="url(#rb)"/><circle cx="349.6" cy="331.1" r="1.75" fill="url(#rb)"/><circle cx="347.2" cy="331.9" r="1.75" fill="url(#rb)"/><circle cx="363.3" cy="332" r="1.75" fill="url(#rb)"/><circle cx="358.2" cy="332" r="1.75" fill="url(#rb)"/><circle cx="341.7" cy="332" r="1.75" fill="url(#rb)"/><circle cx="335.9" cy="332.2" r="1.75" fill="url(#rb)"/><circle cx="352.3" cy="332.3" r="1.75" fill="url(#rb)"/><circle cx="344.3" cy="332.9" r="1.75" fill="url(#rb)"/><circle cx="349.9" cy="332.9" r="1.75" fill="url(#rb)"/><circle cx="355.5" cy="333" r="1.75" fill="url(#rb)"/><circle cx="360.6" cy="333.1" r="1.75" fill="url(#rb)"/><circle cx="338.8" cy="333.3" r="1.75" fill="url(#rb)"/><circle cx="352.5" cy="334" r="1.75" fill="url(#rb)"/><circle cx="341.2" cy="334.1" r="1.75" fill="url(#rb)"/><circle cx="335.8" cy="334.2" r="1.75" fill="url(#rb)"/><circle cx="363.3" cy="334.5" r="1.75" fill="url(#rb)"/><circle cx="347.1" cy="334.5" r="1.75" fill="url(#rb)"/><circle cx="344.3" cy="335.2" r="1.75" fill="url(#rb)"/><circle cx="338.8" cy="335.4" r="1.75" fill="url(#rb)"/><circle cx="355" cy="335.4" r="1.75" fill="url(#rb)"/><circle cx="349.7" cy="335.5" r="1.75" fill="url(#rb)"/><circle cx="360.6" cy="335.7" r="1.75" fill="url(#rb)"/><circle cx="341.6" cy="336.4" r="1.75" fill="url(#rb)"/><circle cx="352.7" cy="336.4" r="1.75" fill="url(#rb)"/><circle cx="363.7" cy="336.5" r="1.75" fill="url(#rb)"/><circle cx="375.4" cy="336.5" r="1.75" fill="url(#rb)"/><circle cx="336.1" cy="336.5" r="1.75" fill="url(#rb)"/><circle cx="347.2" cy="336.6" r="1.75" fill="url(#rb)"/><circle cx="358.1" cy="337" r="1.75" fill="url(#rb)"/><circle cx="338.9" cy="337.6" r="1.75" fill="url(#rb)"/><circle cx="355.3" cy="337.8" r="1.75" fill="url(#rb)"/><circle cx="349.4" cy="337.9" r="1.75" fill="url(#rb)"/><circle cx="344.4" cy="337.9" r="1.75" fill="url(#rb)"/><circle cx="360.9" cy="338.1" r="1.75" fill="url(#rb)"/><circle cx="346.9" cy="338.8" r="1.75" fill="url(#rb)"/><circle cx="352.2" cy="338.8" r="1.75" fill="url(#rb)"/><circle cx="363.4" cy="339" r="1.75" fill="url(#rb)"/><circle cx="375.4" cy="339" r="1.75" fill="url(#rb)"/><circle cx="336.2" cy="339" r="1.75" fill="url(#rb)"/><circle cx="341.4" cy="339" r="1.75" fill="url(#rb)"/><circle cx="357.7" cy="339.3" r="1.75" fill="url(#rb)"/><circle cx="338.6" cy="339.9" r="1.75" fill="url(#rb)"/><circle cx="354.8" cy="340" r="1.75" fill="url(#rb)"/><circle cx="360.6" cy="340.1" r="1.75" fill="url(#rb)"/><circle cx="349.5" cy="340.1" r="1.75" fill="url(#rb)"/><circle cx="344.4" cy="340.3" r="1.75" fill="url(#rb)"/><circle cx="341.7" cy="341.3" r="1.75" fill="url(#rb)"/><circle cx="357.6" cy="341.3" r="1.75" fill="url(#rb)"/><circle cx="346.7" cy="341.5" r="1.75" fill="url(#rb)"/><circle cx="363.2" cy="341.7" r="1.75" fill="url(#rb)"/><circle cx="352.5" cy="341.7" r="1.75" fill="url(#rb)"/><circle cx="355.3" cy="342.3" r="1.75" fill="url(#rb)"/><circle cx="349.8" cy="342.6" r="1.75" fill="url(#rb)"/><circle cx="338.9" cy="342.7" r="1.75" fill="url(#rb)"/><circle cx="344.1" cy="342.9" r="1.75" fill="url(#rb)"/><circle cx="357.6" cy="343.4" r="1.75" fill="url(#rb)"/><circle cx="347.2" cy="343.8" r="1.75" fill="url(#rb)"/><circle cx="363.3" cy="343.8" r="1.75" fill="url(#rb)"/><circle cx="352.7" cy="343.8" r="1.75" fill="url(#rb)"/><circle cx="341.7" cy="343.8" r="1.75" fill="url(#rb)"/><circle cx="349.9" cy="344.8" r="1.75" fill="url(#rb)"/><circle cx="354.8" cy="344.9" r="1.75" fill="url(#rb)"/><circle cx="344.4" cy="345" r="1.75" fill="url(#rb)"/><circle cx="338.6" cy="345" r="1.75" fill="url(#rb)"/><circle cx="363.2" cy="345.8" r="1.75" fill="url(#rb)"/><circle cx="341.3" cy="346" r="1.75" fill="url(#rb)"/><circle cx="352.2" cy="346.3" r="1.75" fill="url(#rb)"/><circle cx="358.2" cy="346.4" r="1.75" fill="url(#rb)"/><circle cx="350" cy="347" r="1.75" fill="url(#rb)"/><circle cx="360.4" cy="347" r="1.75" fill="url(#rb)"/><circle cx="343.9" cy="347.2" r="1.75" fill="url(#rb)"/><circle cx="354.9" cy="347.4" r="1.75" fill="url(#rb)"/><circle cx="338.5" cy="347.5" r="1.75" fill="url(#rb)"/><circle cx="363.3" cy="348.2" r="1.75" fill="url(#rb)"/><circle cx="341.6" cy="348.3" r="1.75" fill="url(#rb)"/><circle cx="358.2" cy="348.7" r="1.75" fill="url(#rb)"/><circle cx="352.3" cy="348.7" r="1.75" fill="url(#rb)"/><circle cx="338.4" cy="349.4" r="1.75" fill="url(#rb)"/><circle cx="355.2" cy="349.4" r="1.75" fill="url(#rb)"/><circle cx="350" cy="349.5" r="1.75" fill="url(#rb)"/><circle cx="343.8" cy="349.8" r="1.75" fill="url(#rb)"/><circle cx="360.9" cy="349.9" r="1.75" fill="url(#rb)"/><circle cx="363.4" cy="350.7" r="1.75" fill="url(#rb)"/><circle cx="341.3" cy="350.7" r="1.75" fill="url(#rb)"/><circle cx="358" cy="351.1" r="1.75" fill="url(#rb)"/><circle cx="344.2" cy="351.6" r="1.75" fill="url(#rb)"/><circle cx="349.5" cy="351.6" r="1.75" fill="url(#rb)"/><circle cx="338.7" cy="351.8" r="1.75" fill="url(#rb)"/><circle cx="355.1" cy="352.1" r="1.75" fill="url(#rb)"/><circle cx="360.9" cy="352.2" r="1.75" fill="url(#rb)"/><circle cx="341.4" cy="353" r="1.75" fill="url(#rb)"/><circle cx="363.6" cy="353" r="1.75" fill="url(#rb)"/><circle cx="358.2" cy="353.2" r="1.75" fill="url(#rb)"/><circle cx="355.4" cy="354" r="1.75" fill="url(#rb)"/><circle cx="349.4" cy="354.2" r="1.75" fill="url(#rb)"/><circle cx="344.1" cy="354.4" r="1.75" fill="url(#rb)"/><circle cx="360.4" cy="354.5" r="1.75" fill="url(#rb)"/><circle cx="341.6" cy="355.3" r="1.75" fill="url(#rb)"/><circle cx="369.1" cy="355.3" r="1.75" fill="url(#rb)"/><circle cx="363.7" cy="355.4" r="1.75" fill="url(#rb)"/><circle cx="357.9" cy="355.5" r="1.75" fill="url(#rb)"/><circle cx="355.1" cy="356.5" r="1.75" fill="url(#rb)"/><circle cx="344.3" cy="356.6" r="1.75" fill="url(#rb)"/><circle cx="366.2" cy="356.8" r="1.75" fill="url(#rb)"/><circle cx="371.9" cy="356.9" r="1.75" fill="url(#rb)"/><circle cx="360.4" cy="357" r="1.75" fill="url(#rb)"/><circle cx="349.7" cy="357" r="1.75" fill="url(#rb)"/><circle cx="368.9" cy="357.5" r="1.75" fill="url(#rb)"/><circle cx="341.1" cy="357.6" r="1.75" fill="url(#rb)"/><circle cx="374.7" cy="357.7" r="1.75" fill="url(#rb)"/><circle cx="357.8" cy="357.9" r="1.75" fill="url(#rb)"/><circle cx="363.2" cy="358" r="1.75" fill="url(#rb)"/><circle cx="366.2" cy="358.8" r="1.75" fill="url(#rb)"/><circle cx="360.6" cy="359.1" r="1.75" fill="url(#rb)"/><circle cx="371.6" cy="359.2" r="1.75" fill="url(#rb)"/><circle cx="344.5" cy="359.3" r="1.75" fill="url(#rb)"/><circle cx="349.6" cy="359.3" r="1.75" fill="url(#rb)"/><circle cx="355.3" cy="359.4" r="1.75" fill="url(#rb)"/><circle cx="352.1" cy="360" r="1.75" fill="url(#rb)"/><circle cx="374.6" cy="360" r="1.75" fill="url(#rb)"/><circle cx="357.7" cy="360" r="1.75" fill="url(#rb)"/><circle cx="363.4" cy="360.1" r="1.75" fill="url(#rb)"/><circle cx="346.6" cy="360.3" r="1.75" fill="url(#rb)"/><circle cx="368.9" cy="360.4" r="1.75" fill="url(#rb)"/><circle cx="344" cy="361.3" r="1.75" fill="url(#rb)"/><circle cx="360.3" cy="361.3" r="1.75" fill="url(#rb)"/><circle cx="335.5" cy="361.4" r="1.75" fill="url(#rb)"/><circle cx="366.4" cy="361.4" r="1.75" fill="url(#rb)"/><circle cx="355" cy="361.5" r="1.75" fill="url(#rb)"/><circle cx="371.9" cy="361.6" r="1.75" fill="url(#rb)"/><circle cx="374.3" cy="362.4" r="1.75" fill="url(#rb)"/><circle cx="357.9" cy="362.5" r="1.75" fill="url(#rb)"/><circle cx="363.6" cy="362.5" r="1.75" fill="url(#rb)"/><circle cx="368.9" cy="362.8" r="1.75" fill="url(#rb)"/><circle cx="371.5" cy="363.4" r="1.75" fill="url(#rb)"/><circle cx="360.3" cy="363.6" r="1.75" fill="url(#rb)"/><circle cx="366.1" cy="363.7" r="1.75" fill="url(#rb)"/><circle cx="355.1" cy="363.9" r="1.75" fill="url(#rb)"/><circle cx="369.2" cy="364.8" r="1.75" fill="url(#rb)"/><circle cx="374.7" cy="364.8" r="1.75" fill="url(#rb)"/><circle cx="357.7" cy="364.9" r="1.75" fill="url(#rb)"/><circle cx="363.3" cy="365.1" r="1.75" fill="url(#rb)"/><circle cx="377.3" cy="366" r="1.75" fill="url(#rb)"/><circle cx="371.7" cy="366.2" r="1.75" fill="url(#rb)"/><circle cx="366.4" cy="366.2" r="1.75" fill="url(#rb)"/><circle cx="360.5" cy="366.2" r="1.75" fill="url(#rb)"/><circle cx="374.4" cy="366.9" r="1.75" fill="url(#rb)"/><circle cx="368.8" cy="366.9" r="1.75" fill="url(#rb)"/><circle cx="380.1" cy="367.1" r="1.75" fill="url(#rb)"/><circle cx="358.1" cy="367.4" r="1.75" fill="url(#rb)"/><circle cx="363.2" cy="367.6" r="1.75" fill="url(#rb)"/><circle cx="360.4" cy="368.1" r="1.75" fill="url(#rb)"/><circle cx="366.2" cy="368.1" r="1.75" fill="url(#rb)"/><circle cx="382.9" cy="368.5" r="1.75" fill="url(#rb)"/><circle cx="371.4" cy="368.6" r="1.75" fill="url(#rb)"/><circle cx="376.9" cy="368.7" r="1.75" fill="url(#rb)"/><circle cx="369" cy="369.3" r="1.75" fill="url(#rb)"/><circle cx="357.9" cy="369.4" r="1.75" fill="url(#rb)"/><circle cx="379.6" cy="369.4" r="1.75" fill="url(#rb)"/><circle cx="363.5" cy="369.6" r="1.75" fill="url(#rb)"/><circle cx="374.6" cy="369.9" r="1.75" fill="url(#rb)"/><circle cx="360.7" cy="370.6" r="1.75" fill="url(#rb)"/><circle cx="371.9" cy="370.7" r="1.75" fill="url(#rb)"/><circle cx="382.6" cy="370.9" r="1.75" fill="url(#rb)"/><circle cx="366.5" cy="370.9" r="1.75" fill="url(#rb)"/><circle cx="377.2" cy="371" r="1.75" fill="url(#rb)"/><circle cx="363.2" cy="371.7" r="1.75" fill="url(#rb)"/><circle cx="368.8" cy="371.8" r="1.75" fill="url(#rb)"/><circle cx="385.6" cy="371.8" r="1.75" fill="url(#rb)"/><circle cx="374.2" cy="371.8" r="1.75" fill="url(#rb)"/><circle cx="379.9" cy="371.9" r="1.75" fill="url(#rb)"/><circle cx="388" cy="372.8" r="1.75" fill="url(#rb)"/><circle cx="382.4" cy="372.8" r="1.75" fill="url(#rb)"/><circle cx="360.9" cy="373.4" r="1.75" fill="url(#rb)"/><circle cx="390.9" cy="374.1" r="1.75" fill="url(#rb)"/><circle cx="363.5" cy="374.1" r="1.75" fill="url(#rb)"/><circle cx="379.7" cy="374.3" r="1.75" fill="url(#rb)"/><circle cx="385.2" cy="374.4" r="1.75" fill="url(#rb)"/><circle cx="408.5" cy="375" r="1.75" fill="url(#rb)"/><circle cx="382.7" cy="375.2" r="1.75" fill="url(#rb)"/><circle cx="360.7" cy="375.5" r="1.75" fill="url(#rb)"/><circle cx="393.8" cy="375.6" r="1.75" fill="url(#rb)"/><circle cx="387.9" cy="375.6" r="1.75" fill="url(#rb)"/><circle cx="421.8" cy="376" r="1.75" fill="url(#rb)"/><circle cx="391.2" cy="376.6" r="1.75" fill="url(#rb)"/><circle cx="385.3" cy="376.6" r="1.75" fill="url(#rb)"/><circle cx="363.1" cy="376.7" r="1.75" fill="url(#rb)"/><circle cx="396.3" cy="377" r="1.75" fill="url(#rb)"/><circle cx="418" cy="377" r="1.75" fill="url(#rb)"/><circle cx="388.5" cy="377.6" r="1.75" fill="url(#rb)"/><circle cx="393.6" cy="377.7" r="1.75" fill="url(#rb)"/><circle cx="360.3" cy="377.7" r="1.75" fill="url(#rb)"/><circle cx="382.9" cy="377.7" r="1.75" fill="url(#rb)"/><circle cx="396.4" cy="378.8" r="1.75" fill="url(#rb)"/><circle cx="363.4" cy="378.9" r="1.75" fill="url(#rb)"/><circle cx="390.9" cy="379" r="1.75" fill="url(#rb)"/><circle cx="385.5" cy="379.1" r="1.75" fill="url(#rb)"/><circle cx="379.7" cy="379.2" r="1.75" fill="url(#rb)"/><circle cx="393.5" cy="379.9" r="1.75" fill="url(#rb)"/><circle cx="399.3" cy="380" r="1.75" fill="url(#rb)"/><circle cx="388.3" cy="380.1" r="1.75" fill="url(#rb)"/><circle cx="360.7" cy="380.2" r="1.75" fill="url(#rb)"/><circle cx="382.4" cy="380.2" r="1.75" fill="url(#rb)"/><circle cx="401.6" cy="381.2" r="1.75" fill="url(#rb)"/><circle cx="363.1" cy="381.3" r="1.75" fill="url(#rb)"/><circle cx="390.7" cy="381.4" r="1.75" fill="url(#rb)"/><circle cx="428.9" cy="381.4" r="1.75" fill="url(#rb)"/><circle cx="380" cy="381.4" r="1.75" fill="url(#rb)"/><circle cx="396.3" cy="381.5" r="1.75" fill="url(#rb)"/><circle cx="385.4" cy="381.5" r="1.75" fill="url(#rb)"/><circle cx="360.4" cy="382.4" r="1.75" fill="url(#rb)"/><circle cx="404.9" cy="382.5" r="1.75" fill="url(#rb)"/><circle cx="399.2" cy="382.5" r="1.75" fill="url(#rb)"/><circle cx="382.6" cy="382.6" r="1.75" fill="url(#rb)"/><circle cx="393.5" cy="382.7" r="1.75" fill="url(#rb)"/><circle cx="380.1" cy="383.6" r="1.75" fill="url(#rb)"/><circle cx="363.1" cy="383.6" r="1.75" fill="url(#rb)"/><circle cx="390.6" cy="383.6" r="1.75" fill="url(#rb)"/><circle cx="401.6" cy="383.6" r="1.75" fill="url(#rb)"/><circle cx="396.3" cy="383.9" r="1.75" fill="url(#rb)"/><circle cx="385.6" cy="384" r="1.75" fill="url(#rb)"/><circle cx="372" cy="384.2" r="1.75" fill="url(#rb)"/><circle cx="399.4" cy="384.7" r="1.75" fill="url(#rb)"/><circle cx="393.7" cy="385.1" r="1.75" fill="url(#rb)"/><circle cx="382.7" cy="385.1" r="1.75" fill="url(#rb)"/><circle cx="404.5" cy="385.1" r="1.75" fill="url(#rb)"/><circle cx="360.6" cy="385.2" r="1.75" fill="url(#rb)"/><circle cx="367" cy="385.3" r="1.75" fill="url(#rb)"/><circle cx="391.2" cy="385.7" r="1.75" fill="url(#rb)"/><circle cx="401.9" cy="385.7" r="1.75" fill="url(#rb)"/><circle cx="407.1" cy="385.7" r="1.75" fill="url(#rb)"/><circle cx="385.2" cy="385.8" r="1.75" fill="url(#rb)"/><circle cx="399.1" cy="386.9" r="1.75" fill="url(#rb)"/><circle cx="393.8" cy="386.9" r="1.75" fill="url(#rb)"/><circle cx="404.8" cy="386.9" r="1.75" fill="url(#rb)"/><circle cx="421" cy="387" r="1.75" fill="url(#rb)"/><circle cx="425.5" cy="387" r="1.75" fill="url(#rb)"/><circle cx="388.1" cy="387.1" r="1.75" fill="url(#rb)"/><circle cx="411.5" cy="388" r="1.75" fill="url(#rb)"/><circle cx="401.7" cy="388.1" r="1.75" fill="url(#rb)"/><circle cx="385.1" cy="388.4" r="1.75" fill="url(#rb)"/><circle cx="423.5" cy="388.5" r="1.75" fill="url(#rb)"/><circle cx="407.5" cy="388.6" r="1.75" fill="url(#rb)"/><circle cx="391" cy="388.6" r="1.75" fill="url(#rb)"/><circle cx="419" cy="389" r="1.75" fill="url(#rb)"/><circle cx="382.4" cy="389.3" r="1.75" fill="url(#rb)"/><circle cx="399.4" cy="389.4" r="1.75" fill="url(#rb)"/><circle cx="388.5" cy="389.6" r="1.75" fill="url(#rb)"/><circle cx="404.6" cy="389.6" r="1.75" fill="url(#rb)"/><circle cx="393.3" cy="389.7" r="1.75" fill="url(#rb)"/><circle cx="413.5" cy="390" r="1.75" fill="url(#rb)"/><circle cx="396.1" cy="390.4" r="1.75" fill="url(#rb)"/><circle cx="390.6" cy="390.6" r="1.75" fill="url(#rb)"/><circle cx="385.3" cy="390.7" r="1.75" fill="url(#rb)"/><circle cx="401.7" cy="390.8" r="1.75" fill="url(#rb)"/><circle cx="416" cy="391" r="1.75" fill="url(#rb)"/><circle cx="423" cy="391.3" r="1.75" fill="url(#rb)"/><circle cx="420.5" cy="391.5" r="1.75" fill="url(#rb)"/><circle cx="399.3" cy="391.6" r="1.75" fill="url(#rb)"/><circle cx="393.4" cy="391.9" r="1.75" fill="url(#rb)"/><circle cx="382.7" cy="392" r="1.75" fill="url(#rb)"/><circle cx="388.1" cy="392.1" r="1.75" fill="url(#rb)"/><circle cx="412" cy="392.5" r="1.75" fill="url(#rb)"/><circle cx="396.7" cy="392.9" r="1.75" fill="url(#rb)"/><circle cx="391.1" cy="392.9" r="1.75" fill="url(#rb)"/><circle cx="385.6" cy="393.3" r="1.75" fill="url(#rb)"/><circle cx="414.5" cy="394" r="1.75" fill="url(#rb)"/><circle cx="393.6" cy="394" r="1.75" fill="url(#rb)"/><circle cx="411.5" cy="396" r="1.75" fill="url(#rb)"/>
<circle cx="314.1" cy="279.1" r="1.85" fill="url(#bb)"/><circle cx="317.3" cy="280.5" r="1.85" fill="url(#bb)"/><circle cx="320.1" cy="277" r="1.85" fill="url(#bb)"/><circle cx="328.2" cy="274.1" r="1.85" fill="url(#bb)"/><circle cx="330.3" cy="273.5" r="1.85" fill="url(#bb)"/><circle cx="339.8" cy="290.4" r="1.85" fill="url(#bb)"/><circle cx="341.4" cy="291.4" r="1.85" fill="url(#bb)"/><circle cx="345" cy="294.1" r="1.85" fill="url(#bb)"/><circle cx="347.7" cy="295.9" r="1.85" fill="url(#bb)"/><circle cx="350.5" cy="297.3" r="1.85" fill="url(#bb)"/><circle cx="354.1" cy="299.1" r="1.85" fill="url(#bb)"/><circle cx="357.7" cy="301.4" r="1.85" fill="url(#bb)"/><circle cx="360.5" cy="303.2" r="1.85" fill="url(#bb)"/><circle cx="364.1" cy="305.9" r="1.85" fill="url(#bb)"/>
<rect x="433.8" y="8.2" width="111.6" height="31.9" fill="#fff" stroke="#5a5a5a" stroke-width="1"/>
<circle cx="441.1" cy="15.2" r="2.7" fill="#f0101a"/>
<circle cx="441.1" cy="32" r="2.8" fill="#1030b8"/>
<text x="449.7" y="19" font-size="11.7" fill="#111" stroke="#111" stroke-width="0.2" font-family="Liberation Serif, serif">iterative population</text>
<text x="449.7" y="34.6" font-size="11.7" fill="#111" stroke="#111" stroke-width="0.2" font-family="Liberation Serif, serif">frontier population</text>
</svg>
</body></html>
